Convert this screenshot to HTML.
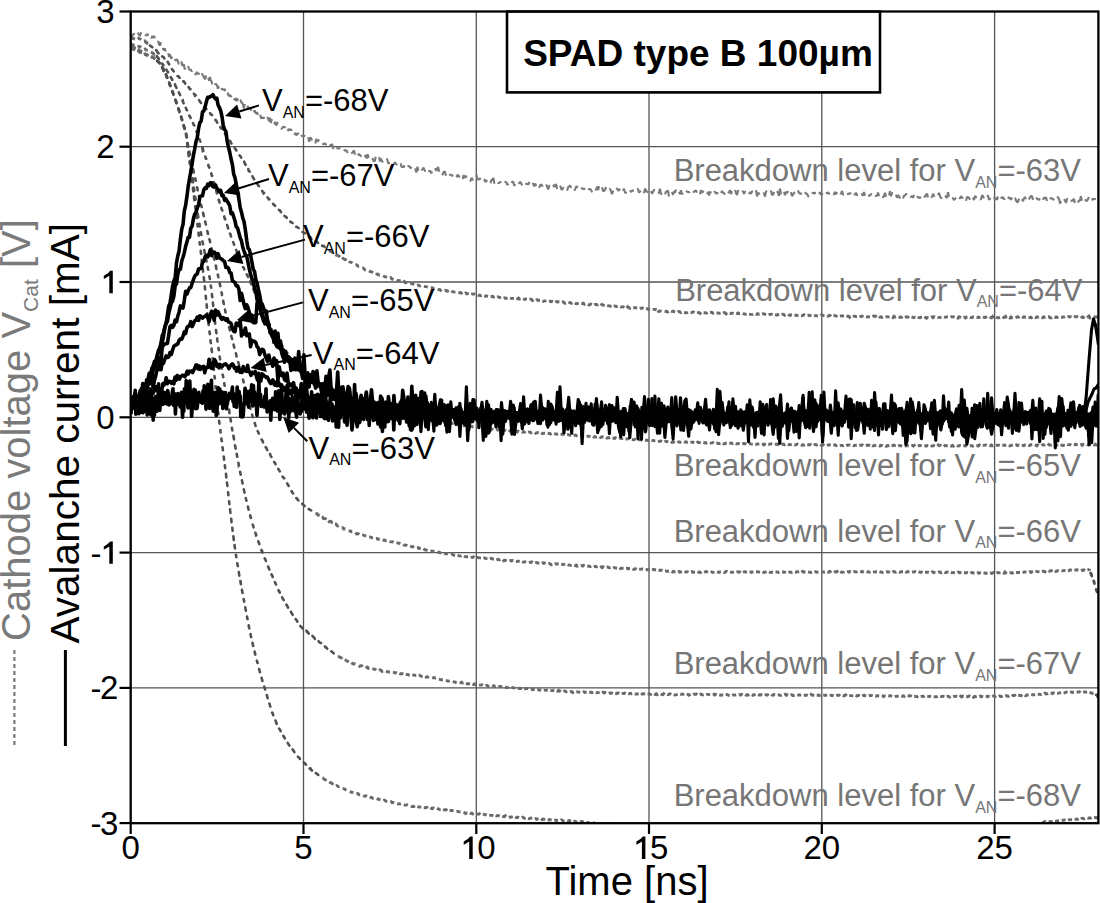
<!DOCTYPE html>
<html><head><meta charset="utf-8"><style>
html,body{margin:0;padding:0;background:#fff;width:1100px;height:903px;overflow:hidden}
svg{display:block;font-family:"Liberation Sans",sans-serif}
.tk{font-size:33px;fill:#000}
.ttl{font-size:40px;fill:#000}
.bt{font-size:37px;font-weight:bold;fill:#000}
.bd{font-size:31px;fill:#767676}
.an{font-size:31px;fill:#000}
.sb{font-size:16px}
.sb2{font-size:16px}
.sb3{font-size:21px}
.gr{stroke:#555;stroke-width:1.3}
.gd{fill:none;stroke:#505050;stroke-width:2.6;stroke-linecap:round}
.gd63{fill:none;stroke:#767676;stroke-width:2.1;stroke-linejoin:bevel}
.gd63f{fill:none;stroke:#7a7a7a;stroke-width:2.1;stroke-linejoin:bevel}
.gdf{fill:none;stroke:#6a6a6a;stroke-width:2.9}
.bk{fill:none;stroke:#000;stroke-width:3.1;stroke-linejoin:round}
.bk2{fill:none;stroke:#000;stroke-width:3.6;stroke-linejoin:round}
</style></head><body>
<svg width="1100" height="903" viewBox="0 0 1100 903">
<defs><clipPath id="pc"><rect x="130.7" y="11.5" width="967.7" height="811.7"/></clipPath></defs>
<line x1="303.5" y1="11.5" x2="303.5" y2="823.2" class="gr"/>
<line x1="476.3" y1="11.5" x2="476.3" y2="823.2" class="gr"/>
<line x1="649.0" y1="11.5" x2="649.0" y2="823.2" class="gr"/>
<line x1="821.8" y1="11.5" x2="821.8" y2="823.2" class="gr"/>
<line x1="994.6" y1="11.5" x2="994.6" y2="823.2" class="gr"/>
<line x1="130.7" y1="146.7" x2="1098.4" y2="146.7" class="gr"/>
<line x1="130.7" y1="282.0" x2="1098.4" y2="282.0" class="gr"/>
<line x1="130.7" y1="417.3" x2="1098.4" y2="417.3" class="gr"/>
<line x1="130.7" y1="552.6" x2="1098.4" y2="552.6" class="gr"/>
<line x1="130.7" y1="687.9" x2="1098.4" y2="687.9" class="gr"/>
<g clip-path="url(#pc)">
<path d="M157.7,42.1 L158.4,41.1 L159.0,44.5 L159.6,45.1 L160.2,45.3 L160.9,42.1M162.8,47.8 L163.4,49.4 L164.1,50.4 L164.8,48.3 L165.5,50.8 L166.2,50.7M168.3,53.1 L169.1,57.0 L169.8,54.5 L170.6,56.4 L171.3,58.6 L172.1,56.7M208.2,77.7 L209.1,80.8 L209.9,76.9 L210.7,80.0 L211.5,81.3 L212.3,84.2M214.7,85.0 L215.5,83.9 L216.3,84.4 L217.1,85.2 L217.9,88.8 L218.8,86.0M221.2,87.9 L222.1,89.6 L222.9,89.4 L223.7,89.8 L224.5,88.8 L225.3,91.3M227.7,92.4 L228.5,95.7 L229.3,95.5 L230.0,95.0 L230.8,96.8 L231.6,95.7M233.9,100.0 L234.6,98.8 L235.4,100.5 L236.2,97.9 L237.0,101.3 L237.9,98.4M253.8,112.4 L254.6,110.3 L255.4,112.6 L256.2,113.4 L257.0,112.1 L257.8,115.0M260.2,114.8 L261.1,118.5 L261.9,117.7 L262.8,118.0 L263.6,117.3 L264.5,118.6" class="gd63"/>
<path d="M131.0,36.0 L132.0,36.3 L132.9,35.0 L133.9,33.7 L134.9,34.2M137.8,32.6 L138.8,34.2 L139.8,36.3 L140.8,33.1 L141.8,32.8M144.7,35.2 L145.7,35.3 L146.6,35.2 L147.5,33.9 L148.4,35.8M151.5,38.8 L152.3,35.8 L153.1,37.9 L154.0,36.0 L154.8,37.6 L155.6,37.3M174.6,59.2 L175.4,60.2 L176.3,60.6 L177.1,59.0 L178.0,61.7 L178.8,64.5M181.3,61.2 L182.2,65.8 L183.0,65.1 L183.8,64.3 L184.7,69.3 L185.5,67.8M188.1,66.0 L188.9,68.7 L189.8,70.1 L190.6,69.3 L191.5,71.3 L192.4,70.5M195.0,73.2 L195.9,75.0 L196.8,71.9 L197.6,73.8 L198.5,73.1 L199.4,74.6M201.7,73.4 L202.6,74.9 L203.5,76.0 L204.4,78.3 L205.2,79.2 L206.1,75.5M240.4,99.4 L241.3,102.8 L242.1,102.3 L243.0,104.6 L243.9,108.6 L244.8,103.9M247.3,105.7 L248.2,107.7 L249.0,108.7 L249.8,108.2 L250.6,108.7 L251.4,110.8M267.2,116.7 L268.1,118.6 L269.1,121.5 L270.0,117.7 L270.9,123.1 L271.8,119.1M274.2,124.3 L275.1,121.9 L276.0,125.1 L276.9,124.4 L277.8,121.9M281.0,128.1 L281.9,128.9 L282.8,126.8 L283.7,126.8 L284.6,127.5 L285.5,126.6M287.7,131.2 L288.6,128.9 L289.5,130.2 L290.4,129.4 L291.3,130.1 L292.2,129.5M294.4,134.9 L295.3,132.9 L296.2,135.3 L297.1,134.1 L298.0,133.3 L298.9,134.3M301.2,134.9 L302.2,136.3 L303.1,136.0 L304.0,136.5 L304.9,135.0M308.2,137.2 L309.2,141.8 L310.1,138.1 L311.0,137.8 L312.0,140.5M315.3,143.5 L316.2,138.9 L317.2,141.4 L318.1,141.0 L319.1,139.4M322.4,144.7 L323.4,143.7 L324.3,144.2 L325.3,143.1 L326.2,145.5M329.5,144.8 L330.5,145.8 L331.5,144.5 L332.4,144.6 L333.4,149.2M336.7,147.1 L337.7,148.8 L338.6,148.5 L339.6,148.1 L340.5,148.3M343.9,151.2 L344.9,149.9 L345.8,150.4 L346.8,151.0 L347.7,153.2M351.1,153.3 L352.1,153.0 L353.1,151.6 L354.0,150.5 L355.0,154.7M357.9,155.5 L358.9,153.8 L359.9,155.2 L360.8,155.9 L361.8,156.2M364.7,157.1 L365.7,155.0 L366.6,158.6 L367.6,154.2 L368.6,158.1M371.9,158.4 L372.9,159.3 L373.8,161.3 L374.8,161.0 L375.7,156.8M379.1,157.0 L380.0,161.5 L381.0,158.7 L381.9,160.8 L382.9,162.5M386.2,159.4 L387.2,158.9 L388.1,163.2 L389.1,163.1 L390.0,162.9M393.4,164.4 L394.3,163.1 L395.3,162.3 L396.3,164.8 L397.2,163.7M400.7,163.3 L401.6,167.2 L402.6,166.5 L403.6,167.4 L404.6,165.3M407.5,166.4 L408.5,166.0 L409.5,166.4 L410.5,168.4 L411.5,166.9M414.4,169.3 L415.4,169.4 L416.4,172.5 L417.4,166.8 L418.4,170.8M421.3,169.6 L422.3,169.9 L423.3,167.6 L424.3,169.5 L425.3,171.6M428.3,170.7 L429.2,171.1 L430.2,170.6 L431.2,173.3 L432.2,171.4M435.2,168.2 L436.2,170.9 L437.1,168.9 L438.1,166.9 L439.1,171.7M442.1,175.3 L443.1,173.3 L444.0,171.4 L445.0,172.0 L446.0,175.7M448.9,174.7 L449.9,174.7 L450.9,174.8 L451.9,175.1 L452.9,176.6M455.8,176.8 L456.8,176.4 L457.8,174.5 L458.7,177.3 L459.7,175.5M462.7,179.0 L463.7,175.1 L464.7,177.2 L465.6,177.6 L466.6,175.5M469.6,181.1 L470.6,180.8 L471.6,177.7 L472.6,179.9 L473.6,179.3M476.5,174.6 L477.5,179.6 L478.5,179.2 L479.5,179.6 L480.5,177.7M483.5,179.4 L484.5,179.7 L485.5,182.1 L486.5,180.8 L487.5,180.3M490.5,183.2 L491.4,179.8 L492.4,180.2 L493.4,177.9 L494.4,183.7M497.4,183.0 L498.4,183.1 L499.4,182.7 L500.4,181.9 L501.4,182.2M504.4,181.7 L505.4,181.9 L506.4,182.4 L507.4,185.0 L508.4,183.5M511.3,182.7 L512.3,181.9 L513.3,181.9 L514.3,185.8 L515.3,184.1M518.3,183.6 L519.3,183.0 L520.3,181.8 L521.3,183.7 L522.3,185.4M525.3,183.5 L526.3,183.9 L527.3,184.0 L528.3,184.6 L529.3,181.8M532.2,184.4 L533.2,183.4 L534.2,186.5 L535.2,183.7 L536.2,186.1M539.2,188.0 L540.2,184.9 L541.2,184.5 L542.2,186.0 L543.2,185.7M546.2,184.3 L547.2,186.8 L548.2,189.5 L549.2,185.8 L550.2,185.9M553.2,184.7 L554.2,187.1 L555.2,184.5 L556.2,184.8 L557.2,189.0M560.2,185.5 L561.2,188.9 L562.2,189.7 L563.2,187.7 L564.1,188.2M567.1,190.8 L568.1,187.2 L569.1,186.6 L570.1,185.4 L571.1,187.8M574.1,190.5 L575.1,189.7 L576.1,186.5 L577.1,186.7 L578.1,187.4M581.1,188.9 L582.1,188.2 L583.1,188.9 L584.1,189.1 L585.1,188.2M588.1,188.8 L589.1,189.3 L590.1,188.9 L591.1,189.9 L592.1,192.3M595.1,190.3 L596.1,189.5 L597.1,186.6 L598.1,190.1 L599.1,186.2M602.1,187.3 L603.1,191.2 L604.1,191.0 L605.1,189.6 L606.1,187.0M609.1,189.4 L610.1,189.0 L611.1,191.3 L612.1,194.1 L613.1,190.6M616.1,189.1 L617.1,188.5 L618.1,190.4 L619.1,190.2 L620.1,188.6M623.0,190.9 L624.0,188.8 L625.0,192.7 L626.0,192.7 L627.0,192.7M630.0,190.2 L631.0,191.9 L632.0,190.9 L633.0,190.5 L634.0,190.6M637.0,189.1 L638.0,188.9 L639.0,192.7 L640.0,191.1 L641.0,191.8M644.0,193.2 L645.0,188.6 L646.0,190.3 L647.0,191.9 L648.0,192.3M651.0,191.1 L652.0,193.5 L653.0,192.2 L654.0,189.8 L655.0,190.3M658.0,193.3 L659.0,192.8 L660.0,188.8 L661.0,194.3 L662.0,193.1M665.0,194.4 L666.0,191.5 L667.0,191.7 L668.0,190.3 L669.0,196.5M672.0,192.0 L673.0,195.0 L674.0,191.2 L675.0,192.6 L676.0,189.5M679.0,191.8 L680.0,194.1 L681.0,190.3 L682.0,194.3 L683.0,193.1M686.0,190.8 L687.0,191.7 L688.0,191.8 L689.0,192.5 L690.0,191.7M693.0,191.2 L694.0,192.1 L695.0,190.9 L696.0,190.5 L697.0,192.6M700.0,194.2 L701.0,190.1 L702.0,192.7 L703.0,191.6 L704.0,191.1M707.0,194.2 L708.0,191.9 L709.0,195.4 L710.0,191.5 L711.0,193.5M714.0,192.5 L715.0,191.6 L716.0,193.9 L717.0,192.6 L718.0,193.9M721.0,192.9 L722.0,191.1 L723.0,192.8 L724.0,193.1 L725.0,194.6M728.0,191.5 L729.0,192.9 L730.0,190.1 L731.0,194.1 L732.0,191.2M735.0,190.0 L736.0,193.0 L737.0,195.0 L738.0,190.5 L739.0,191.2M742.0,191.9 L743.0,191.2 L744.0,193.8 L745.0,191.8 L746.0,191.9M749.0,194.2 L750.0,191.9 L751.0,193.9 L752.0,191.5 L753.0,191.1M756.0,190.1 L757.0,196.4 L758.0,192.7 L759.0,193.7 L760.0,193.2M763.0,193.6 L764.0,193.4 L765.0,196.6 L766.0,191.6 L767.0,190.7M770.0,191.6 L771.0,191.1 L772.0,194.6 L773.0,194.8 L774.0,191.8M777.0,191.1 L778.0,192.8 L779.0,195.8 L780.0,188.7 L781.0,194.4M784.0,191.7 L785.0,195.3 L786.0,191.7 L787.0,193.0 L788.0,191.0M791.0,191.9 L792.0,195.9 L793.0,195.0 L794.0,192.9 L795.0,192.1M798.0,190.4 L799.0,193.0 L800.0,193.6 L801.0,193.6 L802.0,193.6M805.0,191.9 L806.0,193.7 L807.0,193.7 L808.0,196.0 L809.0,197.0M812.0,193.6 L813.0,192.6 L814.0,193.8 L815.0,192.9 L816.0,192.7M819.0,193.9 L820.0,192.2 L821.0,195.0 L822.0,193.9 L823.0,194.5M826.0,193.8 L827.0,192.9 L828.0,192.5 L829.0,193.8 L830.0,193.3M833.0,194.6 L834.0,194.3 L835.0,192.0 L836.0,194.4 L837.0,192.0M840.0,193.3 L841.0,193.9 L842.0,190.9 L843.0,194.6 L844.0,194.7M847.0,194.3 L848.0,193.8 L849.0,193.9 L850.0,192.9 L851.0,194.2M854.0,193.7 L855.0,194.9 L856.0,192.7 L857.0,195.1 L858.0,195.0M861.0,194.6 L862.0,194.1 L863.0,195.8 L864.0,192.1 L865.0,195.7M868.0,195.4 L869.0,195.5 L870.0,195.7 L871.0,194.0 L872.0,194.6M875.0,196.2 L876.0,195.9 L877.0,195.6 L878.0,192.6 L879.0,196.2M882.0,197.3 L883.0,197.1 L884.0,195.8 L885.0,192.7 L886.0,197.0M889.0,195.2 L890.0,191.2 L891.0,196.2 L892.0,193.0 L893.0,193.4M896.0,194.6 L897.0,197.8 L898.0,195.1 L899.0,196.2 L900.0,198.7M903.0,198.5 L904.0,195.7 L905.0,195.5 L906.0,193.7 L907.0,194.7M910.0,196.7 L911.0,196.7 L912.0,196.2 L913.0,197.8 L914.0,194.8M917.0,196.1 L918.0,197.4 L919.0,197.2 L920.0,198.1 L921.0,196.9M924.0,195.8 L925.0,197.0 L926.0,194.7 L927.0,193.6 L928.0,197.4M931.0,196.4 L932.0,197.1 L933.0,193.7 L934.0,196.0 L935.0,195.6M938.0,195.2 L939.0,192.9 L940.0,196.2 L941.0,198.3 L942.0,197.4M945.0,195.8 L946.0,196.8 L947.0,198.2 L948.0,192.2 L949.0,196.7M952.0,197.9 L953.0,198.2 L954.0,200.0 L955.0,199.0 L956.0,197.6M959.0,197.7 L960.0,198.5 L961.0,196.3 L962.0,197.2 L963.0,198.8M966.0,200.7 L967.0,197.1 L968.0,197.3 L969.0,197.8 L970.0,199.7M973.0,197.5 L974.0,200.0 L975.0,195.9 L976.0,197.3 L977.0,197.3M980.0,199.0 L981.0,199.5 L982.0,195.2 L983.0,196.2 L984.0,198.3M987.0,196.7 L988.0,195.3 L989.0,199.7 L990.0,198.7 L991.0,198.8M994.0,197.2 L995.0,199.8 L996.0,197.6 L997.0,199.9 L998.0,196.5M1001.0,196.7 L1002.0,198.5 L1003.0,197.0 L1004.0,199.4 L1005.0,198.7M1008.0,196.7 L1009.0,198.4 L1010.0,197.7 L1011.0,199.9 L1012.0,197.3M1015.0,197.7 L1016.0,200.5 L1017.0,202.3 L1018.0,201.9 L1019.0,198.6M1022.0,199.0 L1023.0,201.2 L1024.0,198.4 L1025.0,197.0 L1026.0,198.9M1029.0,199.5 L1030.0,197.3 L1031.0,196.0 L1032.0,196.3 L1033.0,199.9M1036.0,197.6 L1037.0,198.6 L1038.0,199.3 L1039.0,200.0 L1040.0,198.4M1043.0,199.8 L1044.0,197.5 L1045.0,198.4 L1046.0,197.3 L1047.0,201.0M1050.0,199.1 L1051.0,197.9 L1052.0,198.6 L1053.0,198.8 L1054.0,200.4M1057.0,196.5 L1058.0,197.5 L1059.0,198.6 L1060.0,203.6 L1061.0,200.9M1064.0,199.2 L1065.0,200.6 L1066.0,202.9 L1067.0,199.0 L1068.0,198.8M1070.9,201.6 L1071.9,200.4 L1072.9,200.7 L1073.9,198.7 L1074.9,202.9M1077.9,202.5 L1078.9,200.6 L1079.9,200.8 L1080.9,196.2 L1081.9,200.8M1084.9,199.4 L1085.9,200.5 L1086.9,201.0 L1087.9,199.2 L1088.9,197.0M1091.9,200.5 L1092.9,198.6 L1093.9,199.4 L1094.9,198.9 L1095.9,199.4" class="gd63f"/>
<path d="M150.0,45.5 L150.8,46.2 L151.5,46.6 L152.3,47.2M156.2,50.0 L157.0,51.2 L157.7,52.6 L158.5,53.3M162.2,56.4 L162.9,56.9 L163.6,57.1 L164.3,58.5M167.6,61.8 L168.1,62.6 L168.6,63.4 L169.1,64.4M171.9,69.0 L172.5,69.9 L173.1,70.4 L173.7,71.4M177.5,76.3 L178.2,76.2 L178.9,76.8 L179.6,77.8M183.2,81.4 L183.9,81.5 L184.6,82.5 L185.2,83.6M188.6,87.1 L189.2,87.8 L189.9,89.1 L190.5,89.1M193.9,93.7 L194.5,94.3 L195.1,95.8 L195.8,95.3M199.1,100.1 L199.7,101.0 L200.4,102.2 L201.0,102.9M204.5,107.5 L205.1,107.2 L205.8,108.7 L206.4,109.1M210.1,113.2 L210.7,114.3 L211.3,114.6 L212.0,115.0M215.4,119.9 L216.0,120.3 L216.6,121.4 L217.2,122.6M220.3,127.1 L220.8,128.3 L221.4,128.5 L222.0,128.9M225.0,133.8 L225.5,134.5 L226.1,135.3 L226.6,136.7M229.7,140.8 L230.3,141.2 L230.9,143.0 L231.5,143.5M234.7,148.1 L235.3,148.8 L235.9,149.8 L236.4,150.4M239.6,155.4 L240.1,155.9 L240.7,156.7 L241.2,157.6M244.1,161.6 L244.6,162.9 L245.1,163.8 L245.6,164.8M248.3,169.1 L248.8,171.0 L249.3,171.3 L249.7,171.7M252.5,176.3 L253.1,177.6 L253.6,178.6 L254.1,179.2M257.3,184.0 L257.8,184.5 L258.4,185.8 L259.0,186.1M262.2,190.8 L262.8,192.0 L263.5,193.3 L264.1,192.9M267.5,197.4 L268.1,198.0 L268.8,199.3 L269.4,199.4M273.1,203.8 L273.8,204.7 L274.4,205.1 L275.1,205.8M278.9,209.9 L279.6,210.1 L280.3,211.0 L281.0,212.1M284.5,215.9 L285.2,216.5 L285.9,216.6 L286.7,217.8M290.3,221.6 L291.0,222.2 L291.8,222.7 L292.5,223.0M296.3,226.8 L297.1,227.1 L297.9,227.5 L298.6,228.2M302.6,232.1 L303.4,232.3 L304.2,233.2 L305.0,233.2M309.0,236.7 L309.8,236.7 L310.6,237.5 L311.4,239.0M315.5,241.3 L316.3,241.4 L317.2,242.1 L318.0,242.8M322.1,245.9 L323.0,245.9 L323.8,246.0 L324.6,247.0" class="gd"/>
<path d="M131.0,37.2 L132.0,38.6 L133.0,38.3 L134.0,38.7 L135.0,39.1M137.5,38.7 L138.4,38.3 L139.4,38.8 L140.4,39.0 L141.3,39.6M144.0,41.1 L144.8,40.9 L145.7,42.3 L146.5,42.2 L147.3,43.5 L148.1,44.0M328.8,249.9 L329.7,250.4 L330.5,251.4 L331.4,251.6 L332.2,252.3 L333.1,252.1M335.7,254.4 L336.5,255.3 L337.4,255.3 L338.2,255.7 L339.1,256.1 L340.0,257.2M342.1,257.5 L343.0,258.3 L343.9,258.9 L344.8,259.5 L345.7,259.6 L346.5,260.3M348.8,261.3 L349.6,261.9 L350.5,262.2 L351.4,262.3 L352.3,263.1M355.5,265.0 L356.4,264.8 L357.3,265.5 L358.2,266.2 L359.1,266.0M362.3,267.9 L363.2,267.9 L364.1,269.1 L365.0,269.9 L365.9,270.2M369.1,270.8 L370.1,271.5 L371.0,271.6 L371.9,272.0 L372.9,272.9M376.1,273.1 L377.1,274.3 L378.0,274.2 L379.0,275.1 L379.9,275.0M383.2,275.8 L384.2,276.5 L385.1,276.9 L386.1,277.0 L387.0,277.5M389.9,278.0 L390.8,277.7 L391.8,279.0 L392.8,279.2 L393.7,279.3M396.6,280.1 L397.6,280.7 L398.5,280.4 L399.5,280.6 L400.5,281.1M403.4,282.3 L404.4,281.6 L405.3,282.8 L406.3,282.4 L407.3,282.4M410.2,283.9 L411.2,283.7 L412.1,283.5 L413.1,284.0 L414.1,284.7M417.0,285.4 L418.0,285.1 L419.0,285.6 L420.0,285.9 L420.9,285.6M423.9,286.5 L424.9,286.6 L425.8,286.6 L426.8,286.8 L427.8,287.2M430.8,287.7 L431.7,287.7 L432.7,287.9 L433.7,288.7 L434.7,288.5M437.6,289.3 L438.6,289.6 L439.6,289.5 L440.6,290.3 L441.6,289.4M444.5,290.4 L445.5,290.2 L446.5,291.1 L447.5,291.2 L448.5,290.1M451.5,290.9 L452.4,291.6 L453.4,291.8 L454.4,292.0 L455.4,291.8M458.4,292.5 L459.4,292.7 L460.4,292.6 L461.3,293.1 L462.3,292.1M464.8,293.5 L465.8,293.0 L466.8,293.9 L467.8,293.6 L468.8,293.5M471.3,294.3 L472.2,293.9 L473.2,294.1 L474.2,294.0 L475.2,294.6M477.7,295.1 L478.7,295.4 L479.7,295.2 L480.7,295.7 L481.7,295.4M484.2,295.7 L485.1,296.0 L486.1,296.3 L487.1,295.9 L488.1,296.1M490.6,296.4 L491.6,296.5 L492.6,296.3 L493.6,297.1 L494.6,296.7M497.1,297.2 L498.1,296.8 L499.1,297.4 L500.1,297.5 L501.1,297.3M503.6,298.3 L504.6,297.8 L505.6,298.4 L506.6,298.2 L507.5,297.7M510.0,298.0 L511.0,298.4 L512.0,298.4 L513.0,298.4 L514.0,298.4M516.5,298.1 L517.5,298.7 L518.5,298.1 L519.5,299.1 L520.5,298.7M523.0,298.9 L524.0,299.2 L525.0,299.4 L526.0,298.9 L527.0,298.9M529.5,299.3 L530.5,299.0 L531.5,299.5 L532.5,300.5 L533.5,299.6M536.0,300.4 L537.0,299.7 L538.0,300.4 L539.0,300.3 L540.0,300.4M542.4,300.8 L543.4,301.3 L544.4,300.9 L545.4,300.9 L546.4,300.6M548.9,301.3 L549.9,301.1 L550.9,301.6 L551.9,301.3 L552.9,302.0M555.4,300.9 L556.4,301.6 L557.4,302.1 L558.4,301.7 L559.4,301.7M561.9,302.1 L562.9,301.8 L563.9,302.4 L564.9,303.3 L565.9,302.9M568.4,302.3 L569.4,302.5 L570.4,302.7 L571.4,303.3 L572.4,302.7M574.8,303.0 L575.8,303.6 L576.8,303.7 L577.8,303.3 L578.8,303.1M581.3,303.2 L582.3,303.5 L583.3,303.1 L584.3,304.2 L585.3,303.8M587.8,304.4 L588.8,304.9 L589.8,304.8 L590.8,304.0 L591.8,304.8M594.3,305.1 L595.3,304.5 L596.3,304.5 L597.3,304.9 L598.3,304.4M600.8,305.7 L601.8,304.4 L602.8,305.0 L603.8,305.3 L604.8,305.4M607.2,305.7 L608.2,305.9 L609.2,305.8 L610.2,306.3 L611.2,305.2M613.7,306.2 L614.7,306.0 L615.7,306.4 L616.7,306.5 L617.7,306.2M620.2,306.4 L621.2,307.0 L622.2,306.9 L623.2,306.7 L624.2,307.7M626.7,308.0 L627.7,306.7 L628.7,307.4 L629.7,308.3 L630.7,307.7M633.2,307.7 L634.2,307.7 L635.2,307.6 L636.2,307.8 L637.2,307.8M639.7,308.4 L640.7,308.1 L641.6,308.2 L642.6,308.0 L643.6,308.5M646.1,308.4 L647.1,308.7 L648.1,309.2 L649.1,309.1 L650.1,309.2M652.6,309.4 L653.6,309.4 L654.6,309.4 L655.6,309.5 L656.6,310.1M657.6,310.5 L658.6,311.5 L659.6,311.1 L660.6,310.9 L661.6,311.1M664.6,311.2 L665.6,311.5 L666.6,311.3 L667.6,312.0 L668.6,311.3M671.1,310.9 L672.1,311.5 L673.1,311.1 L674.1,311.8 L675.1,312.2M677.6,312.1 L678.6,311.5 L679.6,311.7 L680.6,312.6 L681.6,312.2M684.1,312.1 L685.1,312.5 L686.1,313.0 L687.1,312.7 L688.1,312.3M690.6,312.5 L691.6,312.6 L692.6,312.2 L693.6,312.0 L694.6,312.5M697.1,312.2 L698.1,312.5 L699.1,312.6 L700.1,313.4 L701.1,312.3M703.6,312.7 L704.6,312.7 L705.6,312.9 L706.6,313.2 L707.6,312.6M710.1,312.6 L711.1,312.3 L712.1,312.6 L713.1,313.2 L714.1,313.0M716.6,312.7 L717.6,313.0 L718.6,313.1 L719.6,313.3 L720.6,313.0M723.1,313.2 L724.1,312.6 L725.1,312.9 L726.1,313.9 L727.1,312.6M729.6,313.3 L730.6,313.5 L731.6,313.3 L732.6,313.2 L733.6,313.5M736.1,313.6 L737.1,313.6 L738.1,313.0 L739.1,313.6 L740.1,313.4M742.6,313.6 L743.6,313.9 L744.6,314.0 L745.6,314.2 L746.6,313.7M749.1,314.3 L750.1,314.4 L751.1,314.4 L752.1,314.5 L753.1,314.0M755.6,314.0 L756.6,314.4 L757.6,313.7 L758.6,314.2 L759.6,314.0M762.1,314.1 L763.1,313.7 L764.1,314.0 L765.1,314.3 L766.1,314.7M768.6,314.8 L769.6,314.4 L770.6,314.4 L771.6,314.2 L772.6,314.7M775.1,314.5 L776.1,314.8 L777.1,315.2 L778.1,314.6 L779.1,314.2M781.6,314.4 L782.6,314.2 L783.6,314.4 L784.6,315.3 L785.6,314.9M788.1,314.4 L789.1,315.1 L790.1,315.4 L791.0,314.8 L792.0,314.7M794.5,314.9 L795.5,315.2 L796.5,315.3 L797.5,315.5 L798.5,315.6M801.0,315.6 L802.0,315.7 L803.0,315.5 L804.0,314.7 L805.0,315.2M807.5,315.4 L808.5,315.2 L809.5,315.7 L810.5,315.3 L811.5,315.1M814.0,316.0 L815.0,315.7 L816.0,315.6 L817.0,315.9 L818.0,315.9M820.5,315.7 L821.5,314.8 L822.5,315.4 L823.5,315.5 L824.5,315.4M827.0,315.8 L828.0,316.2 L829.0,315.6 L830.0,315.4 L831.0,316.5M833.5,315.7 L834.5,315.5 L835.5,316.0 L836.5,316.1 L837.5,315.7M840.0,316.3 L841.0,315.9 L842.0,315.7 L843.0,316.1 L844.0,316.4M846.5,315.9 L847.5,316.3 L848.5,316.1 L849.5,317.2 L850.5,316.0M853.0,316.7 L854.0,316.3 L855.0,316.3 L856.0,316.6 L857.0,316.6M859.5,316.8 L860.5,316.5 L861.5,316.2 L862.5,316.2 L863.5,316.6M866.0,316.7 L867.0,317.0 L868.0,316.7 L869.0,316.9 L870.0,317.1M872.5,316.7 L873.5,316.1 L874.5,316.2 L875.5,316.1 L876.5,317.2M879.0,316.4 L880.0,317.2 L881.0,316.9 L882.0,317.4 L883.0,317.1M885.5,316.8 L886.5,316.7 L887.5,316.9 L888.5,316.9 L889.5,316.7M892.0,316.9 L893.0,317.5 L894.0,316.3 L895.0,317.0 L896.0,316.6M898.5,317.0 L899.5,317.3 L900.5,317.0 L901.5,317.3 L902.5,316.5M905.0,317.4 L906.0,316.8 L907.0,317.3 L908.0,317.1 L909.0,316.2M911.5,316.8 L912.5,317.2 L913.5,317.7 L914.5,317.2 L915.5,317.2M918.0,316.7 L919.0,317.7 L920.0,317.8 L921.0,317.2 L922.0,317.1M924.5,316.6 L925.5,317.5 L926.5,318.2 L927.5,317.5 L928.5,317.7M931.0,317.4 L932.0,316.9 L933.0,317.7 L934.0,316.8 L935.0,317.2M937.5,317.4 L938.5,317.6 L939.5,317.4 L940.5,317.4 L941.5,317.0M944.0,316.9 L945.0,317.3 L946.0,317.1 L947.0,316.9 L948.0,316.9M950.5,317.2 L951.5,316.7 L952.5,316.9 L953.5,316.8 L954.5,317.4M957.0,317.5 L958.0,318.1 L959.0,316.8 L960.0,317.1 L961.0,317.7M963.5,317.3 L964.5,317.2 L965.5,318.0 L966.5,317.2 L967.5,317.0M970.0,316.9 L971.0,317.5 L972.0,317.5 L973.0,316.9 L974.0,317.0M976.5,317.6 L977.5,317.6 L978.5,317.1 L979.5,317.6 L980.5,317.6M983.0,316.7 L984.0,317.3 L985.0,317.5 L986.0,317.2 L987.0,316.6M989.5,317.3 L990.5,317.6 L991.5,317.9 L992.5,316.6 L993.5,318.3M996.0,317.0 L997.0,317.7 L998.0,317.8 L999.0,317.7 L1000.0,317.4M1002.5,316.9 L1003.5,317.6 L1004.5,317.1 L1005.5,316.4 L1006.5,318.3M1009.0,317.6 L1010.0,318.0 L1011.0,317.0 L1012.0,317.8 L1013.0,317.9M1015.5,317.8 L1016.5,317.3 L1017.5,316.9 L1018.5,317.2 L1019.5,316.5M1022.0,316.7 L1023.0,317.3 L1024.0,316.9 L1025.0,317.2 L1026.0,317.2M1028.5,317.9 L1029.5,317.7 L1030.5,317.2 L1031.5,317.7 L1032.5,317.0M1035.0,317.1 L1036.0,317.6 L1037.0,316.8 L1038.0,317.1 L1039.0,316.8M1041.5,317.3 L1042.5,317.8 L1043.5,316.9 L1044.5,317.3 L1045.5,316.9M1048.0,316.8 L1049.0,316.7 L1050.0,317.7 L1051.0,318.0 L1052.0,317.3M1054.5,316.9 L1055.5,317.4 L1056.5,317.0 L1057.5,317.4 L1058.5,317.2M1061.0,317.2 L1062.0,317.3 L1063.0,316.9 L1064.0,317.0 L1065.0,316.5M1067.5,316.9 L1068.5,316.6 L1069.5,317.0 L1070.5,316.7 L1071.5,317.1M1074.0,317.2 L1075.0,316.6 L1076.0,316.8 L1077.0,316.7 L1078.0,317.3M1080.5,317.6 L1081.5,317.3 L1082.5,316.9 L1083.5,317.5 L1084.5,316.5M1087.0,317.5 L1088.0,316.8 L1089.0,316.0 L1090.0,317.9 L1091.0,317.6M1093.5,316.6 L1094.5,317.1 L1095.5,316.9 L1096.5,317.0 L1097.5,316.5" class="gdf"/>
<path d="M156.9,56.2 L157.6,57.3 L158.3,57.9 L158.9,59.0M161.8,63.6 L162.4,63.9 L162.9,64.4 L163.5,65.2M166.4,69.7 L166.9,70.5 L167.5,71.3 L168.0,72.4M170.8,77.1 L171.3,78.3 L171.8,78.8 L172.3,79.8M175.0,84.3 L175.4,86.0 L175.9,86.5 L176.4,87.8M178.8,92.4 L179.3,93.5 L179.7,93.9 L180.1,95.1M182.4,100.7 L182.8,100.5 L183.2,102.1 L183.6,103.2M185.8,107.8 L186.2,108.9 L186.6,109.9 L187.0,110.2M189.3,115.6 L189.7,116.1 L190.2,117.0 L190.6,118.0M193.0,123.1 L193.4,124.0 L193.8,125.0 L194.3,125.4M196.4,131.5 L196.8,132.2 L197.2,132.9 L197.5,133.6M199.5,139.3 L199.8,140.5 L200.1,141.4 L200.4,141.7M202.3,148.1 L202.6,149.7 L202.9,149.2 L203.3,151.0M205.3,156.5 L205.6,157.3 L205.9,158.7 L206.3,158.8M208.3,164.9 L208.6,166.3 L208.9,166.7 L209.3,167.6M211.2,173.4 L211.5,174.2 L211.8,175.7 L212.1,175.9M213.9,182.2 L214.1,182.5 L214.4,184.1 L214.7,184.8M216.2,189.9 L216.4,191.6 L216.7,192.3 L216.9,193.4M218.6,199.8 L218.9,199.9 L219.2,200.9 L219.5,202.6M221.3,207.9 L221.7,209.3 L222.0,209.9 L222.3,210.5M224.2,216.4 L224.5,217.8 L224.8,218.6 L225.2,219.3M227.1,225.0 L227.4,225.9 L227.7,226.7 L228.1,228.4M230.0,233.5 L230.4,234.1 L230.7,235.2 L231.0,236.5M233.1,242.1 L233.4,242.8 L233.8,243.6 L234.1,244.8M236.2,249.9 L236.6,250.9 L236.9,252.5 L237.3,253.0M239.6,258.8 L240.0,260.0 L240.4,260.8 L240.8,261.5M243.1,267.1 L243.5,267.6 L243.9,268.2 L244.4,269.4M246.7,274.3 L247.2,274.8 L247.6,276.0 L248.0,276.8M250.3,281.3 L250.7,282.7 L251.1,283.6 L251.5,284.5M253.5,289.2 L253.9,290.6 L254.2,291.6 L254.6,292.6M256.6,297.8 L257.0,299.3 L257.3,299.7 L257.7,300.9M259.9,307.0 L260.3,307.3 L260.6,308.2 L261.0,309.7M263.5,314.7 L264.0,315.6 L264.4,316.6 L264.9,317.8M267.5,321.6 L268.0,322.9 L268.5,323.7 L269.0,324.6M271.8,329.4 L272.3,330.2 L272.8,331.4 L273.3,331.9M276.3,336.9 L276.8,337.8 L277.3,338.3 L277.9,339.4M280.9,344.5 L281.4,344.9 L282.0,345.5 L282.5,346.5M285.6,350.8 L286.2,351.9 L286.8,352.9 L287.4,353.2M290.7,357.8 L291.3,359.0 L291.9,359.3 L292.5,360.3M296.3,363.9 L297.0,364.7 L297.8,365.5 L298.5,366.9M302.3,369.4 L303.1,370.0 L303.8,370.7 L304.6,371.5M308.2,375.1 L309.0,375.6 L309.7,376.9 L310.4,377.0M314.1,380.7 L314.9,381.1 L315.6,381.8 L316.4,381.9M320.3,385.4 L321.0,386.0 L321.9,386.6 L322.7,386.6" class="gd"/>
<path d="M131.0,43.8 L131.9,44.5 L132.9,44.7 L133.8,45.3 L134.8,45.3M137.6,47.0 L138.6,46.4 L139.5,47.1 L140.4,46.8 L141.3,47.3M144.1,49.3 L145.0,49.0 L145.9,49.8 L146.9,50.1 L147.8,50.2M150.9,51.9 L151.8,52.4 L152.6,52.9 L153.5,53.8 L154.3,54.4 L155.1,54.6M326.8,390.3 L327.7,390.4 L328.5,390.9 L329.4,391.5 L330.3,392.0 L331.1,392.7M333.4,393.3 L334.3,393.8 L335.2,394.6 L336.1,395.0 L337.0,395.3M340.2,396.6 L341.1,397.0 L342.0,397.6 L342.9,398.3 L343.9,398.0M347.1,400.1 L348.1,400.2 L349.0,400.2 L349.9,400.9 L350.9,400.6M354.2,401.7 L355.1,402.1 L356.1,402.7 L357.0,403.1 L358.0,403.3M360.8,404.4 L361.8,404.1 L362.7,405.2 L363.7,404.9 L364.6,405.4M367.5,406.4 L368.5,406.4 L369.4,406.6 L370.4,407.0 L371.3,407.6M374.2,408.6 L375.2,408.9 L376.1,408.7 L377.1,409.0 L378.1,409.2M381.0,410.4 L381.9,409.9 L382.9,411.1 L383.9,410.8 L384.9,411.0M387.8,412.0 L388.8,412.4 L389.7,412.5 L390.7,412.9 L391.7,412.8M394.6,413.8 L395.6,414.0 L396.6,413.8 L397.6,414.4 L398.5,414.2M401.5,414.8 L402.5,414.7 L403.4,415.1 L404.4,415.6 L405.4,415.1M408.4,416.3 L409.3,416.4 L410.3,416.5 L411.3,416.0 L412.3,416.8M415.2,417.5 L416.2,417.3 L417.2,417.7 L418.2,417.1 L419.2,418.2M422.1,418.3 L423.1,419.0 L424.1,418.3 L425.1,419.2 L426.1,419.1M429.0,420.0 L430.0,419.6 L431.0,419.9 L432.0,420.9 L433.0,420.1M435.9,420.7 L436.9,421.0 L437.9,420.9 L438.9,421.8 L439.9,422.1M442.8,421.9 L443.8,421.7 L444.8,422.8 L445.8,422.9 L446.8,423.0M449.7,423.6 L450.7,423.1 L451.7,423.5 L452.7,423.3 L453.7,423.4M456.7,424.6 L457.6,424.3 L458.6,425.3 L459.6,424.8 L460.6,424.7M463.1,425.5 L464.1,425.9 L465.1,425.7 L466.1,425.3 L467.1,425.9M469.5,426.5 L470.5,426.1 L471.5,426.2 L472.5,426.8 L473.5,426.7M476.0,426.7 L477.0,427.0 L477.9,427.1 L478.9,427.5 L479.9,427.6M482.4,428.4 L483.4,428.5 L484.3,428.0 L485.3,428.7 L486.3,429.0M489.3,429.2 L490.3,429.5 L491.3,429.1 L492.3,429.1 L493.3,429.7M495.8,429.3 L496.8,429.1 L497.8,430.1 L498.8,429.7 L499.8,429.9M502.3,429.8 L503.3,429.9 L504.3,430.0 L505.2,430.3 L506.2,430.6M508.7,430.0 L509.7,431.0 L510.7,430.5 L511.7,430.6 L512.7,431.2M515.2,431.1 L516.2,430.8 L517.2,431.9 L518.2,431.1 L519.2,431.5M521.7,431.7 L522.7,432.1 L523.7,431.7 L524.7,432.2 L525.7,431.7M528.2,432.5 L529.2,432.0 L530.2,432.2 L531.2,432.9 L532.2,432.5M534.7,432.6 L535.7,433.3 L536.7,432.8 L537.7,432.6 L538.7,433.1M541.2,432.7 L542.1,433.5 L543.1,433.5 L544.1,433.1 L545.1,433.1M547.6,433.6 L548.6,433.6 L549.6,433.3 L550.6,433.9 L551.6,433.2M554.1,433.8 L555.1,433.9 L556.1,434.0 L557.1,434.2 L558.1,433.9M560.6,434.6 L561.6,434.4 L562.6,434.3 L563.6,434.2 L564.6,434.3M567.1,434.9 L568.1,434.6 L569.1,435.0 L570.1,435.4 L571.1,435.4M573.6,435.7 L574.6,435.2 L575.6,435.1 L576.6,435.8 L577.6,435.6M580.1,436.0 L581.1,435.8 L582.1,436.2 L583.1,436.2 L584.1,436.2M586.5,436.3 L587.5,436.3 L588.5,436.3 L589.5,436.4 L590.5,436.7M593.0,436.4 L594.0,437.1 L595.0,436.6 L596.0,437.0 L597.0,436.8M599.5,436.9 L600.5,437.6 L601.5,437.0 L602.5,436.8 L603.5,437.0M606.0,437.3 L607.0,438.1 L608.0,437.6 L609.0,437.9 L610.0,437.4M612.5,437.9 L613.5,438.1 L614.5,438.5 L615.5,437.8 L616.5,438.3M619.0,438.4 L620.0,438.1 L621.0,438.5 L622.0,438.5 L623.0,437.9M625.5,439.0 L626.5,439.0 L627.5,438.8 L628.4,438.6 L629.4,439.5M631.9,439.3 L632.9,439.6 L633.9,439.8 L634.9,439.3 L635.9,439.8M638.4,439.7 L639.4,439.8 L640.4,439.8 L641.4,439.9 L642.4,440.3M644.9,440.2 L645.9,440.2 L646.9,440.2 L647.9,440.5 L648.9,440.2M651.4,440.4 L652.4,440.6 L653.4,440.5 L654.4,440.7 L655.4,440.6M657.9,441.6 L658.9,441.4 L659.9,441.2 L660.9,441.1 L661.9,441.8M664.4,441.4 L665.4,441.3 L666.4,441.5 L667.4,441.6 L668.4,441.9M670.9,441.6 L671.9,442.3 L672.9,441.4 L673.9,442.0 L674.9,441.5M677.4,442.5 L678.4,441.9 L679.4,442.0 L680.4,442.3 L681.4,442.4M683.9,441.8 L684.9,442.1 L685.9,441.8 L686.9,442.3 L687.9,442.3M690.4,442.3 L691.3,442.2 L692.3,442.3 L693.3,442.3 L694.3,442.7M696.8,443.1 L697.8,442.1 L698.8,442.6 L699.8,442.6 L700.8,442.9M703.3,442.5 L704.3,442.8 L705.3,442.5 L706.3,443.1 L707.3,442.9M709.8,442.9 L710.8,443.1 L711.8,442.9 L712.8,442.6 L713.8,443.3M716.3,443.2 L717.3,443.1 L718.3,443.5 L719.3,443.6 L720.3,442.9M722.8,443.1 L723.8,443.8 L724.8,443.8 L725.8,443.1 L726.8,443.0M729.3,443.3 L730.3,443.3 L731.3,443.0 L732.3,443.5 L733.3,443.1M735.8,443.2 L736.8,443.9 L737.8,443.4 L738.8,443.6 L739.8,443.9M742.3,444.0 L743.3,443.6 L744.3,443.8 L745.3,443.5 L746.3,444.3M748.8,444.0 L749.8,443.5 L750.8,443.9 L751.8,444.1 L752.8,444.1M755.3,444.5 L756.3,444.4 L757.3,443.9 L758.3,444.0 L759.3,443.7M761.8,444.2 L762.8,444.2 L763.8,444.9 L764.8,444.2 L765.8,443.5M768.3,444.0 L769.3,444.3 L770.3,443.9 L771.3,444.0 L772.3,444.2M774.8,444.4 L775.8,444.3 L776.8,444.1 L777.8,444.6 L778.8,444.2M781.3,444.3 L782.3,444.0 L783.3,444.2 L784.3,444.7 L785.3,444.0M787.8,444.5 L788.8,444.8 L789.8,444.4 L790.8,444.6 L791.8,444.3M794.3,445.0 L795.3,445.0 L796.3,444.7 L797.3,444.1 L798.3,444.4M800.8,445.0 L801.8,445.3 L802.8,444.8 L803.8,445.1 L804.8,444.6M807.3,444.8 L808.3,444.8 L809.3,445.0 L810.3,444.4 L811.3,445.2M813.8,445.3 L814.8,444.6 L815.8,444.5 L816.8,445.0 L817.8,444.8M820.3,444.3 L821.3,445.2 L822.3,445.1 L823.3,444.9 L824.3,445.7M826.8,445.1 L827.8,444.9 L828.8,445.1 L829.8,444.8 L830.8,444.9M833.3,445.3 L834.3,445.0 L835.3,445.0 L836.3,445.7 L837.3,445.4M839.8,445.5 L840.8,445.4 L841.8,445.4 L842.8,445.7 L843.8,445.3M846.3,445.8 L847.3,445.0 L848.3,445.2 L849.3,444.9 L850.3,445.2M852.8,445.5 L853.8,445.8 L854.8,445.2 L855.8,445.4 L856.8,445.3M859.3,445.2 L860.3,445.1 L861.3,445.4 L862.3,444.9 L863.3,445.5M865.8,445.5 L866.8,445.3 L867.8,445.2 L868.8,445.1 L869.8,446.1M872.3,445.1 L873.3,446.0 L874.3,445.7 L875.3,445.4 L876.3,445.2M878.8,445.9 L879.8,446.1 L880.8,445.3 L881.8,445.5 L882.8,445.9M885.3,445.7 L886.3,446.2 L887.3,445.5 L888.3,445.8 L889.3,445.3M891.8,446.3 L892.8,445.4 L893.8,445.0 L894.8,445.6 L895.8,445.6M898.3,446.3 L899.3,445.6 L900.3,445.7 L901.3,445.9 L902.3,446.2M904.8,445.7 L905.8,446.0 L906.8,445.9 L907.8,445.6 L908.8,445.7M911.3,445.7 L912.3,445.5 L913.3,446.1 L914.3,445.3 L915.3,446.1M917.8,446.0 L918.8,445.7 L919.8,445.5 L920.8,445.7 L921.8,445.9M924.3,446.0 L925.3,445.8 L926.3,446.0 L927.3,445.6 L928.3,445.8M930.8,445.3 L931.8,446.0 L932.8,445.8 L933.8,445.6 L934.8,446.1M937.3,445.9 L938.3,444.9 L939.3,445.7 L940.3,445.3 L941.3,446.0M943.8,446.5 L944.8,445.6 L945.8,445.7 L946.8,445.6 L947.8,445.8M950.3,445.9 L951.3,446.1 L952.3,445.4 L953.3,446.2 L954.3,445.4M956.8,445.8 L957.8,446.0 L958.8,445.9 L959.8,445.4 L960.8,445.4M963.3,445.5 L964.3,445.6 L965.3,446.0 L966.3,445.2 L967.3,445.8M969.8,445.8 L970.8,445.8 L971.8,445.7 L972.8,446.1 L973.8,445.7M976.3,445.8 L977.3,445.7 L978.3,446.1 L979.3,445.0 L980.3,445.9M982.8,445.5 L983.8,445.4 L984.8,445.2 L985.8,445.0 L986.8,445.4M989.3,445.3 L990.3,445.6 L991.3,445.0 L992.3,445.9 L993.3,445.6M995.8,445.4 L996.8,445.2 L997.8,445.2 L998.8,445.1 L999.8,445.3M1002.3,445.4 L1003.3,445.3 L1004.3,445.0 L1005.3,445.3 L1006.3,445.1M1008.8,445.4 L1009.8,445.9 L1010.8,445.5 L1011.8,445.2 L1012.8,444.8M1015.3,444.9 L1016.3,444.8 L1017.3,445.5 L1018.3,445.1 L1019.3,445.3M1021.8,445.1 L1022.8,445.3 L1023.8,445.7 L1024.8,445.0 L1025.8,445.1M1028.3,445.0 L1029.3,445.5 L1030.3,444.9 L1031.3,444.8 L1032.3,444.7M1034.8,444.7 L1035.8,445.3 L1036.8,445.9 L1037.8,444.8 L1038.8,445.4M1041.3,445.2 L1042.3,444.7 L1043.3,445.0 L1044.3,445.0 L1045.3,444.8M1047.8,445.6 L1048.8,444.4 L1049.8,445.1 L1050.8,445.1 L1051.8,444.8M1054.3,445.0 L1055.3,445.2 L1056.3,445.0 L1057.3,445.1 L1058.3,445.1M1060.8,444.3 L1061.8,445.3 L1062.8,445.6 L1063.8,445.2 L1064.8,445.2M1067.3,444.4 L1068.3,444.8 L1069.3,444.6 L1070.3,444.6 L1071.3,445.1M1073.8,444.6 L1074.8,444.7 L1075.8,444.2 L1076.8,444.7 L1077.8,444.8M1080.3,444.5 L1081.3,444.5 L1082.3,445.3 L1083.3,444.3 L1084.3,444.4M1086.8,444.4 L1087.8,445.0 L1088.8,445.3 L1089.8,444.8 L1090.8,444.4M1093.3,444.5 L1094.3,444.9 L1095.3,444.3 L1096.3,445.0 L1097.3,445.0" class="gdf"/>
<path d="M157.1,60.6 L157.9,61.0 L158.6,62.1 L159.3,62.6M162.3,67.0 L162.8,67.6 L163.2,68.4 L163.7,69.4M166.0,74.3 L166.3,75.1 L166.7,76.1 L167.1,77.4M169.2,83.0 L169.5,84.1 L169.9,84.1 L170.2,85.5M172.3,91.1 L172.7,92.2 L173.0,93.0 L173.3,93.9M175.4,99.9 L175.7,100.7 L176.0,101.2 L176.3,102.9M178.3,108.5 L178.6,109.0 L178.9,110.3 L179.2,110.8M181.0,117.1 L181.3,117.6 L181.6,118.4 L181.9,119.5M183.7,125.1 L184.0,126.4 L184.2,127.3 L184.5,128.3M186.0,133.9 L186.2,133.9 L186.4,136.0 L186.6,136.4M187.6,143.0 L187.8,144.2 L188.0,145.0 L188.2,145.7M189.4,151.7 L189.6,152.7 L189.8,153.5 L190.0,154.5M191.3,160.3 L191.5,161.9 L191.7,162.5 L191.9,163.8M193.2,169.3 L193.4,170.3 L193.6,171.2 L193.8,172.4M195.1,178.4 L195.3,179.2 L195.5,179.9 L195.7,180.8M197.0,187.4 L197.3,187.8 L197.5,188.8 L197.7,190.3M199.0,196.0 L199.2,196.8 L199.5,197.5 L199.7,199.3M201.0,204.6 L201.3,205.6 L201.5,206.4 L201.7,207.0M203.1,212.8 L203.3,214.3 L203.6,215.3 L203.8,216.1M205.2,221.6 L205.4,222.5 L205.7,223.8 L205.9,224.4M207.3,231.0 L207.6,232.0 L207.8,233.5 L208.0,233.9M209.4,239.3 L209.7,240.2 L209.9,240.4 L210.1,242.2M211.5,248.2 L211.8,249.5 L212.0,250.3 L212.2,251.3M213.6,257.0 L213.9,258.1 L214.1,259.3 L214.3,259.6M215.7,265.6 L216.0,266.3 L216.2,268.2 L216.4,269.0M217.8,274.7 L218.0,275.1 L218.2,276.5 L218.4,277.3M219.7,283.3 L219.9,284.2 L220.1,285.4 L220.3,286.1M221.5,292.4 L221.7,293.2 L221.9,294.0 L222.0,295.0M223.2,300.8 L223.4,302.2 L223.6,302.8 L223.8,304.0M225.0,309.6 L225.2,310.3 L225.4,312.0 L225.6,312.4M227.0,318.7 L227.2,319.6 L227.4,320.0 L227.7,321.2M229.1,327.1 L229.3,328.0 L229.6,328.9 L229.8,330.4M231.3,335.9 L231.6,337.1 L231.8,337.8 L232.1,339.0M233.6,344.5 L233.8,345.7 L234.1,346.8 L234.3,347.6M235.9,353.3 L236.1,354.1 L236.4,355.4 L236.6,356.4M238.2,362.0 L238.5,362.8 L238.8,364.2 L239.0,365.7M240.6,370.7 L240.9,371.8 L241.1,372.8 L241.4,372.9M243.0,379.5 L243.2,380.2 L243.5,381.8 L243.7,382.3M245.2,388.0 L245.4,389.1 L245.7,390.2 L245.9,390.9M247.3,396.9 L247.6,397.5 L247.8,398.8 L248.1,400.1M249.6,406.2 L249.9,406.8 L250.2,407.6 L250.4,408.9M252.1,414.6 L252.3,415.7 L252.6,416.5 L252.9,417.1M254.7,423.0 L255.0,423.9 L255.3,424.9 L255.6,425.8M257.7,431.1 L258.1,431.7 L258.5,433.0 L258.9,433.5M261.6,439.5 L262.1,440.4 L262.5,440.8 L263.0,442.3M265.7,447.2 L266.2,447.8 L266.8,449.1 L267.3,450.1M270.0,453.9 L270.5,455.5 L271.0,456.2 L271.4,457.0M274.1,462.0 L274.6,462.4 L275.1,463.3 L275.6,464.1M278.3,468.9 L278.8,469.9 L279.3,470.4 L279.8,471.4M282.7,476.6 L283.2,477.2 L283.7,478.2 L284.3,478.3M287.2,483.3 L287.7,484.3 L288.2,485.3 L288.7,486.0M291.5,491.2 L292.0,491.8 L292.5,492.7 L293.1,493.5M296.3,498.1 L297.0,498.5 L297.6,499.7 L298.3,500.3M302.3,503.9 L303.1,504.5 L303.9,505.3 L304.7,506.1M308.7,509.0 L309.5,509.4 L310.4,510.1 L311.2,510.4M1090.5,572.9 L1091.0,574.3 L1091.4,574.2 L1091.8,576.1M1093.6,580.7 L1093.9,581.9 L1094.2,581.9 L1094.5,583.7M1096.1,589.3 L1096.4,590.6 L1096.7,591.3 L1096.9,591.9" class="gd"/>
<path d="M131.0,46.0 L131.9,46.7 L132.8,47.2 L133.6,47.9 L134.5,47.6 L135.4,48.8M137.6,49.5 L138.5,49.8 L139.3,50.6 L140.2,51.0 L141.1,51.2 L142.0,51.5M144.2,52.8 L145.1,54.0 L146.0,54.6 L146.9,54.6 L147.8,55.2M150.9,56.3 L151.8,56.9 L152.7,57.5 L153.5,57.6 L154.3,58.2 L155.1,59.1M315.4,513.5 L316.2,513.6 L317.1,513.6 L317.9,515.1 L318.8,515.2 L319.7,515.4M321.8,516.9 L322.7,517.2 L323.5,518.6 L324.4,518.6 L325.3,518.5 L326.2,519.6M328.3,520.6 L329.2,521.7 L330.1,521.3 L331.0,521.4 L331.9,522.6 L332.8,522.9M335.0,524.0 L335.9,524.0 L336.8,525.2 L337.7,526.0 L338.6,525.4M341.7,527.8 L342.7,527.7 L343.6,528.9 L344.5,528.8 L345.4,529.0M348.6,530.8 L349.5,531.0 L350.5,531.0 L351.4,531.7 L352.3,531.7M355.6,532.5 L356.6,534.0 L357.5,533.6 L358.5,533.8 L359.4,534.4M362.3,534.7 L363.3,535.0 L364.3,535.5 L365.2,535.8 L366.2,536.2M369.1,537.2 L370.1,537.0 L371.0,537.5 L372.0,537.8 L373.0,537.5M375.9,538.5 L376.9,538.4 L377.9,539.2 L378.8,539.2 L379.8,539.3M382.8,539.5 L383.7,540.2 L384.7,540.1 L385.7,540.7 L386.7,540.7M389.6,541.1 L390.6,541.8 L391.6,541.9 L392.6,541.8 L393.5,542.5M396.5,542.7 L397.4,542.9 L398.4,543.3 L399.4,543.2 L400.4,543.6M403.3,544.3 L404.2,545.1 L405.2,545.3 L406.2,545.0 L407.2,545.8M410.1,546.0 L411.1,546.4 L412.0,546.8 L413.0,546.8 L414.0,547.7M416.9,547.8 L417.9,547.6 L418.8,548.5 L419.8,548.3 L420.8,548.5M423.7,548.4 L424.7,549.8 L425.6,550.0 L426.6,550.2 L427.6,550.5M430.5,551.3 L431.5,551.0 L432.5,551.5 L433.5,551.2 L434.4,551.5M437.4,552.5 L438.4,552.5 L439.4,552.2 L440.3,552.9 L441.3,552.9M444.3,553.2 L445.3,553.8 L446.2,553.7 L447.2,553.5 L448.2,553.8M451.2,555.2 L452.2,554.3 L453.2,555.0 L454.1,555.3 L455.1,555.4M457.6,555.2 L458.6,555.6 L459.6,555.8 L460.6,556.1 L461.6,555.8M464.1,555.9 L465.1,556.7 L466.1,556.8 L467.1,556.7 L468.0,556.5M470.5,557.1 L471.5,557.1 L472.5,557.4 L473.5,556.9 L474.5,557.4M477.0,557.5 L478.0,557.4 L479.0,557.9 L480.0,557.9 L481.0,557.9M483.5,558.3 L484.5,557.9 L485.5,558.4 L486.5,558.6 L487.5,558.7M489.9,559.1 L490.9,558.5 L491.9,558.5 L492.9,559.1 L493.9,559.3M496.4,560.0 L497.4,559.6 L498.4,559.3 L499.4,559.9 L500.4,559.5M502.9,559.5 L503.9,560.8 L504.9,560.2 L505.9,560.4 L506.9,560.4M509.4,561.0 L510.4,560.6 L511.4,561.0 L512.4,560.4 L513.4,560.4M515.9,561.4 L516.9,561.5 L517.8,561.3 L518.8,561.3 L519.8,561.4M522.3,561.3 L523.3,562.1 L524.3,561.9 L525.3,561.9 L526.3,562.0M528.8,562.4 L529.8,562.3 L530.8,562.4 L531.8,561.9 L532.8,562.5M535.3,563.2 L536.3,562.5 L537.3,562.7 L538.3,563.1 L539.3,563.2M541.8,563.2 L542.8,562.7 L543.8,563.4 L544.8,562.9 L545.8,563.1M548.3,563.7 L549.3,563.5 L550.2,563.9 L551.2,564.7 L552.2,564.1M554.7,564.2 L555.7,563.8 L556.7,564.0 L557.7,563.9 L558.7,564.1M561.2,564.2 L562.2,564.4 L563.2,564.6 L564.2,564.4 L565.2,564.3M567.7,564.5 L568.7,565.1 L569.7,565.1 L570.7,565.4 L571.7,565.5M574.2,565.3 L575.2,565.6 L576.2,565.1 L577.2,566.2 L578.2,566.0M580.7,565.7 L581.7,565.5 L582.7,566.0 L583.7,565.4 L584.7,565.8M587.2,566.4 L588.2,566.3 L589.2,566.2 L590.2,566.7 L591.2,566.1M593.7,566.7 L594.7,566.5 L595.6,566.5 L596.6,566.9 L597.6,566.5M600.1,567.6 L601.1,566.9 L602.1,567.7 L603.1,566.8 L604.1,567.4M606.6,567.0 L607.6,567.0 L608.6,567.5 L609.6,567.7 L610.6,567.2M613.1,568.1 L614.1,567.6 L615.1,567.9 L616.1,568.0 L617.1,568.1M619.6,567.6 L620.6,568.7 L621.6,568.4 L622.6,568.2 L623.6,568.0M626.1,568.0 L627.1,568.1 L628.1,568.8 L629.1,568.5 L630.1,568.4M632.6,568.7 L633.6,569.4 L634.6,568.9 L635.6,568.8 L636.6,569.5M639.1,569.3 L640.1,569.3 L641.1,569.1 L642.1,568.9 L643.1,569.1M645.6,569.4 L646.6,569.5 L647.6,569.8 L648.6,569.9 L649.6,569.8M652.1,570.0 L653.1,569.7 L654.1,569.4 L655.1,569.9 L656.1,569.9M658.5,570.2 L659.5,570.4 L660.5,570.1 L661.5,570.3 L662.5,570.7M665.0,571.0 L666.0,570.9 L667.0,571.3 L668.0,571.2 L669.0,571.0M671.5,571.5 L672.5,572.1 L673.5,571.3 L674.5,571.9 L675.5,572.0M678.0,572.1 L679.0,571.5 L680.0,572.3 L681.0,571.8 L682.0,571.7M684.5,571.7 L685.5,572.0 L686.5,571.9 L687.5,571.8 L688.5,572.3M691.0,571.7 L692.0,571.6 L693.0,572.2 L694.0,572.2 L695.0,572.3M697.5,571.7 L698.5,572.3 L699.5,572.1 L700.5,572.5 L701.5,571.6M704.0,572.1 L705.0,571.9 L706.0,571.6 L707.0,571.8 L708.0,572.4M710.5,571.9 L711.5,571.9 L712.5,572.3 L713.5,572.4 L714.5,572.4M717.0,571.8 L718.0,572.1 L719.0,572.4 L720.0,571.9 L721.0,571.9M723.5,572.3 L724.5,572.6 L725.5,571.8 L726.5,571.3 L727.5,571.7M730.0,571.8 L731.0,572.1 L732.0,572.3 L733.0,572.1 L734.0,571.9M736.5,572.2 L737.5,571.8 L738.5,572.1 L739.5,571.9 L740.5,572.9M743.0,572.4 L744.0,571.9 L745.0,571.8 L746.0,572.0 L747.0,571.6M749.5,571.9 L750.5,571.9 L751.5,572.4 L752.5,572.0 L753.5,571.9M756.0,571.7 L757.0,571.7 L758.0,572.1 L759.0,572.0 L760.0,572.4M762.5,571.9 L763.5,572.4 L764.5,572.2 L765.5,572.1 L766.5,571.5M769.0,571.7 L770.0,572.3 L771.0,572.5 L772.0,572.1 L773.0,572.3M775.5,571.9 L776.5,572.0 L777.5,571.9 L778.5,572.4 L779.5,572.2M782.0,572.0 L783.0,572.0 L784.0,572.2 L785.0,572.1 L786.0,571.8M788.5,572.6 L789.5,572.1 L790.5,572.0 L791.5,572.5 L792.5,572.3M795.0,572.0 L796.0,572.2 L797.0,571.7 L798.0,571.8 L799.0,571.3M801.5,572.4 L802.5,571.4 L803.5,572.2 L804.5,571.8 L805.5,571.7M808.0,571.9 L809.0,572.1 L810.0,572.2 L811.0,572.5 L812.0,572.1M814.5,572.2 L815.5,571.8 L816.5,572.2 L817.5,572.0 L818.5,571.8M821.0,571.9 L822.0,571.9 L823.0,572.0 L824.0,572.1 L825.0,571.8M827.5,571.7 L828.5,572.2 L829.5,571.4 L830.5,571.8 L831.5,572.4M834.0,571.1 L835.0,571.7 L836.0,572.1 L837.0,571.4 L838.0,572.7M840.5,571.1 L841.5,572.3 L842.5,572.4 L843.5,572.2 L844.5,571.8M847.0,572.0 L848.0,571.6 L849.0,572.1 L850.0,571.6 L851.0,571.8M853.5,572.2 L854.5,571.6 L855.5,571.8 L856.5,571.9 L857.5,571.5M860.0,572.2 L861.0,572.0 L862.0,571.4 L863.0,571.9 L864.0,571.6M866.5,571.7 L867.5,571.9 L868.5,571.7 L869.5,572.2 L870.5,571.7M873.0,572.2 L874.0,571.9 L875.0,572.1 L876.0,571.7 L877.0,571.7M879.5,571.5 L880.5,572.0 L881.5,572.2 L882.5,572.5 L883.5,572.3M886.0,571.9 L887.0,571.8 L888.0,572.0 L889.0,571.9 L890.0,572.3M892.5,572.2 L893.5,571.6 L894.5,571.7 L895.5,572.3 L896.5,572.0M899.0,571.8 L900.0,572.3 L901.0,571.8 L902.0,571.8 L903.0,571.8M905.5,571.3 L906.5,572.2 L907.5,571.6 L908.5,571.8 L909.5,571.7M912.0,572.2 L913.0,572.0 L914.0,572.0 L915.0,571.5 L916.0,572.0M918.5,571.6 L919.5,572.1 L920.5,572.2 L921.5,572.1 L922.5,572.7M925.0,572.3 L926.0,572.3 L927.0,572.2 L928.0,572.1 L929.0,572.4M931.5,572.5 L932.5,571.8 L933.5,572.5 L934.5,572.4 L935.5,572.5M938.0,572.4 L939.0,571.9 L940.0,572.0 L941.0,572.9 L942.0,572.5M944.5,572.0 L945.5,572.6 L946.5,572.4 L947.5,571.9 L948.5,571.8M951.0,572.1 L952.0,572.7 L953.0,572.6 L954.0,572.6 L955.0,572.7M957.5,572.9 L958.5,572.1 L959.5,572.7 L960.5,572.5 L961.5,572.4M964.0,572.7 L965.0,572.8 L966.0,572.8 L967.0,572.5 L968.0,572.8M970.5,573.5 L971.5,572.6 L972.5,572.5 L973.5,573.1 L974.5,573.2M977.0,573.2 L978.0,572.7 L979.0,573.3 L980.0,572.8 L981.0,572.7M983.5,572.9 L984.5,573.0 L985.5,573.3 L986.5,573.2 L987.5,573.0M990.0,573.3 L991.0,573.0 L992.0,573.3 L993.0,572.6 L994.0,572.5M996.5,573.2 L997.5,572.5 L998.5,572.8 L999.5,572.9 L1000.5,572.8M1003.0,572.7 L1004.0,573.2 L1005.0,572.0 L1006.0,573.0 L1007.0,573.4M1009.5,572.7 L1010.5,572.6 L1011.5,572.8 L1012.5,573.1 L1013.5,572.2M1016.0,572.5 L1017.0,572.4 L1018.0,572.6 L1019.0,572.4 L1020.0,572.5M1022.5,572.1 L1023.5,572.2 L1024.5,572.0 L1025.5,571.9 L1026.5,572.1M1029.0,572.0 L1030.0,571.6 L1031.0,572.4 L1032.0,571.8 L1033.0,571.4M1035.5,572.1 L1036.5,571.5 L1037.5,571.8 L1038.5,571.6 L1039.5,571.6M1042.0,571.5 L1043.0,571.2 L1043.9,571.4 L1044.9,571.9 L1045.9,570.6M1048.4,571.2 L1049.4,571.3 L1050.4,570.8 L1051.4,570.6 L1052.4,571.6M1054.9,570.8 L1055.9,571.5 L1056.9,571.0 L1057.9,570.8 L1058.9,570.9M1061.4,570.8 L1062.4,570.9 L1063.4,570.7 L1064.4,570.5 L1065.4,570.5M1067.9,570.7 L1068.9,570.6 L1069.9,570.0 L1070.9,570.0 L1071.9,570.3M1074.4,569.9 L1075.4,570.0 L1076.4,569.8 L1077.4,570.0 L1078.4,570.2M1080.9,570.3 L1081.9,570.0 L1082.9,570.6 L1083.9,569.9 L1084.9,570.8M1087.4,570.0 L1088.4,569.7 L1089.4,569.3 L1089.5,568.8 L1089.4,570.6" class="gdf"/>
<path d="M157.4,61.3 L158.1,61.7 L158.7,62.5 L159.4,63.2M162.1,67.1 L162.6,68.7 L163.1,69.3 L163.6,70.8M165.9,74.8 L166.3,75.9 L166.7,77.1 L167.1,77.7M169.1,82.5 L169.5,83.5 L169.9,84.8 L170.2,85.8M172.4,91.3 L172.7,92.5 L173.1,93.5 L173.4,94.2M175.4,99.8 L175.7,100.6 L176.1,101.8 L176.4,102.9M178.3,108.3 L178.6,109.4 L178.9,110.1 L179.2,110.7M181.1,116.5 L181.4,118.0 L181.7,118.9 L182.0,120.2M183.7,125.5 L184.0,126.7 L184.3,127.8 L184.6,128.6M186.0,134.0 L186.2,135.1 L186.5,136.1 L186.6,136.8M187.5,143.2 L187.6,144.3 L187.8,144.9 L187.9,146.6M188.8,151.8 L188.9,152.9 L189.1,153.8 L189.2,154.7M190.1,161.0 L190.2,161.8 L190.4,163.3 L190.5,164.0M191.4,169.9 L191.5,170.7 L191.6,171.3 L191.8,172.7M192.6,178.4 L192.8,179.9 L192.9,180.6 L193.0,182.1M193.9,187.8 L194.0,188.8 L194.2,189.6 L194.3,190.6M195.2,196.7 L195.3,197.7 L195.5,198.2 L195.6,199.6M196.5,206.2 L196.6,206.3 L196.8,207.3 L196.9,208.1M197.8,213.8 L198.0,215.6 L198.2,216.3 L198.3,217.3M199.3,223.7 L199.4,224.9 L199.6,224.9 L199.7,226.4M200.8,232.2 L200.9,233.1 L201.1,234.1 L201.3,235.0M202.4,241.4 L202.6,242.0 L202.8,242.9 L203.0,244.2M204.2,250.0 L204.4,250.8 L204.6,251.8 L204.8,253.2M206.0,258.7 L206.2,259.5 L206.4,260.2 L206.6,261.4M207.7,267.0 L207.9,268.4 L208.1,269.4 L208.3,269.7M209.4,276.2 L209.5,277.4 L209.7,278.2 L209.9,278.9M210.8,285.5 L210.9,285.9 L211.0,286.7 L211.2,287.7M211.9,294.0 L212.0,295.3 L212.1,296.4 L212.3,297.1M212.9,302.6 L213.0,303.8 L213.1,304.7 L213.2,305.9M213.8,311.4 L213.9,313.0 L214.0,314.1 L214.1,314.9M214.8,321.0 L214.9,321.6 L215.1,322.4 L215.2,323.6M216.0,330.1 L216.1,331.1 L216.2,331.6 L216.4,333.1M217.2,338.6 L217.3,340.2 L217.4,340.8 L217.6,341.5M218.4,347.9 L218.5,348.4 L218.7,349.3 L218.8,350.2M219.7,356.6 L219.8,357.5 L220.0,358.5 L220.1,359.4M221.1,365.9 L221.3,366.3 L221.4,367.2 L221.6,368.8M222.6,374.7 L222.8,375.4 L223.0,375.7 L223.2,377.1M224.3,383.3 L224.4,384.1 L224.6,385.6 L224.8,385.7M225.9,392.2 L226.1,392.8 L226.3,394.4 L226.5,394.9M227.5,401.1 L227.7,401.6 L227.9,402.4 L228.1,403.5M229.1,409.5 L229.2,410.4 L229.4,412.0 L229.5,413.1M230.4,418.7 L230.6,419.3 L230.7,420.5 L230.9,421.4M231.9,427.9 L232.0,428.6 L232.2,429.6 L232.4,430.3M233.4,435.7 L233.6,437.1 L233.8,438.0 L234.0,439.4M235.0,445.2 L235.2,446.0 L235.4,447.1 L235.6,448.6M236.7,453.8 L236.9,454.8 L237.0,456.0 L237.2,456.8M238.4,462.8 L238.6,464.0 L238.8,465.4 L238.9,465.3M240.1,471.7 L240.3,472.7 L240.5,473.7 L240.7,474.6M242.0,480.4 L242.2,481.8 L242.4,482.4 L242.6,483.4M243.8,489.3 L244.0,490.3 L244.3,491.2 L244.5,492.6M245.8,498.1 L246.0,499.2 L246.2,500.1 L246.5,500.7M247.9,506.6 L248.1,507.5 L248.4,508.9 L248.6,509.6M250.2,515.3 L250.4,516.6 L250.7,517.7 L251.0,517.9M252.7,524.7 L253.0,525.2 L253.3,526.1 L253.5,527.4M255.4,532.8 L255.7,533.6 L256.0,535.4 L256.3,535.3M258.3,541.3 L258.6,542.5 L259.0,542.9 L259.3,544.1M261.4,549.9 L261.8,551.4 L262.2,551.4 L262.5,552.5M264.7,558.3 L265.1,559.1 L265.5,559.6 L265.9,561.0M268.1,566.5 L268.5,567.5 L268.9,568.6 L269.3,569.5M271.5,574.4 L271.9,575.3 L272.3,575.8 L272.7,577.0M274.9,582.1 L275.3,582.8 L275.7,583.9 L276.1,584.5M278.5,590.2 L278.9,591.3 L279.3,591.5 L279.8,592.6M282.2,597.3 L282.7,598.7 L283.2,599.3 L283.7,600.1M286.4,604.7 L286.9,605.7 L287.4,606.2 L288.0,607.6M291.0,611.8 L291.5,613.0 L292.1,613.7 L292.6,614.8M295.7,619.0 L296.3,620.1 L296.8,620.4 L297.4,621.7M300.3,626.0 L301.0,626.8 L301.8,627.4 L302.6,628.4M306.4,630.7 L307.1,632.1 L307.9,632.2 L308.7,633.6M312.5,635.9 L313.2,636.8 L314.0,637.3 L314.8,638.9M318.6,641.2 L319.4,642.3 L320.2,642.7 L321.0,643.0M324.9,646.5 L325.7,647.4 L326.5,647.8 L327.2,648.7M331.3,651.3 L332.1,652.0 L332.9,652.5 L333.7,653.3M1096.1,694.9 L1096.9,694.9 L1097.4,696.2 L1097.6,696.9" class="gd"/>
<path d="M131.0,47.3 L131.9,47.7 L132.7,48.2 L133.6,48.8 L134.5,49.3 L135.4,49.4M137.6,50.2 L138.4,50.7 L139.3,52.0 L140.2,52.3 L141.1,52.6 L142.0,52.9M144.3,54.0 L145.2,54.4 L146.1,54.6 L147.0,54.9 L148.0,56.1M151.2,56.9 L152.1,57.1 L153.0,57.3 L153.9,58.0 L154.7,59.0M337.8,656.5 L338.7,656.6 L339.5,657.1 L340.4,657.3 L341.3,657.8 L342.1,659.0M344.8,659.6 L345.7,660.1 L346.6,660.8 L347.5,661.1 L348.4,662.3M351.6,662.3 L352.5,663.5 L353.5,664.0 L354.4,663.8 L355.4,664.2M358.7,665.6 L359.6,666.3 L360.6,665.8 L361.6,665.8 L362.5,666.8M365.5,667.7 L366.4,667.4 L367.4,667.1 L368.4,668.4 L369.4,668.1M372.3,669.1 L373.3,669.0 L374.2,669.1 L375.2,669.3 L376.2,670.1M379.1,670.7 L380.1,669.8 L381.1,670.4 L382.1,671.4 L383.1,670.9M386.0,671.1 L387.0,671.7 L388.0,671.8 L389.0,672.0 L390.0,672.0M392.9,672.4 L393.9,672.5 L394.9,672.9 L395.9,672.7 L396.9,673.0M399.4,673.3 L400.4,673.9 L401.4,673.7 L402.4,673.7 L403.4,674.0M405.8,674.2 L406.8,674.6 L407.8,674.5 L408.8,675.0 L409.8,675.0M412.3,674.9 L413.3,674.9 L414.3,675.4 L415.3,675.4 L416.3,675.3M418.7,675.3 L419.7,675.3 L420.7,676.1 L421.7,676.3 L422.7,676.5M425.2,676.3 L426.2,677.1 L427.2,676.8 L428.1,677.2 L429.1,677.4M432.1,677.6 L433.1,677.8 L434.0,677.6 L435.0,678.1 L436.0,678.0M438.9,679.3 L439.9,679.4 L440.9,679.8 L441.9,679.8 L442.9,679.7M445.8,680.6 L446.8,680.6 L447.8,681.0 L448.8,681.1 L449.8,680.9M452.7,681.7 L453.7,681.9 L454.7,681.9 L455.7,682.4 L456.7,682.8M459.6,682.6 L460.6,682.8 L461.6,682.3 L462.6,683.1 L463.6,683.1M466.1,682.9 L467.1,683.8 L468.1,684.0 L469.1,683.7 L470.1,683.9M472.5,684.0 L473.5,684.6 L474.5,684.0 L475.5,684.5 L476.5,685.3M479.0,684.9 L480.0,685.1 L481.0,685.1 L482.0,684.8 L483.0,685.3M485.5,685.6 L486.5,685.3 L487.5,685.8 L488.5,686.2 L489.5,686.2M492.0,685.6 L493.0,685.9 L494.0,685.8 L494.9,686.7 L495.9,686.6M498.4,686.9 L499.4,686.5 L500.4,686.5 L501.4,686.9 L502.4,687.0M504.9,686.9 L505.9,687.3 L506.9,687.6 L507.9,687.5 L508.9,687.2M511.4,687.1 L512.4,687.7 L513.4,687.9 L514.4,687.9 L515.4,687.9M517.9,688.0 L518.9,688.5 L519.9,688.3 L520.9,688.5 L521.9,688.2M524.4,688.5 L525.4,688.8 L526.4,688.5 L527.3,688.5 L528.3,688.9M530.8,689.5 L531.8,689.3 L532.8,689.7 L533.8,689.3 L534.8,689.3M537.3,689.2 L538.3,689.5 L539.3,690.2 L540.3,689.9 L541.3,690.1M543.8,690.2 L544.8,690.1 L545.8,690.1 L546.8,690.3 L547.8,690.5M550.3,690.6 L551.3,690.6 L552.3,690.6 L553.3,690.4 L554.3,690.6M556.8,690.5 L557.8,691.2 L558.8,690.3 L559.8,690.9 L560.8,691.8M563.3,691.1 L564.3,690.9 L565.3,691.3 L566.3,691.7 L567.3,691.3M569.8,691.7 L570.8,691.6 L571.8,691.5 L572.8,692.6 L573.8,691.8M576.3,691.7 L577.3,691.8 L578.3,692.1 L579.3,692.1 L580.3,692.3M582.8,692.2 L583.8,691.8 L584.7,692.4 L585.7,692.2 L586.7,692.3M589.2,692.0 L590.2,692.3 L591.2,692.3 L592.2,692.6 L593.2,692.2M595.7,692.7 L596.7,692.8 L597.7,692.4 L598.7,692.6 L599.7,692.6M602.2,693.2 L603.2,692.2 L604.2,692.9 L605.2,692.5 L606.2,692.9M608.7,693.4 L609.7,693.0 L610.7,693.2 L611.7,693.0 L612.7,693.8M615.2,693.6 L616.2,693.7 L617.2,693.0 L618.2,693.0 L619.2,693.7M621.7,693.4 L622.7,693.4 L623.7,693.6 L624.7,693.1 L625.7,693.8M628.2,693.6 L629.2,693.8 L630.2,693.4 L631.2,693.8 L632.2,693.5M634.7,694.0 L635.7,694.1 L636.7,694.0 L637.7,693.9 L638.7,694.0M641.2,693.0 L642.2,694.1 L643.2,693.8 L644.2,693.9 L645.2,693.8M647.7,693.5 L648.7,693.8 L649.7,694.2 L650.7,694.4 L651.7,693.8M654.2,693.8 L655.2,694.5 L656.2,693.8 L657.2,694.7 L658.2,694.1M660.7,693.9 L661.7,694.5 L662.7,694.7 L663.7,693.8 L664.7,694.7M667.2,694.2 L668.2,694.7 L669.2,694.1 L670.2,693.8 L671.2,694.4M673.7,694.6 L674.7,695.0 L675.7,694.9 L676.7,694.6 L677.7,694.3M680.2,694.2 L681.2,694.3 L682.2,694.2 L683.2,694.3 L684.2,693.7M686.7,694.5 L687.7,694.4 L688.7,695.2 L689.7,694.7 L690.7,694.3M693.2,694.7 L694.2,694.1 L695.2,694.3 L696.2,694.0 L697.2,695.0M699.7,694.7 L700.7,694.2 L701.7,694.6 L702.7,694.9 L703.7,694.7M706.2,694.7 L707.2,694.4 L708.2,694.4 L709.2,694.7 L710.2,694.9M712.7,694.4 L713.7,694.3 L714.7,695.0 L715.7,694.4 L716.7,695.0M719.2,694.8 L720.2,695.0 L721.2,695.2 L722.2,694.9 L723.2,695.0M725.7,694.5 L726.7,694.5 L727.7,694.9 L728.7,695.2 L729.7,695.2M732.2,695.5 L733.2,694.9 L734.2,694.9 L735.2,695.1 L736.2,694.8M738.7,694.8 L739.7,694.5 L740.7,695.1 L741.7,694.5 L742.7,695.0M745.2,694.4 L746.2,695.2 L747.2,694.6 L748.2,695.1 L749.2,694.4M751.7,694.8 L752.7,695.3 L753.7,694.7 L754.7,694.9 L755.7,694.8M758.2,694.2 L759.2,695.0 L760.2,695.1 L761.2,694.6 L762.2,695.1M764.7,694.7 L765.7,694.7 L766.7,695.0 L767.7,694.8 L768.7,695.7M771.2,694.5 L772.2,695.2 L773.2,695.3 L774.2,694.4 L775.2,694.5M777.7,695.2 L778.7,694.9 L779.7,695.2 L780.7,695.4 L781.7,695.0M784.2,694.8 L785.2,694.3 L786.2,695.2 L787.2,694.8 L788.2,695.2M790.7,695.2 L791.7,694.7 L792.7,695.6 L793.7,695.5 L794.7,695.4M797.2,694.8 L798.2,695.0 L799.2,695.0 L800.2,695.0 L801.2,694.8M803.7,695.3 L804.7,695.3 L805.7,695.3 L806.7,695.1 L807.7,695.6M810.2,695.3 L811.2,694.4 L812.2,695.1 L813.2,695.2 L814.2,695.6M816.7,695.2 L817.7,695.2 L818.7,695.1 L819.7,695.5 L820.7,695.2M823.2,695.1 L824.2,695.1 L825.2,695.5 L826.2,695.2 L827.2,694.9M829.7,695.6 L830.7,695.2 L831.7,695.5 L832.7,695.5 L833.7,695.8M836.2,695.7 L837.2,695.3 L838.2,695.4 L839.2,695.1 L840.2,696.0M842.7,695.6 L843.7,695.9 L844.7,695.4 L845.7,694.9 L846.7,696.0M849.2,695.6 L850.2,695.6 L851.2,695.6 L852.2,695.8 L853.2,695.8M855.7,695.2 L856.7,696.0 L857.7,695.5 L858.7,695.5 L859.7,696.2M862.2,696.0 L863.2,695.6 L864.2,695.2 L865.2,695.8 L866.2,695.9M868.7,695.7 L869.7,695.4 L870.7,695.6 L871.7,695.4 L872.7,695.9M875.2,696.1 L876.2,696.2 L877.2,695.6 L878.2,695.9 L879.2,696.0M881.7,695.8 L882.7,695.9 L883.7,696.6 L884.7,696.0 L885.7,696.2M888.2,695.9 L889.2,696.0 L890.2,695.5 L891.2,696.0 L892.2,696.4M894.7,696.7 L895.7,696.4 L896.7,696.3 L897.7,696.1 L898.7,695.9M901.2,696.1 L902.2,696.3 L903.2,695.9 L904.2,696.4 L905.2,695.9M907.7,695.7 L908.7,695.9 L909.7,695.7 L910.7,695.8 L911.7,696.6M914.2,696.2 L915.2,696.3 L916.2,696.6 L917.2,696.7 L918.2,696.1M920.7,696.7 L921.7,696.4 L922.7,696.3 L923.7,696.5 L924.7,695.9M927.2,696.1 L928.2,696.3 L929.2,696.6 L930.2,696.3 L931.2,696.4M933.7,696.7 L934.7,696.8 L935.7,696.7 L936.7,696.8 L937.7,696.3M940.2,696.4 L941.2,696.6 L942.2,696.4 L943.2,696.3 L944.2,697.0M946.7,696.4 L947.7,696.2 L948.7,696.6 L949.7,697.1 L950.7,696.5M953.2,696.9 L954.2,696.4 L955.2,696.4 L956.2,696.3 L957.2,696.5M959.7,697.1 L960.7,696.2 L961.7,697.0 L962.7,696.2 L963.7,696.5M966.2,696.8 L967.2,696.7 L968.2,696.6 L969.2,696.0 L970.2,696.6M972.7,696.2 L973.7,697.3 L974.7,696.4 L975.7,696.6 L976.7,696.2M979.2,696.4 L980.2,696.1 L981.2,696.8 L982.2,696.4 L983.2,696.6M985.7,696.2 L986.7,696.3 L987.7,696.8 L988.7,696.1 L989.7,695.9M992.2,696.5 L993.2,696.0 L994.2,696.2 L995.2,696.6 L996.2,696.0M998.7,696.5 L999.7,696.0 L1000.7,696.6 L1001.7,696.5 L1002.7,696.0M1005.2,696.0 L1006.2,695.7 L1007.2,696.0 L1008.2,696.3 L1009.2,695.5M1011.7,696.1 L1012.7,695.4 L1013.7,695.5 L1014.7,695.1 L1015.7,696.2M1018.2,695.5 L1019.2,695.5 L1020.2,695.2 L1021.2,695.7 L1022.2,694.7M1024.7,695.2 L1025.7,695.8 L1026.7,694.9 L1027.7,695.0 L1028.7,695.1M1031.2,694.5 L1032.2,694.7 L1033.2,694.9 L1034.2,694.7 L1035.2,694.6M1037.7,694.3 L1038.7,694.4 L1039.7,694.3 L1040.7,694.6 L1041.7,694.3M1044.1,693.9 L1045.1,693.1 L1046.1,694.0 L1047.1,693.9 L1048.1,693.4M1050.6,692.9 L1051.6,693.1 L1052.6,693.6 L1053.6,692.9 L1054.6,693.1M1057.1,693.1 L1058.1,693.3 L1059.1,692.9 L1060.1,692.8 L1061.1,692.6M1063.6,693.1 L1064.6,692.9 L1065.6,692.4 L1066.6,692.0 L1067.6,692.1M1070.1,692.4 L1071.1,692.0 L1072.1,692.4 L1073.1,692.2 L1074.1,692.1M1076.6,692.2 L1077.6,692.1 L1078.6,691.7 L1079.6,691.8 L1080.6,692.6M1083.1,691.6 L1084.1,691.8 L1085.1,692.3 L1086.1,692.0 L1087.1,691.9M1089.6,692.0 L1090.6,692.7 L1091.5,693.0 L1092.5,693.4 L1093.5,693.3" class="gdf"/>
<path d="M157.7,61.4 L158.4,61.6 L159.0,62.4 L159.6,63.5M162.3,68.0 L162.8,68.8 L163.3,69.8 L163.8,70.8M166.1,75.6 L166.5,76.3 L166.9,77.0 L167.3,77.9M169.3,83.2 L169.7,84.3 L170.0,85.2 L170.4,86.1M172.5,91.7 L172.9,92.8 L173.2,93.7 L173.6,94.6M175.6,100.3 L175.9,101.0 L176.2,101.8 L176.5,103.2M178.4,108.8 L178.8,109.6 L179.1,110.5 L179.4,112.2M181.2,117.0 L181.5,118.1 L181.9,119.2 L182.2,119.8M183.9,125.9 L184.2,127.4 L184.4,128.1 L184.7,128.9M186.1,134.8 L186.3,135.6 L186.4,136.8 L186.6,137.5M187.2,143.4 L187.3,144.5 L187.4,145.8 L187.6,146.6M188.3,152.7 L188.4,152.8 L188.6,154.8 L188.7,156.1M189.5,161.8 L189.6,162.3 L189.7,163.1 L189.9,164.4M190.6,170.0 L190.7,171.5 L190.9,172.1 L191.0,173.6M191.8,179.6 L191.9,179.6 L192.0,181.3 L192.1,182.0M192.9,187.7 L193.0,189.0 L193.1,190.1 L193.3,191.4M194.0,196.6 L194.2,198.4 L194.3,199.7 L194.4,200.2M195.2,206.2 L195.3,207.0 L195.4,207.6 L195.5,209.2M196.3,215.1 L196.4,216.2 L196.5,217.7 L196.6,218.1M197.4,224.0 L197.5,225.3 L197.6,225.5 L197.7,226.5M198.5,232.7 L198.6,233.6 L198.7,235.0 L198.8,235.7M199.6,242.3 L199.7,243.2 L199.8,244.0 L199.9,244.6M200.7,250.9 L200.8,251.9 L200.9,252.3 L201.0,253.8M201.7,259.8 L201.8,260.7 L202.0,262.1 L202.1,263.0M202.8,268.3 L202.9,269.6 L203.0,270.3 L203.1,271.7M203.8,277.2 L203.9,278.8 L204.0,279.6 L204.2,280.8M204.8,286.4 L204.9,287.0 L205.0,289.0 L205.1,289.4M205.7,295.8 L205.8,296.5 L205.9,297.6 L206.0,298.9M206.6,304.4 L206.7,305.8 L206.8,305.9 L206.9,307.6M207.4,313.2 L207.5,314.3 L207.6,315.3 L207.7,316.4M208.4,322.8 L208.5,322.7 L208.6,324.3 L208.7,325.0M209.4,331.5 L209.5,332.1 L209.7,333.3 L209.8,334.1M210.5,340.3 L210.6,341.4 L210.7,342.0 L210.9,343.1M211.6,348.6 L211.7,350.1 L211.8,351.3 L212.0,351.9M212.6,358.3 L212.8,358.4 L212.9,359.4 L213.0,360.6M213.6,366.8 L213.7,368.0 L213.8,368.9 L213.9,369.9M214.5,376.1 L214.6,376.8 L214.7,377.5 L214.8,378.5M215.4,385.5 L215.4,385.2 L215.5,386.8 L215.6,388.3M216.2,394.0 L216.3,394.6 L216.4,395.8 L216.5,397.1M217.1,403.1 L217.2,403.5 L217.3,405.0 L217.4,405.8M218.1,412.1 L218.2,413.1 L218.3,413.6 L218.4,414.3M219.1,420.8 L219.2,422.2 L219.4,422.9 L219.5,423.7M220.2,430.3 L220.4,430.3 L220.5,431.9 L220.6,432.4M221.4,438.5 L221.5,439.5 L221.6,441.0 L221.8,441.2M222.5,447.3 L222.7,448.0 L222.8,449.6 L222.9,450.3M223.7,456.5 L223.8,457.0 L223.9,458.3 L224.1,459.7M224.8,465.3 L225.0,466.5 L225.1,467.4 L225.2,468.2M226.0,473.8 L226.1,475.5 L226.2,476.3 L226.3,477.5M227.0,482.6 L227.1,483.7 L227.3,484.5 L227.4,485.9M228.1,492.4 L228.2,493.3 L228.3,494.1 L228.4,495.1M229.1,501.3 L229.2,502.0 L229.3,503.2 L229.4,504.1M230.1,509.3 L230.2,510.9 L230.4,512.4 L230.5,512.9M231.2,518.9 L231.3,519.7 L231.4,520.8 L231.5,522.2M232.3,527.8 L232.4,528.5 L232.5,528.9 L232.6,530.7M233.4,536.2 L233.5,537.2 L233.7,539.0 L233.8,540.0M234.6,545.1 L234.7,547.0 L234.9,547.8 L235.0,548.4M235.9,554.8 L236.1,555.1 L236.2,556.2 L236.4,557.1M237.3,563.2 L237.5,564.8 L237.6,565.1 L237.8,566.1M238.8,572.1 L239.0,573.4 L239.1,574.2 L239.3,575.6M240.4,581.0 L240.5,581.8 L240.7,583.1 L240.9,584.2M242.0,589.8 L242.2,591.2 L242.4,592.6 L242.5,592.9M243.7,599.0 L243.8,600.3 L244.0,600.7 L244.2,601.6M245.3,607.4 L245.5,608.9 L245.7,609.9 L245.9,610.7M247.1,616.6 L247.2,618.0 L247.4,618.8 L247.6,619.1M248.7,625.4 L248.9,626.5 L249.1,627.6 L249.3,628.3M250.5,634.1 L250.7,635.1 L250.9,635.7 L251.1,637.2M252.5,642.9 L252.7,644.2 L252.9,644.7 L253.2,645.8M254.6,651.5 L254.8,652.4 L255.1,653.9 L255.3,654.6M256.8,660.7 L257.1,661.2 L257.3,662.5 L257.6,662.9M259.1,669.1 L259.4,670.0 L259.7,671.3 L259.9,672.2M261.6,677.8 L261.9,679.1 L262.2,679.9 L262.4,680.9M264.2,686.7 L264.5,687.4 L264.8,688.3 L265.1,689.5M266.8,695.0 L267.1,696.2 L267.4,697.3 L267.7,698.2M269.4,703.6 L269.7,704.3 L270.0,705.6 L270.3,706.5M272.2,712.6 L272.6,713.1 L272.9,714.1 L273.2,715.3M275.5,720.5 L275.9,721.5 L276.3,723.0 L276.7,723.8M279.1,728.5 L279.6,729.3 L280.1,729.8 L280.6,731.1M283.3,735.8 L283.8,736.7 L284.3,737.3 L284.8,738.3M287.7,742.9 L288.3,743.9 L288.9,745.1 L289.4,745.6M292.6,749.4 L293.2,750.4 L293.8,751.1 L294.4,752.1M297.9,756.7 L298.6,757.4 L299.3,757.9 L299.9,758.9M303.8,762.5 L304.5,763.0 L305.2,763.7 L305.9,764.6M309.7,768.6 L310.4,768.4 L311.2,769.8 L312.0,770.5M315.9,773.1 L316.7,773.7 L317.5,774.2 L318.3,774.9" class="gd"/>
<path d="M131.0,48.1 L131.9,48.6 L132.8,49.1 L133.7,48.9 L134.6,50.0M137.8,51.0 L138.7,51.2 L139.7,51.9 L140.6,51.9 L141.5,52.8M144.7,54.2 L145.6,54.4 L146.6,55.0 L147.5,55.1 L148.4,55.6M151.6,56.6 L152.5,57.5 L153.4,57.7 L154.2,58.3 L155.0,59.0M322.4,778.0 L323.3,778.3 L324.1,779.2 L325.0,779.7 L325.8,780.0 L326.7,780.5M329.3,781.9 L330.1,782.5 L331.0,782.6 L331.9,783.5 L332.8,783.9 L333.7,784.1M335.9,786.1 L336.8,785.6 L337.7,786.1 L338.6,786.8 L339.5,786.6M342.7,788.3 L343.6,788.5 L344.5,789.0 L345.5,789.7 L346.4,790.2M349.7,791.6 L350.6,791.9 L351.6,792.3 L352.5,792.4 L353.5,792.4M356.3,793.8 L357.3,793.6 L358.3,793.9 L359.2,794.8 L360.2,794.9M363.1,795.5 L364.0,795.9 L365.0,796.2 L366.0,795.8 L366.9,796.5M369.8,796.9 L370.8,797.5 L371.8,797.5 L372.7,798.4 L373.7,798.4M376.6,798.7 L377.6,799.1 L378.6,799.0 L379.5,799.6 L380.5,800.0M383.4,800.6 L384.4,800.1 L385.4,800.8 L386.4,801.3 L387.3,801.5M390.3,802.3 L391.3,801.8 L392.2,802.6 L393.2,802.4 L394.2,802.9M397.1,803.6 L398.1,803.9 L399.1,803.7 L400.1,804.1 L401.0,803.9M404.0,804.4 L405.0,805.1 L406.0,805.1 L407.0,804.8 L407.9,805.2M410.9,805.9 L411.9,806.5 L412.9,806.4 L413.9,806.5 L414.9,805.8M417.4,806.6 L418.4,806.9 L419.3,807.0 L420.3,807.1 L421.3,807.0M423.8,807.8 L424.8,807.8 L425.8,807.5 L426.8,807.3 L427.8,808.3M430.3,807.7 L431.3,808.4 L432.3,808.7 L433.3,807.9 L434.3,808.4M436.8,808.5 L437.8,808.9 L438.7,808.9 L439.7,809.5 L440.7,809.3M443.2,809.4 L444.2,809.9 L445.2,809.6 L446.2,809.7 L447.2,810.7M449.6,810.1 L450.6,810.4 L451.6,810.7 L452.6,810.5 L453.6,810.4M456.5,811.8 L457.5,811.4 L458.5,811.6 L459.5,811.8 L460.5,811.8M463.5,812.2 L464.5,812.7 L465.5,813.5 L466.4,813.1 L467.4,813.2M469.9,812.9 L470.9,813.4 L471.9,813.2 L472.9,813.9 L473.9,813.7M476.4,814.0 L477.4,814.1 L478.4,814.0 L479.4,813.8 L480.4,814.6M482.9,814.2 L483.9,814.4 L484.8,814.7 L485.8,814.7 L486.8,815.0M489.3,815.5 L490.3,815.3 L491.3,815.4 L492.3,815.4 L493.3,815.8M495.8,815.1 L496.8,815.9 L497.8,815.6 L498.8,815.6 L499.8,816.0M502.3,816.1 L503.3,816.5 L504.3,816.7 L505.3,815.7 L506.3,816.5M508.8,817.3 L509.8,817.0 L510.8,817.3 L511.8,816.9 L512.8,816.6M515.3,816.8 L516.3,817.5 L517.3,817.6 L518.2,817.2 L519.2,817.4M521.7,817.7 L522.7,817.2 L523.7,817.7 L524.7,818.4 L525.7,818.6M528.2,818.1 L529.2,818.7 L530.2,818.1 L531.2,818.1 L532.2,817.7M534.7,818.9 L535.7,818.6 L536.7,819.4 L537.7,818.9 L538.7,818.9M541.2,818.5 L542.2,819.6 L543.2,819.1 L544.2,819.2 L545.2,818.7M547.7,819.8 L548.7,819.9 L549.7,819.5 L550.7,819.8 L551.7,820.0M554.2,820.3 L555.2,820.1 L556.1,820.7 L557.1,820.2 L558.1,820.1M560.6,820.3 L561.6,819.8 L562.6,820.4 L563.6,821.0 L564.6,820.8M567.1,820.7 L568.1,821.1 L569.1,820.4 L570.1,821.0 L571.1,821.3M573.6,821.6 L574.6,821.2 L575.6,821.8 L576.6,822.1 L577.6,821.5M580.1,822.0 L581.1,821.4 L582.1,821.4 L583.1,822.2 L584.1,822.2M586.6,822.5 L587.5,822.4 L588.5,822.7 L589.5,823.2 L590.5,823.6M593.0,823.3 L594.0,822.9 L595.0,823.9 L596.0,823.8 L597.0,823.8M599.5,823.8 L600.5,824.5 L601.5,823.9 L602.5,824.1 L603.5,823.4M606.0,823.9 L607.0,823.9 L608.0,824.1 L609.0,824.3 L610.0,824.0M612.5,824.8 L613.5,824.0 L614.5,824.2 L615.5,824.4 L616.5,824.0M619.0,824.6 L620.0,824.7 L621.0,824.4 L622.0,825.1 L623.0,824.6M625.5,824.7 L626.5,824.3 L627.5,824.2 L628.5,824.5 L629.5,824.6M632.0,824.6 L633.0,825.0 L634.0,824.1 L635.0,824.5 L636.0,824.3M638.5,825.3 L639.5,824.7 L640.5,824.8 L641.5,824.6 L642.5,825.2M645.0,824.9 L646.0,825.1 L647.0,824.4 L648.0,825.4 L649.0,825.2M651.5,825.3 L652.5,825.5 L653.5,825.1 L654.5,825.2 L655.5,825.4M658.0,825.4 L659.0,825.2 L660.0,825.3 L661.0,825.2 L662.0,825.6M664.5,825.7 L665.5,825.4 L666.5,826.0 L667.5,825.0 L668.5,825.4M671.0,826.0 L672.0,825.4 L673.0,825.1 L674.0,826.0 L675.0,825.7M677.5,825.2 L678.5,825.9 L679.5,825.3 L680.5,825.3 L681.5,825.6M684.0,825.6 L685.0,825.4 L686.0,825.6 L687.0,825.5 L688.0,825.8M690.5,825.8 L691.5,826.1 L692.5,825.7 L693.5,825.5 L694.5,825.5M697.0,825.8 L698.0,826.4 L699.0,826.2 L700.0,825.8 L701.0,826.3M703.5,825.7 L704.5,826.3 L705.5,825.9 L706.5,826.3 L707.5,826.3M710.0,826.0 L711.0,826.2 L712.0,825.8 L713.0,826.1 L714.0,826.5M716.5,827.4 L717.5,826.4 L718.5,826.3 L719.5,825.9 L720.5,826.6M723.0,825.8 L724.0,826.1 L725.0,826.4 L726.0,826.0 L727.0,826.8M729.5,826.7 L730.4,826.2 L731.4,826.2 L732.4,826.0 L733.4,826.0M735.9,826.6 L736.9,826.6 L737.9,826.6 L738.9,826.6 L739.9,826.3M742.4,826.6 L743.4,826.1 L744.4,826.5 L745.4,827.0 L746.4,827.0M748.9,826.5 L749.9,826.5 L750.9,827.0 L751.9,827.2 L752.9,826.2M755.4,826.5 L756.4,826.7 L757.4,827.0 L758.4,826.4 L759.4,826.9M761.9,826.6 L762.9,827.4 L763.9,826.9 L764.9,826.7 L765.9,826.7M768.4,827.1 L769.4,827.0 L770.4,826.5 L771.4,826.9 L772.4,826.4M774.9,826.6 L775.9,826.5 L776.9,826.4 L777.9,826.6 L778.9,826.6M781.4,827.0 L782.4,827.1 L783.4,826.8 L784.4,826.6 L785.4,827.2M787.9,826.3 L788.9,826.3 L789.9,827.2 L790.9,827.1 L791.9,827.2M794.4,826.9 L795.4,826.6 L796.4,826.8 L797.4,827.1 L798.4,826.7M800.9,826.8 L801.9,826.6 L802.9,826.6 L803.9,827.3 L804.9,827.1M807.4,826.7 L808.4,826.7 L809.4,826.8 L810.4,827.2 L811.4,826.7M813.9,827.0 L814.9,826.4 L815.9,826.7 L816.9,827.2 L817.9,827.3M820.4,826.7 L821.4,826.8 L822.4,827.3 L823.4,826.9 L824.4,826.9M826.9,827.2 L827.9,827.1 L828.9,827.4 L829.9,827.3 L830.9,826.9M833.4,827.0 L834.4,827.0 L835.4,826.7 L836.4,826.8 L837.4,827.4M839.9,826.6 L840.9,827.4 L841.9,827.2 L842.9,827.0 L843.9,827.2M846.4,827.2 L847.4,827.4 L848.4,826.9 L849.4,827.0 L850.4,827.0M852.9,827.6 L853.9,827.3 L854.9,826.8 L855.9,827.0 L856.9,826.8M859.4,827.1 L860.4,827.1 L861.4,827.7 L862.4,826.5 L863.4,827.4M865.9,827.2 L866.9,826.8 L867.9,827.0 L868.9,826.9 L869.9,827.1M872.4,827.3 L873.4,826.6 L874.4,827.4 L875.4,826.9 L876.4,827.5M878.9,827.1 L879.9,827.4 L880.9,827.2 L881.9,827.3 L882.9,827.0M885.4,826.8 L886.4,827.2 L887.4,827.2 L888.4,827.6 L889.4,826.4M891.9,826.9 L892.9,827.3 L893.9,826.6 L894.9,826.9 L895.9,827.6M898.4,827.4 L899.4,826.7 L900.4,827.4 L901.4,827.3 L902.4,827.2M904.9,827.1 L905.9,827.0 L906.9,826.7 L907.9,826.8 L908.9,827.1M911.4,827.0 L912.4,827.5 L913.4,826.8 L914.4,826.2 L915.4,826.8M917.9,827.0 L918.9,827.0 L919.9,826.9 L920.9,826.6 L921.9,827.3M924.4,826.6 L925.4,827.1 L926.4,826.7 L927.4,826.5 L928.4,827.2M930.9,826.0 L931.9,826.5 L932.9,826.9 L933.9,826.7 L934.9,827.0M937.4,826.7 L938.4,826.6 L939.4,827.4 L940.4,826.7 L941.4,826.7M943.9,826.4 L944.9,826.5 L945.9,826.9 L946.9,826.9 L947.9,826.7M950.4,826.4 L951.4,826.9 L952.4,826.1 L953.4,826.5 L954.4,826.5M956.9,826.3 L957.9,826.6 L958.9,826.4 L959.9,826.3 L960.9,827.1M963.4,826.8 L964.4,826.9 L965.4,826.5 L966.4,826.8 L967.4,826.7M969.9,826.8 L970.9,827.2 L971.9,826.4 L972.9,826.5 L973.9,826.4M976.4,825.3 L977.4,826.0 L978.4,826.4 L979.4,826.5 L980.4,826.2M982.9,826.6 L983.9,826.7 L984.9,826.1 L985.9,826.7 L986.9,826.8M989.4,826.3 L990.4,825.9 L991.4,826.6 L992.4,826.1 L993.4,826.0M995.9,826.1 L996.9,825.9 L997.9,826.4 L998.9,826.3 L999.9,826.4M1002.4,826.1 L1003.4,825.7 L1004.4,825.8 L1005.4,826.1 L1006.4,825.7M1008.9,826.6 L1009.9,825.7 L1010.9,825.5 L1011.9,826.0 L1012.9,825.8M1015.4,825.5 L1016.4,825.4 L1017.4,825.6 L1018.4,825.6 L1019.4,825.5M1021.9,825.1 L1022.9,825.3 L1023.9,825.3 L1024.9,825.2 L1025.9,824.0M1028.4,824.4 L1029.4,824.3 L1030.4,824.4 L1031.4,824.4 L1032.4,824.5M1034.9,824.1 L1035.8,823.7 L1036.8,823.5 L1037.8,823.9 L1038.8,823.0M1041.7,822.7 L1042.7,822.9 L1043.7,822.3 L1044.7,821.5 L1045.7,822.1M1048.7,821.5 L1049.7,821.5 L1050.7,821.8 L1051.7,821.5 L1052.6,821.2M1055.1,821.3 L1056.1,821.1 L1057.1,820.9 L1058.1,820.9 L1059.1,820.8M1061.6,820.4 L1062.6,820.3 L1063.6,820.3 L1064.6,819.9 L1065.6,819.8M1068.1,820.3 L1069.1,819.8 L1070.1,819.8 L1071.1,819.6 L1072.1,819.6M1074.6,819.4 L1075.6,819.3 L1076.6,819.0 L1077.6,819.4 L1078.6,818.8M1081.0,819.1 L1082.0,818.2 L1083.0,818.3 L1084.0,818.9 L1085.0,818.5M1087.5,818.1 L1088.5,818.3 L1089.5,817.8 L1090.5,818.1 L1091.5,817.3M1094.0,817.6 L1095.0,817.5 L1096.0,817.7 L1097.0,817.7 L1098.0,817.1" class="gdf"/>
<path d="M131.0,405.1 L132.3,408.4 L133.6,406.6 L134.9,400.1 L136.2,399.9 L137.5,397.6 L138.8,401.3 L140.1,405.9 L141.4,397.1 L142.7,387.7 L144.0,388.5 L145.3,392.1 L146.6,385.2 L147.9,382.8 L149.2,380.0 L150.5,379.1 L151.8,379.2 L153.1,368.9 L154.4,368.3 L155.7,365.1 L157.0,357.0 L158.3,352.9 L159.6,352.2 L160.9,343.9 L162.2,335.8 L163.5,332.9 L164.8,327.0 L166.1,323.5 L167.4,315.0 L168.7,306.2 L170.0,303.2 L171.3,294.8 L172.6,286.3 L173.9,280.8 L175.2,277.4 L176.5,262.9 L177.8,256.0 L179.1,250.9 L180.4,239.1 L181.7,229.4 L183.0,224.6 L184.3,211.1 L185.6,205.4 L186.9,196.6 L188.2,186.4 L189.5,178.7 L190.8,171.5 L192.1,163.7 L193.4,155.4 L194.7,149.0 L196.0,141.5 L197.3,137.6 L198.6,128.2 L199.9,122.5 L201.2,121.1 L202.5,112.0 L203.8,111.0 L205.1,106.9 L206.4,101.7 L207.7,97.3 L209.0,97.5 L210.3,96.6 L211.6,96.0 L212.9,94.7 L214.2,97.2 L215.5,99.0 L216.8,98.2 L218.1,105.2 L219.4,107.5 L220.7,110.7 L222.0,116.6 L223.3,126.0 L224.6,129.5 L225.9,131.5 L227.2,141.3 L228.5,147.1 L229.8,152.5 L231.1,159.3 L232.4,164.5 L233.7,174.2 L235.0,177.8 L236.3,184.5 L237.6,191.6 L238.9,198.9 L240.2,207.8 L241.5,212.3 L242.8,218.0 L244.1,221.9 L245.4,230.3 L246.7,240.2 L248.0,248.3 L249.3,249.5 L250.6,255.0 L251.9,262.1 L253.2,269.1 L254.5,271.3 L255.8,279.5 L257.1,283.2 L258.4,289.5 L259.7,295.2 L261.0,302.5 L262.3,304.3 L263.6,308.3 L264.9,311.3 L266.2,311.0 L267.5,320.8 L268.8,324.2 L270.1,332.8 L271.4,332.4 L272.7,334.3 L274.0,342.5 L275.3,342.8 L276.6,346.1 L277.9,345.5 L279.2,346.2 L280.5,345.6 L281.8,353.3 L283.1,357.6 L284.4,356.3 L285.7,358.7 L287.0,360.1 L288.3,356.9 L289.6,362.3 L290.9,361.6 L292.2,364.0 L293.5,368.8 L294.8,358.1 L296.1,369.8 L297.4,361.2 L298.7,369.8 L300.0,367.7 L301.3,369.7 L302.6,376.0 L303.9,373.0 L305.2,378.6 L306.5,380.7 L307.8,372.9 L309.1,379.1 L310.4,376.1 L311.7,382.1 L313.0,371.5 L314.3,381.5 L315.6,388.1 L316.9,381.4 L318.2,384.5 L319.5,386.0 L320.8,387.7 L322.1,395.7 L323.4,383.6 L324.7,391.8 L326.0,376.3 L327.3,394.0 L328.6,376.8 L329.9,370.0 L331.2,390.8 L332.5,399.4 L333.8,390.4 L335.1,399.1 L336.4,401.1 L337.7,393.8 L339.0,397.3 L340.3,413.4 L341.6,387.2 L342.9,399.3 L344.2,398.7 L345.5,398.9 L346.8,394.4 L348.1,398.8 L349.4,388.1 L350.7,400.3 L352.0,399.1 L353.3,402.9 L354.6,403.8 L355.9,402.6 L357.2,402.9 L358.5,402.9 L359.8,401.2 L361.1,402.5 L362.4,401.9 L363.7,404.7 L365.0,403.8 L366.3,406.0 L367.6,400.4 L368.9,407.4 L370.2,402.5 L371.5,389.7 L372.8,404.5 L374.1,403.9 L375.4,406.7 L376.7,404.0 L378.0,415.2 L379.3,403.5 L380.6,410.7 L381.9,404.8 L383.2,403.2 L384.5,407.3 L385.8,402.2 L387.1,415.8 L388.4,402.8 L389.7,409.5 L391.0,409.9 L392.3,403.5 L393.6,409.3 L394.9,411.7 L396.2,410.2 L397.5,409.6 L398.8,412.0 L400.1,409.5 L401.4,410.3 L402.7,390.4 L404.0,399.1 L405.3,406.5 L406.6,412.4 L407.9,408.2 L409.2,406.4 L410.5,411.4 L411.8,391.6 L413.1,413.6 L414.4,408.7 L415.7,412.9 L417.0,409.2 L418.3,410.4 L419.6,411.2" class="bk2"/>
<path d="M419.6,423.4 L420.9,410.9 L422.2,391.4 L423.5,413.1 L424.8,412.3 L426.1,399.1 L427.4,403.2 L428.7,404.7 L430.0,410.4 L431.3,409.4 L432.6,416.0 L433.9,431.1 L435.2,407.6 L436.5,420.4 L437.8,417.4 L439.1,415.1 L440.4,413.6 L441.7,420.6 L443.0,412.8 L444.3,411.0 L445.6,425.7 L446.9,405.6 L448.2,414.4 L449.5,406.5 L450.8,414.1 L452.1,414.2 L453.4,409.5 L454.7,417.6 L456.0,422.3 L457.3,416.2 L458.6,407.9 L459.9,414.7 L461.2,410.6 L462.5,413.6 L463.8,418.2 L465.1,412.8 L466.4,409.9 L467.7,413.9 L469.0,415.8 L470.3,417.3 L471.6,404.9 L472.9,410.9 L474.2,413.2 L475.5,411.9 L476.8,411.3 L478.1,416.9 L479.4,420.2 L480.7,416.7 L482.0,411.0 L483.3,414.5 L484.6,413.6 L485.9,409.5 L487.2,417.3 L488.5,414.7 L489.8,412.8 L491.1,423.3 L492.4,417.1 L493.7,417.5 L495.0,417.1 L496.3,417.0 L497.6,410.4 L498.9,413.4 L500.2,422.3 L501.5,402.6 L502.8,414.9 L504.1,416.2 L505.4,421.5 L506.7,417.1 L508.0,418.0 L509.3,414.3 L510.6,418.1 L511.9,434.1 L513.2,414.5 L514.5,419.7 L515.8,416.8 L517.1,412.6 L518.4,421.4 L519.7,414.4 L521.0,417.3 L522.3,410.1 L523.6,415.3 L524.9,412.1 L526.2,412.1 L527.5,408.9 L528.8,422.7 L530.1,414.9 L531.4,416.3 L532.7,419.3 L534.0,415.1 L535.3,417.3 L536.6,411.0 L537.9,416.3 L539.2,411.2 L540.5,417.4 L541.8,413.1 L543.1,411.0 L544.4,417.7 L545.7,412.3 L547.0,418.3 L548.3,417.3 L549.6,417.2 L550.9,404.1 L552.2,406.8 L553.5,413.8 L554.8,414.8 L556.1,413.9 L557.4,392.2 L558.7,415.3 L560.0,386.9 L561.3,413.0 L562.6,416.4 L563.9,423.9 L565.2,415.7 L566.5,414.7 L567.8,415.1 L569.1,416.4 L570.4,412.6 L571.7,414.8 L573.0,417.8 L574.3,417.9 L575.6,415.5 L576.9,420.1 L578.2,416.2 L579.5,409.7 L580.8,404.9 L582.1,423.9 L583.4,418.9 L584.7,415.9 L586.0,410.2 L587.3,411.8 L588.6,420.7 L589.9,407.4 L591.2,415.0 L592.5,419.1 L593.8,425.0 L595.1,407.8 L596.4,415.7 L597.7,432.6 L599.0,413.2 L600.3,411.5 L601.6,401.9 L602.9,421.0 L604.2,416.0 L605.5,419.8 L606.8,414.4 L608.1,412.2 L609.4,433.7 L610.7,411.6 L612.0,421.4 L613.3,414.8 L614.6,412.3 L615.9,412.3 L617.2,421.0 L618.5,418.2 L619.8,418.0 L621.1,411.4 L622.4,415.8 L623.7,416.4 L625.0,416.6 L626.3,416.2 L627.6,420.7 L628.9,428.5 L630.2,406.2 L631.5,417.1 L632.8,414.0 L634.1,402.1 L635.4,415.9 L636.7,409.2 L638.0,418.0 L639.3,415.5 L640.6,419.5 L641.9,424.2 L643.2,416.1 L644.5,417.1 L645.8,416.4 L647.1,414.9 L648.4,410.3 L649.7,425.7 L651.0,411.1 L652.3,415.3 L653.6,418.7 L654.9,396.0 L656.2,420.9 L657.5,418.2 L658.8,403.0 L660.1,417.5 L661.4,426.4 L662.7,413.0 L664.0,408.2 L665.3,415.3 L666.6,414.7 L667.9,420.0 L669.2,421.5 L670.5,414.1 L671.8,414.1 L673.1,419.0 L674.4,418.4 L675.7,423.2 L677.0,425.8 L678.3,417.3 L679.6,415.4 L680.9,430.0 L682.2,418.0 L683.5,411.9 L684.8,413.7 L686.1,416.0 L687.4,415.8 L688.7,425.2 L690.0,422.4 L691.3,419.0 L692.6,419.8 L693.9,414.6 L695.2,413.2 L696.5,415.7 L697.8,417.5 L699.1,415.5 L700.4,418.4 L701.7,419.9 L703.0,417.7 L704.3,413.3 L705.6,415.2 L706.9,414.5 L708.2,417.3 L709.5,412.7 L710.8,416.1 L712.1,419.1 L713.4,416.8 L714.7,428.9 L716.0,412.2 L717.3,408.6 L718.6,418.4 L719.9,424.0 L721.2,416.3 L722.5,412.3 L723.8,425.0 L725.1,417.5 L726.4,422.7 L727.7,415.0 L729.0,413.3 L730.3,415.7 L731.6,417.7 L732.9,420.3 L734.2,422.0 L735.5,406.2 L736.8,423.9 L738.1,428.2 L739.4,421.2 L740.7,419.3 L742.0,425.3 L743.3,421.7 L744.6,421.4 L745.9,420.1 L747.2,412.2 L748.5,441.8 L749.8,399.8 L751.1,415.1 L752.4,418.9 L753.7,418.3 L755.0,415.3 L756.3,416.5 L757.6,416.0 L758.9,417.7 L760.2,415.5 L761.5,418.8 L762.8,410.4 L764.1,416.0 L765.4,411.2 L766.7,420.5 L768.0,425.2 L769.3,417.0 L770.6,399.5 L771.9,417.2 L773.2,422.3 L774.5,427.4 L775.8,420.0 L777.1,410.2 L778.4,410.2 L779.7,417.6 L781.0,414.1 L782.3,417.7 L783.6,419.5 L784.9,413.0 L786.2,416.8 L787.5,415.8 L788.8,410.5 L790.1,409.1 L791.4,414.4 L792.7,421.6 L794.0,414.1 L795.3,422.9 L796.6,431.4 L797.9,423.7 L799.2,418.9 L800.5,420.9 L801.8,406.9 L803.1,395.2 L804.4,421.9 L805.7,427.6 L807.0,416.0 L808.3,419.8 L809.6,408.1 L810.9,402.7 L812.2,419.7 L813.5,431.5 L814.8,417.6 L816.1,426.8 L817.4,415.0 L818.7,416.2 L820.0,418.5 L821.3,395.3 L822.6,436.2 L823.9,412.3 L825.2,416.0 L826.5,410.1 L827.8,416.0 L829.1,413.7 L830.4,413.3 L831.7,416.5 L833.0,413.6 L834.3,425.6 L835.6,390.8 L836.9,415.0 L838.2,415.4 L839.5,413.6 L840.8,408.9 L842.1,423.4 L843.4,418.3 L844.7,412.2 L846.0,417.3 L847.3,413.2 L848.6,420.5 L849.9,418.5 L851.2,427.5 L852.5,418.8 L853.8,414.9 L855.1,420.3 L856.4,413.5 L857.7,418.5 L859.0,419.7 L860.3,416.3 L861.6,413.0 L862.9,419.4 L864.2,413.6 L865.5,414.3 L866.8,413.6 L868.1,420.2 L869.4,416.8 L870.7,408.9 L872.0,419.9 L873.3,424.4 L874.6,430.5 L875.9,402.0 L877.2,417.7 L878.5,419.2 L879.8,420.5 L881.1,417.6 L882.4,429.3 L883.7,420.0 L885.0,419.5 L886.3,412.9 L887.6,416.2 L888.9,418.4 L890.2,417.5 L891.5,419.3 L892.8,433.7 L894.1,403.3 L895.4,405.4 L896.7,412.9 L898.0,418.6 L899.3,422.3 L900.6,424.2 L901.9,417.4 L903.2,417.4 L904.5,417.1 L905.8,444.4 L907.1,440.7 L908.4,420.0 L909.7,415.0 L911.0,433.8 L912.3,402.1 L913.6,411.0 L914.9,417.2 L916.2,416.0 L917.5,410.4 L918.8,414.8 L920.1,418.7 L921.4,417.4 L922.7,416.3 L924.0,419.1 L925.3,413.3 L926.6,420.5 L927.9,414.9 L929.2,417.7 L930.5,418.4 L931.8,414.7 L933.1,412.6 L934.4,417.3 L935.7,414.7 L937.0,422.8 L938.3,417.3 L939.6,416.9 L940.9,416.3 L942.2,424.1 L943.5,395.7 L944.8,417.2 L946.1,409.5 L947.4,417.3 L948.7,417.6 L950.0,421.5 L951.3,412.9 L952.6,417.7 L953.9,423.2 L955.2,416.0 L956.5,417.1 L957.8,414.7 L959.1,408.9 L960.4,422.6 L961.7,423.6 L963.0,400.5 L964.3,400.0 L965.6,418.7 L966.9,408.2 L968.2,421.2 L969.5,420.9 L970.8,431.7 L972.1,408.4 L973.4,411.7 L974.7,438.8 L976.0,428.4 L977.3,421.5 L978.6,421.5 L979.9,416.9 L981.2,417.4 L982.5,414.9 L983.8,410.8 L985.1,417.4 L986.4,418.4 L987.7,414.2 L989.0,420.3 L990.3,410.8 L991.6,412.5 L992.9,415.3 L994.2,416.0 L995.5,423.2 L996.8,420.0 L998.1,417.6 L999.4,416.5 L1000.7,417.0 L1002.0,417.5 L1003.3,413.7 L1004.6,411.1 L1005.9,420.6 L1007.2,417.5 L1008.5,416.8 L1009.8,409.9 L1011.1,418.8 L1012.4,412.5 L1013.7,428.5 L1015.0,407.4 L1016.3,430.4 L1017.6,422.3 L1018.9,415.2 L1020.2,407.3 L1021.5,419.1 L1022.8,422.4 L1024.1,421.9 L1025.4,416.1 L1026.7,423.9 L1028.0,414.2 L1029.3,411.8 L1030.6,415.7 L1031.9,422.6 L1033.2,423.4 L1034.5,429.6 L1035.8,426.7 L1037.1,418.0 L1038.4,412.3 L1039.7,425.5 L1041.0,414.7 L1042.3,413.9 L1043.6,423.8 L1044.9,416.2 L1046.2,413.8 L1047.5,421.5 L1048.8,420.0 L1050.1,413.8 L1051.4,413.6 L1052.7,416.7 L1054.0,426.6 L1055.3,430.3 L1056.6,420.2 L1057.9,441.0 L1059.2,422.3 L1060.5,422.9 L1061.8,413.3 L1063.1,406.2 L1064.4,422.2 L1065.7,419.1 L1067.0,417.6 L1068.3,414.3 L1069.6,412.6 L1070.9,402.9 L1072.2,417.9 L1073.5,414.0 L1074.8,427.8 L1076.1,415.9 L1077.4,416.7 L1078.7,417.0 L1080.0,426.4 L1081.3,422.5 L1082.6,416.9 L1083.9,413.9 L1085.2,414.4 L1086.5,419.1 L1087.8,418.4 L1089.1,421.4 L1090.4,418.5 L1091.7,418.9 L1093.0,407.1 L1094.3,416.4 L1095.6,421.5 L1096.9,421.1 L1098.2,394.1" class="bk"/>
<path d="M131.0,401.8 L132.3,402.2 L133.6,404.0 L134.9,405.9 L136.2,400.1 L137.5,399.8 L138.8,396.1 L140.1,396.9 L141.4,398.9 L142.7,383.6 L144.0,387.6 L145.3,383.9 L146.6,384.9 L147.9,379.8 L149.2,373.3 L150.5,374.7 L151.8,380.0 L153.1,365.9 L154.4,363.7 L155.7,361.0 L157.0,356.1 L158.3,350.9 L159.6,348.4 L160.9,344.0 L162.2,343.0 L163.5,336.3 L164.8,327.9 L166.1,322.9 L167.4,321.8 L168.7,313.7 L170.0,308.3 L171.3,302.9 L172.6,301.1 L173.9,296.0 L175.2,285.5 L176.5,283.9 L177.8,274.0 L179.1,269.5 L180.4,269.1 L181.7,261.3 L183.0,257.3 L184.3,252.7 L185.6,246.6 L186.9,242.1 L188.2,237.2 L189.5,237.3 L190.8,228.0 L192.1,226.3 L193.4,218.7 L194.7,214.0 L196.0,212.2 L197.3,207.7 L198.6,205.1 L199.9,196.4 L201.2,196.1 L202.5,195.8 L203.8,189.7 L205.1,187.8 L206.4,188.4 L207.7,184.1 L209.0,185.7 L210.3,182.8 L211.6,182.9 L212.9,186.6 L214.2,187.1 L215.5,185.0 L216.8,188.1 L218.1,189.5 L219.4,191.8 L220.7,190.4 L222.0,195.7 L223.3,195.4 L224.6,200.4 L225.9,199.0 L227.2,201.3 L228.5,203.3 L229.8,206.0 L231.1,213.7 L232.4,212.9 L233.7,216.8 L235.0,221.1 L236.3,227.0 L237.6,228.1 L238.9,232.9 L240.2,237.9 L241.5,241.0 L242.8,247.4 L244.1,251.3 L245.4,254.7 L246.7,256.0 L248.0,262.5 L249.3,269.0 L250.6,274.3 L251.9,278.9 L253.2,280.6 L254.5,288.6 L255.8,291.0 L257.1,299.9 L258.4,300.0 L259.7,302.9 L261.0,311.9 L262.3,316.8 L263.6,321.2 L264.9,320.8 L266.2,322.6 L267.5,325.0 L268.8,324.3 L270.1,330.8 L271.4,334.7 L272.7,337.4 L274.0,337.8 L275.3,339.0 L276.6,342.5 L277.9,347.3 L279.2,347.0 L280.5,341.1 L281.8,349.2 L283.1,352.1 L284.4,362.3 L285.7,356.9 L287.0,357.2 L288.3,356.6 L289.6,358.0 L290.9,370.4 L292.2,365.6 L293.5,369.5 L294.8,365.2 L296.1,368.3 L297.4,367.4 L298.7,369.7 L300.0,370.2 L301.3,370.3 L302.6,378.5 L303.9,374.8 L305.2,378.8 L306.5,374.0 L307.8,378.5 L309.1,387.0 L310.4,374.9 L311.7,377.9 L313.0,381.8 L314.3,384.2 L315.6,379.2 L316.9,370.9 L318.2,382.6 L319.5,385.0 L320.8,384.5 L322.1,386.3 L323.4,394.0 L324.7,388.4 L326.0,388.1 L327.3,395.5 L328.6,393.7 L329.9,395.5 L331.2,398.0 L332.5,396.4 L333.8,397.3 L335.1,398.7 L336.4,392.4 L337.7,397.3 L339.0,396.6 L340.3,398.6 L341.6,395.8 L342.9,400.9 L344.2,393.0 L345.5,399.0 L346.8,401.0 L348.1,386.5 L349.4,390.5 L350.7,412.0 L352.0,398.8 L353.3,401.1 L354.6,401.3 L355.9,410.2 L357.2,408.1 L358.5,402.2 L359.8,403.1 L361.1,395.3 L362.4,404.6 L363.7,405.3 L365.0,401.4 L366.3,404.8 L367.6,408.3 L368.9,406.9 L370.2,412.5 L371.5,401.8 L372.8,405.4 L374.1,402.0 L375.4,413.4 L376.7,403.3 L378.0,402.6 L379.3,408.3 L380.6,405.0 L381.9,397.9 L383.2,406.4 L384.5,423.0 L385.8,405.4 L387.1,421.7 L388.4,396.6 L389.7,407.3 L391.0,407.7 L392.3,404.6 L393.6,405.9 L394.9,404.2 L396.2,408.9 L397.5,408.0 L398.8,411.8 L400.1,403.1 L401.4,401.0 L402.7,418.2 L404.0,406.3 L405.3,410.3 L406.6,409.1 L407.9,409.9 L409.2,411.3 L410.5,429.4 L411.8,386.3 L413.1,408.5 L414.4,416.5 L415.7,408.6 L417.0,403.3 L418.3,403.3 L419.6,409.6" class="bk2"/>
<path d="M419.6,407.6 L420.9,391.8 L422.2,396.5 L423.5,409.8 L424.8,412.7 L426.1,418.3 L427.4,409.6 L428.7,411.6 L430.0,410.4 L431.3,402.4 L432.6,409.3 L433.9,409.5 L435.2,412.9 L436.5,409.3 L437.8,407.9 L439.1,414.2 L440.4,412.1 L441.7,409.4 L443.0,409.9 L444.3,416.8 L445.6,415.4 L446.9,432.2 L448.2,404.9 L449.5,431.7 L450.8,413.1 L452.1,414.2 L453.4,414.8 L454.7,409.9 L456.0,416.0 L457.3,417.1 L458.6,424.2 L459.9,403.4 L461.2,419.0 L462.5,418.9 L463.8,415.8 L465.1,419.5 L466.4,411.8 L467.7,440.6 L469.0,418.4 L470.3,420.0 L471.6,413.4 L472.9,399.6 L474.2,413.6 L475.5,418.4 L476.8,408.0 L478.1,412.9 L479.4,419.6 L480.7,417.1 L482.0,420.0 L483.3,419.5 L484.6,414.6 L485.9,419.0 L487.2,416.6 L488.5,421.1 L489.8,412.8 L491.1,409.5 L492.4,419.6 L493.7,413.2 L495.0,412.2 L496.3,417.6 L497.6,411.7 L498.9,410.2 L500.2,412.9 L501.5,426.5 L502.8,415.8 L504.1,416.7 L505.4,418.2 L506.7,414.6 L508.0,416.3 L509.3,414.7 L510.6,413.6 L511.9,416.5 L513.2,410.7 L514.5,421.4 L515.8,417.3 L517.1,412.9 L518.4,417.3 L519.7,414.5 L521.0,420.7 L522.3,409.7 L523.6,413.2 L524.9,413.3 L526.2,415.9 L527.5,415.1 L528.8,410.2 L530.1,409.3 L531.4,408.2 L532.7,420.6 L534.0,420.5 L535.3,414.4 L536.6,417.3 L537.9,412.9 L539.2,410.9 L540.5,419.9 L541.8,418.1 L543.1,414.8 L544.4,414.6 L545.7,419.0 L547.0,417.0 L548.3,410.6 L549.6,417.0 L550.9,422.5 L552.2,414.7 L553.5,413.6 L554.8,419.2 L556.1,414.5 L557.4,420.8 L558.7,421.4 L560.0,420.3 L561.3,420.5 L562.6,418.0 L563.9,416.8 L565.2,411.3 L566.5,416.1 L567.8,416.5 L569.1,415.5 L570.4,427.5 L571.7,413.6 L573.0,416.8 L574.3,410.9 L575.6,416.1 L576.9,414.1 L578.2,414.1 L579.5,414.9 L580.8,418.8 L582.1,417.5 L583.4,419.3 L584.7,413.9 L586.0,403.4 L587.3,418.7 L588.6,414.2 L589.9,421.0 L591.2,403.9 L592.5,424.3 L593.8,416.5 L595.1,418.8 L596.4,402.7 L597.7,412.3 L599.0,413.5 L600.3,416.3 L601.6,416.6 L602.9,416.0 L604.2,415.4 L605.5,418.5 L606.8,417.6 L608.1,414.8 L609.4,418.0 L610.7,419.7 L612.0,405.5 L613.3,419.9 L614.6,411.8 L615.9,422.8 L617.2,397.2 L618.5,414.0 L619.8,417.3 L621.1,413.1 L622.4,414.5 L623.7,434.8 L625.0,414.1 L626.3,418.4 L627.6,416.9 L628.9,417.4 L630.2,416.0 L631.5,399.5 L632.8,412.4 L634.1,424.8 L635.4,417.6 L636.7,414.5 L638.0,417.6 L639.3,416.3 L640.6,432.1 L641.9,414.1 L643.2,418.4 L644.5,419.1 L645.8,417.7 L647.1,414.6 L648.4,399.4 L649.7,419.8 L651.0,406.9 L652.3,420.9 L653.6,406.4 L654.9,426.7 L656.2,420.5 L657.5,417.7 L658.8,418.0 L660.1,408.8 L661.4,414.9 L662.7,415.9 L664.0,405.7 L665.3,415.2 L666.6,416.6 L667.9,407.0 L669.2,415.9 L670.5,414.2 L671.8,416.3 L673.1,414.9 L674.4,416.6 L675.7,417.5 L677.0,422.5 L678.3,414.1 L679.6,422.2 L680.9,416.8 L682.2,413.6 L683.5,411.8 L684.8,414.2 L686.1,410.2 L687.4,419.7 L688.7,414.2 L690.0,410.3 L691.3,414.4 L692.6,418.3 L693.9,415.3 L695.2,419.1 L696.5,416.7 L697.8,415.0 L699.1,418.5 L700.4,412.7 L701.7,419.5 L703.0,416.9 L704.3,413.0 L705.6,413.3 L706.9,415.6 L708.2,410.6 L709.5,421.3 L710.8,419.9 L712.1,413.1 L713.4,416.3 L714.7,422.4 L716.0,418.1 L717.3,413.4 L718.6,409.5 L719.9,391.2 L721.2,410.1 L722.5,417.8 L723.8,412.4 L725.1,419.1 L726.4,415.6 L727.7,414.6 L729.0,415.0 L730.3,415.2 L731.6,415.1 L732.9,402.0 L734.2,415.5 L735.5,421.3 L736.8,421.9 L738.1,413.5 L739.4,423.8 L740.7,409.9 L742.0,411.9 L743.3,422.9 L744.6,411.9 L745.9,419.2 L747.2,412.7 L748.5,410.9 L749.8,419.8 L751.1,418.3 L752.4,408.4 L753.7,417.6 L755.0,416.6 L756.3,416.0 L757.6,426.0 L758.9,418.6 L760.2,417.0 L761.5,416.1 L762.8,419.6 L764.1,421.1 L765.4,411.8 L766.7,415.9 L768.0,413.7 L769.3,421.3 L770.6,413.8 L771.9,424.3 L773.2,434.4 L774.5,419.7 L775.8,418.6 L777.1,417.1 L778.4,438.4 L779.7,417.0 L781.0,418.1 L782.3,426.3 L783.6,414.0 L784.9,420.3 L786.2,418.6 L787.5,404.0 L788.8,430.6 L790.1,419.9 L791.4,412.2 L792.7,416.5 L794.0,420.2 L795.3,416.3 L796.6,418.0 L797.9,414.8 L799.2,415.0 L800.5,415.0 L801.8,415.9 L803.1,419.3 L804.4,419.8 L805.7,423.8 L807.0,419.0 L808.3,418.1 L809.6,428.1 L810.9,402.7 L812.2,408.4 L813.5,417.7 L814.8,399.7 L816.1,418.9 L817.4,421.8 L818.7,416.8 L820.0,410.0 L821.3,416.7 L822.6,437.3 L823.9,421.2 L825.2,415.9 L826.5,415.8 L827.8,420.9 L829.1,418.0 L830.4,418.0 L831.7,418.9 L833.0,414.7 L834.3,416.8 L835.6,420.9 L836.9,416.8 L838.2,416.6 L839.5,418.3 L840.8,418.6 L842.1,425.9 L843.4,418.7 L844.7,417.8 L846.0,413.3 L847.3,404.3 L848.6,427.1 L849.9,412.4 L851.2,420.6 L852.5,423.0 L853.8,420.1 L855.1,416.8 L856.4,430.4 L857.7,410.2 L859.0,420.3 L860.3,403.4 L861.6,420.1 L862.9,414.4 L864.2,403.3 L865.5,407.8 L866.8,416.9 L868.1,418.5 L869.4,416.6 L870.7,412.1 L872.0,414.1 L873.3,426.2 L874.6,414.3 L875.9,415.8 L877.2,419.9 L878.5,412.5 L879.8,414.2 L881.1,424.3 L882.4,416.6 L883.7,420.6 L885.0,413.2 L886.3,417.1 L887.6,419.3 L888.9,416.9 L890.2,415.8 L891.5,416.9 L892.8,422.9 L894.1,420.4 L895.4,421.6 L896.7,413.1 L898.0,410.6 L899.3,416.9 L900.6,417.6 L901.9,420.0 L903.2,427.9 L904.5,415.3 L905.8,424.6 L907.1,417.3 L908.4,415.5 L909.7,420.9 L911.0,418.6 L912.3,412.6 L913.6,412.2 L914.9,416.6 L916.2,418.2 L917.5,417.1 L918.8,420.0 L920.1,421.9 L921.4,427.8 L922.7,421.9 L924.0,417.2 L925.3,423.5 L926.6,418.6 L927.9,420.6 L929.2,416.9 L930.5,413.9 L931.8,402.7 L933.1,418.3 L934.4,400.4 L935.7,417.7 L937.0,420.8 L938.3,412.6 L939.6,411.8 L940.9,416.9 L942.2,419.0 L943.5,416.8 L944.8,416.0 L946.1,412.4 L947.4,417.5 L948.7,402.1 L950.0,423.0 L951.3,421.0 L952.6,415.9 L953.9,419.2 L955.2,418.4 L956.5,420.2 L957.8,423.0 L959.1,420.1 L960.4,420.2 L961.7,420.5 L963.0,416.4 L964.3,417.8 L965.6,419.0 L966.9,444.1 L968.2,437.0 L969.5,425.6 L970.8,418.7 L972.1,413.0 L973.4,412.1 L974.7,416.1 L976.0,412.3 L977.3,427.7 L978.6,420.5 L979.9,414.3 L981.2,419.1 L982.5,420.4 L983.8,398.8 L985.1,419.8 L986.4,417.0 L987.7,417.6 L989.0,420.1 L990.3,419.0 L991.6,397.9 L992.9,415.0 L994.2,421.6 L995.5,415.6 L996.8,417.2 L998.1,420.7 L999.4,417.8 L1000.7,421.8 L1002.0,414.2 L1003.3,420.6 L1004.6,413.5 L1005.9,425.6 L1007.2,414.5 L1008.5,412.2 L1009.8,415.7 L1011.1,414.2 L1012.4,433.5 L1013.7,414.8 L1015.0,393.2 L1016.3,418.9 L1017.6,425.4 L1018.9,419.2 L1020.2,420.1 L1021.5,417.7 L1022.8,421.5 L1024.1,416.0 L1025.4,420.4 L1026.7,414.1 L1028.0,414.7 L1029.3,415.9 L1030.6,417.7 L1031.9,416.4 L1033.2,420.0 L1034.5,419.8 L1035.8,408.0 L1037.1,416.9 L1038.4,419.0 L1039.7,441.7 L1041.0,416.2 L1042.3,414.1 L1043.6,420.1 L1044.9,420.3 L1046.2,411.0 L1047.5,412.9 L1048.8,416.0 L1050.1,409.2 L1051.4,416.0 L1052.7,424.4 L1054.0,414.4 L1055.3,418.5 L1056.6,415.0 L1057.9,419.4 L1059.2,420.2 L1060.5,422.4 L1061.8,418.3 L1063.1,415.8 L1064.4,419.4 L1065.7,416.4 L1067.0,428.3 L1068.3,416.0 L1069.6,418.6 L1070.9,426.3 L1072.2,420.9 L1073.5,424.0 L1074.8,419.0 L1076.1,416.1 L1077.4,417.5 L1078.7,412.9 L1080.0,418.7 L1081.3,412.7 L1082.6,419.2 L1083.9,419.3 L1085.2,420.9 L1086.5,423.7 L1087.8,415.3 L1089.1,413.9 L1090.4,414.6 L1091.7,416.1 L1093.0,421.0 L1094.3,420.1 L1095.6,416.0 L1096.9,414.2 L1098.2,415.9" class="bk"/>
<path d="M131.0,411.2 L132.3,404.3 L133.6,407.4 L134.9,401.4 L136.2,398.5 L137.5,398.6 L138.8,397.7 L140.1,390.8 L141.4,393.6 L142.7,390.3 L144.0,388.8 L145.3,403.1 L146.6,379.7 L147.9,383.6 L149.2,378.2 L150.5,383.2 L151.8,368.1 L153.1,367.7 L154.4,361.7 L155.7,366.2 L157.0,357.2 L158.3,357.1 L159.6,359.6 L160.9,362.4 L162.2,347.7 L163.5,344.9 L164.8,344.2 L166.1,343.6 L167.4,343.5 L168.7,335.2 L170.0,326.5 L171.3,325.4 L172.6,327.3 L173.9,325.2 L175.2,320.0 L176.5,321.8 L177.8,316.2 L179.1,311.9 L180.4,305.9 L181.7,307.1 L183.0,308.0 L184.3,300.6 L185.6,291.2 L186.9,294.2 L188.2,290.8 L189.5,288.0 L190.8,287.5 L192.1,283.3 L193.4,279.6 L194.7,276.3 L196.0,274.7 L197.3,273.7 L198.6,268.8 L199.9,268.7 L201.2,268.3 L202.5,262.2 L203.8,261.6 L205.1,256.6 L206.4,255.4 L207.7,256.9 L209.0,254.0 L210.3,249.8 L211.6,255.6 L212.9,252.5 L214.2,252.0 L215.5,253.5 L216.8,258.3 L218.1,253.7 L219.4,257.8 L220.7,258.6 L222.0,259.3 L223.3,260.7 L224.6,261.5 L225.9,267.5 L227.2,267.1 L228.5,268.3 L229.8,272.7 L231.1,273.0 L232.4,280.8 L233.7,281.5 L235.0,282.7 L236.3,285.9 L237.6,285.9 L238.9,289.1 L240.2,300.5 L241.5,293.2 L242.8,298.9 L244.1,304.8 L245.4,308.6 L246.7,304.8 L248.0,307.8 L249.3,312.4 L250.6,316.4 L251.9,315.1 L253.2,322.5 L254.5,322.9 L255.8,322.5 L257.1,302.7 L258.4,302.5 L259.7,306.9 L261.0,312.2 L262.3,316.1 L263.6,318.2 L264.9,323.8 L266.2,321.2 L267.5,320.0 L268.8,326.8 L270.1,330.5 L271.4,331.7 L272.7,333.0 L274.0,334.8 L275.3,331.2 L276.6,340.8 L277.9,333.2 L279.2,347.7 L280.5,349.0 L281.8,349.5 L283.1,349.5 L284.4,352.0 L285.7,351.5 L287.0,358.8 L288.3,361.4 L289.6,362.1 L290.9,361.5 L292.2,362.9 L293.5,364.8 L294.8,369.3 L296.1,364.7 L297.4,367.3 L298.7,351.6 L300.0,368.1 L301.3,372.7 L302.6,370.6 L303.9,354.9 L305.2,377.5 L306.5,377.9 L307.8,377.9 L309.1,381.5 L310.4,377.2 L311.7,377.5 L313.0,379.8 L314.3,372.9 L315.6,378.7 L316.9,386.5 L318.2,384.5 L319.5,384.7 L320.8,383.9 L322.1,386.8 L323.4,391.5 L324.7,390.1 L326.0,388.0 L327.3,387.9 L328.6,394.2 L329.9,391.5 L331.2,387.4 L332.5,391.6 L333.8,396.1 L335.1,393.5 L336.4,393.5 L337.7,372.1 L339.0,397.2 L340.3,392.3 L341.6,401.0 L342.9,386.8 L344.2,393.9 L345.5,396.1 L346.8,394.5 L348.1,398.6 L349.4,397.6 L350.7,396.7 L352.0,407.9 L353.3,403.1 L354.6,403.0 L355.9,393.4 L357.2,401.5 L358.5,402.6 L359.8,404.0 L361.1,401.4 L362.4,398.7 L363.7,404.0 L365.0,400.5 L366.3,392.0 L367.6,402.9 L368.9,406.9 L370.2,403.0 L371.5,405.0 L372.8,404.1 L374.1,403.5 L375.4,408.2 L376.7,404.2 L378.0,407.2 L379.3,423.1 L380.6,396.0 L381.9,408.4 L383.2,416.4 L384.5,415.4 L385.8,407.9 L387.1,405.5 L388.4,405.4 L389.7,406.6 L391.0,405.7 L392.3,407.7 L393.6,407.9 L394.9,405.2 L396.2,413.0 L397.5,411.7 L398.8,407.2 L400.1,415.7 L401.4,417.0 L402.7,413.2 L404.0,413.1 L405.3,407.4 L406.6,422.0 L407.9,397.1 L409.2,425.6 L410.5,413.1 L411.8,430.0 L413.1,404.7 L414.4,425.7 L415.7,395.3 L417.0,415.4 L418.3,398.5 L419.6,413.5" class="bk2"/>
<path d="M419.6,416.5 L420.9,411.6 L422.2,414.7 L423.5,403.1 L424.8,392.8 L426.1,412.8 L427.4,406.7 L428.7,408.6 L430.0,408.8 L431.3,411.9 L432.6,410.1 L433.9,413.6 L435.2,407.4 L436.5,414.8 L437.8,410.1 L439.1,405.6 L440.4,399.8 L441.7,415.6 L443.0,413.2 L444.3,419.6 L445.6,407.1 L446.9,406.5 L448.2,415.2 L449.5,415.8 L450.8,401.8 L452.1,414.8 L453.4,416.2 L454.7,417.9 L456.0,424.4 L457.3,408.0 L458.6,406.7 L459.9,436.4 L461.2,414.8 L462.5,416.8 L463.8,412.4 L465.1,412.8 L466.4,412.9 L467.7,419.6 L469.0,428.9 L470.3,406.5 L471.6,412.4 L472.9,417.6 L474.2,414.0 L475.5,411.7 L476.8,419.9 L478.1,418.5 L479.4,414.2 L480.7,408.2 L482.0,418.6 L483.3,440.5 L484.6,412.3 L485.9,409.8 L487.2,424.1 L488.5,404.9 L489.8,412.9 L491.1,415.1 L492.4,414.1 L493.7,419.4 L495.0,413.4 L496.3,416.1 L497.6,414.8 L498.9,415.5 L500.2,426.2 L501.5,414.7 L502.8,434.1 L504.1,417.7 L505.4,410.9 L506.7,413.5 L508.0,411.5 L509.3,412.5 L510.6,412.8 L511.9,410.9 L513.2,416.7 L514.5,418.2 L515.8,415.7 L517.1,413.6 L518.4,415.8 L519.7,412.6 L521.0,418.8 L522.3,423.3 L523.6,396.7 L524.9,416.7 L526.2,415.6 L527.5,416.1 L528.8,414.5 L530.1,410.4 L531.4,415.2 L532.7,412.2 L534.0,415.1 L535.3,415.4 L536.6,413.9 L537.9,423.5 L539.2,411.4 L540.5,423.6 L541.8,411.4 L543.1,407.9 L544.4,414.7 L545.7,415.7 L547.0,413.0 L548.3,412.1 L549.6,417.7 L550.9,413.5 L552.2,418.0 L553.5,411.3 L554.8,415.8 L556.1,424.1 L557.4,410.4 L558.7,412.9 L560.0,412.1 L561.3,416.5 L562.6,417.5 L563.9,424.0 L565.2,417.6 L566.5,415.6 L567.8,429.3 L569.1,415.5 L570.4,410.0 L571.7,419.7 L573.0,412.7 L574.3,417.4 L575.6,425.8 L576.9,412.8 L578.2,399.6 L579.5,402.9 L580.8,415.7 L582.1,443.8 L583.4,417.8 L584.7,420.0 L586.0,413.7 L587.3,416.0 L588.6,417.2 L589.9,413.3 L591.2,417.2 L592.5,418.4 L593.8,417.0 L595.1,411.5 L596.4,409.3 L597.7,420.9 L599.0,416.4 L600.3,416.0 L601.6,421.5 L602.9,417.2 L604.2,411.7 L605.5,405.2 L606.8,417.6 L608.1,408.4 L609.4,415.5 L610.7,421.3 L612.0,419.0 L613.3,419.7 L614.6,413.7 L615.9,414.1 L617.2,420.3 L618.5,417.3 L619.8,414.6 L621.1,417.6 L622.4,416.6 L623.7,415.1 L625.0,418.3 L626.3,426.6 L627.6,417.7 L628.9,413.6 L630.2,414.1 L631.5,399.5 L632.8,413.0 L634.1,417.0 L635.4,427.0 L636.7,412.2 L638.0,408.4 L639.3,413.7 L640.6,426.8 L641.9,407.2 L643.2,420.9 L644.5,416.6 L645.8,425.0 L647.1,417.8 L648.4,415.2 L649.7,422.4 L651.0,414.6 L652.3,425.6 L653.6,414.9 L654.9,420.7 L656.2,413.0 L657.5,413.3 L658.8,418.6 L660.1,416.4 L661.4,403.4 L662.7,419.0 L664.0,414.4 L665.3,421.4 L666.6,413.0 L667.9,422.0 L669.2,415.2 L670.5,413.5 L671.8,397.6 L673.1,418.9 L674.4,413.8 L675.7,423.1 L677.0,417.5 L678.3,417.8 L679.6,414.0 L680.9,416.4 L682.2,419.7 L683.5,413.2 L684.8,414.3 L686.1,408.0 L687.4,424.3 L688.7,436.3 L690.0,413.9 L691.3,422.3 L692.6,412.4 L693.9,415.5 L695.2,416.8 L696.5,413.3 L697.8,402.8 L699.1,423.5 L700.4,407.4 L701.7,413.5 L703.0,417.6 L704.3,410.4 L705.6,399.2 L706.9,423.8 L708.2,420.0 L709.5,430.0 L710.8,415.5 L712.1,415.3 L713.4,424.0 L714.7,415.6 L716.0,418.9 L717.3,389.4 L718.6,418.1 L719.9,409.5 L721.2,409.2 L722.5,416.4 L723.8,418.7 L725.1,418.6 L726.4,418.0 L727.7,407.1 L729.0,416.6 L730.3,420.0 L731.6,419.9 L732.9,424.0 L734.2,415.7 L735.5,422.0 L736.8,416.2 L738.1,411.8 L739.4,413.8 L740.7,425.6 L742.0,420.8 L743.3,430.2 L744.6,420.9 L745.9,414.8 L747.2,421.7 L748.5,416.6 L749.8,407.1 L751.1,418.1 L752.4,414.1 L753.7,418.6 L755.0,420.3 L756.3,417.6 L757.6,415.5 L758.9,421.7 L760.2,401.9 L761.5,429.8 L762.8,423.9 L764.1,417.0 L765.4,409.9 L766.7,414.7 L768.0,412.0 L769.3,410.6 L770.6,416.5 L771.9,416.4 L773.2,402.1 L774.5,420.8 L775.8,417.1 L777.1,413.7 L778.4,428.8 L779.7,418.2 L781.0,415.8 L782.3,414.2 L783.6,418.0 L784.9,416.1 L786.2,415.1 L787.5,418.0 L788.8,418.7 L790.1,416.4 L791.4,420.9 L792.7,413.5 L794.0,415.0 L795.3,422.8 L796.6,417.1 L797.9,418.8 L799.2,405.5 L800.5,417.5 L801.8,419.3 L803.1,397.5 L804.4,419.2 L805.7,421.3 L807.0,417.6 L808.3,419.8 L809.6,412.7 L810.9,414.1 L812.2,391.8 L813.5,430.3 L814.8,414.0 L816.1,416.0 L817.4,419.5 L818.7,415.4 L820.0,419.3 L821.3,410.5 L822.6,441.9 L823.9,413.4 L825.2,418.4 L826.5,419.0 L827.8,413.8 L829.1,418.8 L830.4,405.0 L831.7,416.9 L833.0,413.7 L834.3,418.0 L835.6,417.9 L836.9,417.9 L838.2,419.4 L839.5,413.4 L840.8,412.3 L842.1,413.1 L843.4,420.7 L844.7,413.7 L846.0,416.1 L847.3,418.5 L848.6,416.8 L849.9,413.9 L851.2,399.5 L852.5,420.5 L853.8,415.4 L855.1,427.5 L856.4,415.1 L857.7,417.5 L859.0,420.4 L860.3,415.0 L861.6,417.4 L862.9,418.4 L864.2,417.4 L865.5,414.0 L866.8,411.3 L868.1,412.7 L869.4,415.6 L870.7,422.6 L872.0,402.9 L873.3,418.8 L874.6,392.6 L875.9,411.4 L877.2,412.5 L878.5,434.9 L879.8,412.5 L881.1,418.8 L882.4,421.6 L883.7,412.3 L885.0,403.7 L886.3,429.6 L887.6,426.5 L888.9,421.2 L890.2,419.5 L891.5,418.9 L892.8,418.7 L894.1,414.5 L895.4,424.4 L896.7,417.6 L898.0,418.2 L899.3,412.4 L900.6,414.8 L901.9,419.8 L903.2,418.9 L904.5,420.1 L905.8,412.0 L907.1,418.4 L908.4,422.4 L909.7,432.8 L911.0,422.1 L912.3,420.5 L913.6,420.3 L914.9,415.2 L916.2,415.3 L917.5,415.3 L918.8,402.6 L920.1,421.8 L921.4,416.3 L922.7,413.2 L924.0,418.0 L925.3,422.0 L926.6,418.5 L927.9,419.7 L929.2,419.2 L930.5,419.6 L931.8,417.2 L933.1,418.6 L934.4,426.0 L935.7,412.9 L937.0,423.3 L938.3,414.0 L939.6,416.3 L940.9,414.8 L942.2,421.3 L943.5,421.3 L944.8,408.0 L946.1,415.9 L947.4,416.1 L948.7,419.3 L950.0,415.0 L951.3,431.4 L952.6,419.6 L953.9,415.2 L955.2,429.3 L956.5,420.5 L957.8,422.4 L959.1,405.2 L960.4,414.5 L961.7,389.5 L963.0,418.1 L964.3,416.7 L965.6,408.6 L966.9,415.4 L968.2,428.5 L969.5,415.5 L970.8,420.1 L972.1,436.9 L973.4,428.6 L974.7,422.6 L976.0,417.0 L977.3,418.9 L978.6,423.0 L979.9,414.8 L981.2,415.8 L982.5,415.8 L983.8,414.5 L985.1,420.3 L986.4,417.1 L987.7,393.2 L989.0,416.2 L990.3,417.2 L991.6,423.0 L992.9,417.4 L994.2,415.0 L995.5,413.3 L996.8,415.6 L998.1,418.6 L999.4,418.5 L1000.7,414.9 L1002.0,420.8 L1003.3,419.4 L1004.6,403.4 L1005.9,413.9 L1007.2,419.3 L1008.5,428.2 L1009.8,417.0 L1011.1,421.7 L1012.4,418.2 L1013.7,415.4 L1015.0,421.1 L1016.3,423.9 L1017.6,414.1 L1018.9,426.8 L1020.2,420.9 L1021.5,420.0 L1022.8,421.4 L1024.1,419.4 L1025.4,412.0 L1026.7,420.3 L1028.0,412.5 L1029.3,414.8 L1030.6,414.3 L1031.9,419.6 L1033.2,412.4 L1034.5,428.8 L1035.8,412.6 L1037.1,429.6 L1038.4,416.2 L1039.7,398.9 L1041.0,414.0 L1042.3,416.0 L1043.6,422.4 L1044.9,418.8 L1046.2,414.1 L1047.5,416.3 L1048.8,417.4 L1050.1,423.9 L1051.4,417.6 L1052.7,419.4 L1054.0,421.5 L1055.3,448.0 L1056.6,420.2 L1057.9,415.3 L1059.2,396.6 L1060.5,426.8 L1061.8,398.6 L1063.1,411.5 L1064.4,416.2 L1065.7,416.4 L1067.0,422.3 L1068.3,430.2 L1069.6,420.2 L1070.9,422.5 L1072.2,419.6 L1073.5,419.0 L1074.8,417.3 L1076.1,414.4 L1077.4,420.8 L1078.7,407.8 L1080.0,413.3 L1081.3,423.5 L1082.6,419.4 L1083.9,414.2 L1085.2,408.2 L1086.5,413.6 L1087.8,422.6 L1089.1,418.3 L1090.4,419.8 L1091.7,420.7 L1093.0,420.2 L1094.3,416.7 L1095.6,425.9 L1096.9,418.6 L1098.2,427.8" class="bk"/>
<path d="M131.0,408.8 L132.3,406.7 L133.6,406.3 L134.9,393.4 L136.2,400.3 L137.5,411.9 L138.8,398.1 L140.1,398.6 L141.4,388.5 L142.7,389.1 L144.0,394.7 L145.3,398.7 L146.6,390.2 L147.9,385.1 L149.2,384.2 L150.5,374.5 L151.8,369.7 L153.1,388.1 L154.4,380.5 L155.7,375.9 L157.0,369.9 L158.3,369.7 L159.6,362.5 L160.9,369.8 L162.2,363.0 L163.5,363.1 L164.8,359.2 L166.1,355.9 L167.4,357.5 L168.7,356.9 L170.0,352.5 L171.3,354.4 L172.6,350.0 L173.9,346.2 L175.2,345.3 L176.5,344.8 L177.8,343.8 L179.1,340.4 L180.4,338.8 L181.7,339.2 L183.0,336.3 L184.3,331.9 L185.6,333.6 L186.9,327.8 L188.2,326.3 L189.5,325.9 L190.8,321.6 L192.1,326.6 L193.4,324.2 L194.7,320.7 L196.0,320.2 L197.3,317.0 L198.6,320.4 L199.9,315.8 L201.2,316.7 L202.5,318.1 L203.8,316.9 L205.1,316.4 L206.4,314.9 L207.7,317.5 L209.0,321.8 L210.3,315.4 L211.6,311.3 L212.9,315.8 L214.2,320.3 L215.5,310.0 L216.8,315.0 L218.1,311.7 L219.4,314.8 L220.7,317.6 L222.0,319.3 L223.3,317.6 L224.6,318.7 L225.9,320.2 L227.2,318.7 L228.5,322.0 L229.8,322.4 L231.1,323.5 L232.4,328.9 L233.7,331.2 L235.0,331.7 L236.3,323.0 L237.6,323.9 L238.9,325.6 L240.2,320.4 L241.5,336.0 L242.8,330.8 L244.1,334.0 L245.4,328.0 L246.7,335.7 L248.0,335.2 L249.3,333.9 L250.6,346.7 L251.9,340.3 L253.2,341.5 L254.5,341.2 L255.8,342.5 L257.1,346.7 L258.4,348.0 L259.7,354.7 L261.0,350.3 L262.3,349.3 L263.6,350.3 L264.9,354.9 L266.2,358.3 L267.5,361.4 L268.8,355.0 L270.1,360.7 L271.4,361.2 L272.7,366.2 L274.0,358.0 L275.3,364.7 L276.6,360.6 L277.9,381.1 L279.2,366.8 L280.5,373.9 L281.8,375.7 L283.1,373.2 L284.4,379.3 L285.7,380.7 L287.0,373.1 L288.3,383.3 L289.6,385.9 L290.9,384.1 L292.2,385.8 L293.5,382.6 L294.8,389.7 L296.1,388.0 L297.4,393.7 L298.7,396.4 L300.0,393.9 L301.3,383.6 L302.6,389.4 L303.9,398.5 L305.2,381.0 L306.5,387.4 L307.8,404.2 L309.1,418.2 L310.4,398.6 L311.7,407.0 L313.0,410.9 L314.3,403.1 L315.6,410.6 L316.9,405.4 L318.2,402.6 L319.5,412.5 L320.8,410.6 L322.1,409.7 L323.4,409.1 L324.7,411.5 L326.0,409.2 L327.3,418.4 L328.6,420.2 L329.9,412.3 L331.2,409.5 L332.5,413.5 L333.8,414.0 L335.1,409.6 L336.4,410.9 L337.7,381.2 L339.0,412.2 L340.3,418.0 L341.6,408.6 L342.9,414.3 L344.2,401.2 L345.5,399.4 L346.8,410.4 L348.1,414.4 L349.4,409.3 L350.7,413.9 L352.0,429.9 L353.3,415.8 L354.6,384.6 L355.9,417.8 L357.2,426.8 L358.5,417.2 L359.8,422.4 L361.1,411.4 L362.4,413.0 L363.7,419.4 L365.0,410.3 L366.3,414.5 L367.6,415.0 L368.9,408.1 L370.2,414.7 L371.5,411.8 L372.8,417.9 L374.1,403.4 L375.4,414.6 L376.7,411.9 L378.0,424.0 L379.3,421.3 L380.6,403.4 L381.9,418.8 L383.2,411.4 L384.5,410.9 L385.8,413.5 L387.1,414.7 L388.4,412.6 L389.7,414.1 L391.0,418.4 L392.3,411.6 L393.6,410.8 L394.9,420.0 L396.2,406.7 L397.5,414.5 L398.8,413.1 L400.1,417.0 L401.4,415.9 L402.7,414.2 L404.0,413.6 L405.3,410.6 L406.6,414.1 L407.9,420.0 L409.2,407.8 L410.5,413.5 L411.8,415.5 L413.1,412.0 L414.4,414.7 L415.7,413.6 L417.0,424.4 L418.3,413.5 L419.6,413.0" class="bk2"/>
<path d="M419.6,414.0 L420.9,413.5 L422.2,404.7 L423.5,417.0 L424.8,414.3 L426.1,399.4 L427.4,419.4 L428.7,411.1 L430.0,413.5 L431.3,420.5 L432.6,410.1 L433.9,415.9 L435.2,413.9 L436.5,425.3 L437.8,423.6 L439.1,415.1 L440.4,422.9 L441.7,400.1 L443.0,420.4 L444.3,415.4 L445.6,411.5 L446.9,418.4 L448.2,412.9 L449.5,417.4 L450.8,413.6 L452.1,416.0 L453.4,414.6 L454.7,420.0 L456.0,407.8 L457.3,415.5 L458.6,415.1 L459.9,415.4 L461.2,409.7 L462.5,418.9 L463.8,416.2 L465.1,416.1 L466.4,412.9 L467.7,413.9 L469.0,413.1 L470.3,409.3 L471.6,412.5 L472.9,419.0 L474.2,399.9 L475.5,418.1 L476.8,409.0 L478.1,418.3 L479.4,412.4 L480.7,411.0 L482.0,402.2 L483.3,415.8 L484.6,410.6 L485.9,436.5 L487.2,416.7 L488.5,433.2 L489.8,431.1 L491.1,416.5 L492.4,418.7 L493.7,416.4 L495.0,421.6 L496.3,409.5 L497.6,413.6 L498.9,418.5 L500.2,416.2 L501.5,417.5 L502.8,418.9 L504.1,414.4 L505.4,411.2 L506.7,415.8 L508.0,417.5 L509.3,413.5 L510.6,401.4 L511.9,411.2 L513.2,405.6 L514.5,411.9 L515.8,414.8 L517.1,413.1 L518.4,419.8 L519.7,418.8 L521.0,412.8 L522.3,413.3 L523.6,412.4 L524.9,416.5 L526.2,421.7 L527.5,414.0 L528.8,417.9 L530.1,415.9 L531.4,419.7 L532.7,409.4 L534.0,414.2 L535.3,415.4 L536.6,418.6 L537.9,419.5 L539.2,419.9 L540.5,395.0 L541.8,409.6 L543.1,408.2 L544.4,416.0 L545.7,410.9 L547.0,424.8 L548.3,401.3 L549.6,424.5 L550.9,416.8 L552.2,413.0 L553.5,419.2 L554.8,416.4 L556.1,415.7 L557.4,418.3 L558.7,417.2 L560.0,412.6 L561.3,410.2 L562.6,409.0 L563.9,433.0 L565.2,423.2 L566.5,419.1 L567.8,413.8 L569.1,412.2 L570.4,417.0 L571.7,433.3 L573.0,411.3 L574.3,419.6 L575.6,413.8 L576.9,421.1 L578.2,422.4 L579.5,414.2 L580.8,425.5 L582.1,415.6 L583.4,406.5 L584.7,422.3 L586.0,415.2 L587.3,418.7 L588.6,406.9 L589.9,418.6 L591.2,416.3 L592.5,412.5 L593.8,422.7 L595.1,418.9 L596.4,398.5 L597.7,413.6 L599.0,428.9 L600.3,417.9 L601.6,418.0 L602.9,414.9 L604.2,418.2 L605.5,414.3 L606.8,414.1 L608.1,413.1 L609.4,405.1 L610.7,414.3 L612.0,414.5 L613.3,416.3 L614.6,420.9 L615.9,416.2 L617.2,413.5 L618.5,426.8 L619.8,432.4 L621.1,416.7 L622.4,421.3 L623.7,417.0 L625.0,422.4 L626.3,415.1 L627.6,414.0 L628.9,431.1 L630.2,416.9 L631.5,416.9 L632.8,414.6 L634.1,414.7 L635.4,412.2 L636.7,405.9 L638.0,421.8 L639.3,415.8 L640.6,413.2 L641.9,414.3 L643.2,413.9 L644.5,396.6 L645.8,413.7 L647.1,420.3 L648.4,413.7 L649.7,415.6 L651.0,406.1 L652.3,416.4 L653.6,420.6 L654.9,415.8 L656.2,419.1 L657.5,423.7 L658.8,398.7 L660.1,418.2 L661.4,403.4 L662.7,416.4 L664.0,414.3 L665.3,416.9 L666.6,412.6 L667.9,409.5 L669.2,418.4 L670.5,420.6 L671.8,420.8 L673.1,439.0 L674.4,416.9 L675.7,396.9 L677.0,412.0 L678.3,412.4 L679.6,412.7 L680.9,421.2 L682.2,421.3 L683.5,430.5 L684.8,420.7 L686.1,416.3 L687.4,414.8 L688.7,424.6 L690.0,413.4 L691.3,420.9 L692.6,414.0 L693.9,418.0 L695.2,419.5 L696.5,411.1 L697.8,410.2 L699.1,410.5 L700.4,415.5 L701.7,416.8 L703.0,422.9 L704.3,408.6 L705.6,413.2 L706.9,422.2 L708.2,423.1 L709.5,409.7 L710.8,413.1 L712.1,412.8 L713.4,414.0 L714.7,411.3 L716.0,431.7 L717.3,418.0 L718.6,412.3 L719.9,403.3 L721.2,415.5 L722.5,419.4 L723.8,414.2 L725.1,415.6 L726.4,413.3 L727.7,413.5 L729.0,401.8 L730.3,427.7 L731.6,420.5 L732.9,398.9 L734.2,417.7 L735.5,425.8 L736.8,413.5 L738.1,419.3 L739.4,416.9 L740.7,420.5 L742.0,416.9 L743.3,418.7 L744.6,417.2 L745.9,418.6 L747.2,404.9 L748.5,423.2 L749.8,415.1 L751.1,416.1 L752.4,414.6 L753.7,416.9 L755.0,437.4 L756.3,417.2 L757.6,412.3 L758.9,414.6 L760.2,415.1 L761.5,415.8 L762.8,404.2 L764.1,435.0 L765.4,408.4 L766.7,404.5 L768.0,421.7 L769.3,411.5 L770.6,423.1 L771.9,402.9 L773.2,420.4 L774.5,419.4 L775.8,406.0 L777.1,413.6 L778.4,408.0 L779.7,443.4 L781.0,422.2 L782.3,414.9 L783.6,420.0 L784.9,416.4 L786.2,417.0 L787.5,425.8 L788.8,418.9 L790.1,419.1 L791.4,408.4 L792.7,419.0 L794.0,411.3 L795.3,415.1 L796.6,420.0 L797.9,411.8 L799.2,437.9 L800.5,415.3 L801.8,419.8 L803.1,420.4 L804.4,419.5 L805.7,415.2 L807.0,426.7 L808.3,409.3 L809.6,420.4 L810.9,419.5 L812.2,416.0 L813.5,416.1 L814.8,413.5 L816.1,403.4 L817.4,418.0 L818.7,418.2 L820.0,419.7 L821.3,408.6 L822.6,420.6 L823.9,418.6 L825.2,418.4 L826.5,416.6 L827.8,421.4 L829.1,414.8 L830.4,414.6 L831.7,418.4 L833.0,412.4 L834.3,416.2 L835.6,412.2 L836.9,414.4 L838.2,435.3 L839.5,411.7 L840.8,420.6 L842.1,425.7 L843.4,413.4 L844.7,412.3 L846.0,396.1 L847.3,416.0 L848.6,417.4 L849.9,422.9 L851.2,412.7 L852.5,410.1 L853.8,417.8 L855.1,422.0 L856.4,417.9 L857.7,429.9 L859.0,421.2 L860.3,418.6 L861.6,414.0 L862.9,417.9 L864.2,433.3 L865.5,419.1 L866.8,417.4 L868.1,418.8 L869.4,417.5 L870.7,420.3 L872.0,403.9 L873.3,426.9 L874.6,427.8 L875.9,418.2 L877.2,420.4 L878.5,410.3 L879.8,414.6 L881.1,416.1 L882.4,422.2 L883.7,415.1 L885.0,414.3 L886.3,420.3 L887.6,410.7 L888.9,426.4 L890.2,413.2 L891.5,395.1 L892.8,425.1 L894.1,430.0 L895.4,417.5 L896.7,417.2 L898.0,414.4 L899.3,408.6 L900.6,418.4 L901.9,417.7 L903.2,423.0 L904.5,420.8 L905.8,414.3 L907.1,402.3 L908.4,414.3 L909.7,418.0 L911.0,421.0 L912.3,422.8 L913.6,432.6 L914.9,417.0 L916.2,413.9 L917.5,412.0 L918.8,423.4 L920.1,414.3 L921.4,415.8 L922.7,423.8 L924.0,404.8 L925.3,409.0 L926.6,419.0 L927.9,417.2 L929.2,413.1 L930.5,428.6 L931.8,418.9 L933.1,411.0 L934.4,415.7 L935.7,417.3 L937.0,419.7 L938.3,417.4 L939.6,413.7 L940.9,417.7 L942.2,421.5 L943.5,415.7 L944.8,413.9 L946.1,414.1 L947.4,410.0 L948.7,422.0 L950.0,418.9 L951.3,417.5 L952.6,418.4 L953.9,422.0 L955.2,416.5 L956.5,413.3 L957.8,421.5 L959.1,413.8 L960.4,416.6 L961.7,433.0 L963.0,435.1 L964.3,417.6 L965.6,420.8 L966.9,417.4 L968.2,417.0 L969.5,417.5 L970.8,422.6 L972.1,421.2 L973.4,423.7 L974.7,419.8 L976.0,416.7 L977.3,406.5 L978.6,410.4 L979.9,403.4 L981.2,421.4 L982.5,414.7 L983.8,419.8 L985.1,416.8 L986.4,416.5 L987.7,415.0 L989.0,415.4 L990.3,418.5 L991.6,422.6 L992.9,419.3 L994.2,415.0 L995.5,419.5 L996.8,409.5 L998.1,417.7 L999.4,425.6 L1000.7,409.9 L1002.0,416.9 L1003.3,421.4 L1004.6,402.5 L1005.9,422.3 L1007.2,416.5 L1008.5,423.6 L1009.8,423.4 L1011.1,416.9 L1012.4,418.3 L1013.7,415.0 L1015.0,417.0 L1016.3,411.7 L1017.6,421.8 L1018.9,431.2 L1020.2,419.3 L1021.5,408.1 L1022.8,416.0 L1024.1,420.7 L1025.4,417.6 L1026.7,417.4 L1028.0,412.6 L1029.3,417.6 L1030.6,410.3 L1031.9,439.0 L1033.2,418.5 L1034.5,417.8 L1035.8,416.2 L1037.1,416.0 L1038.4,415.6 L1039.7,420.4 L1041.0,429.2 L1042.3,413.0 L1043.6,431.1 L1044.9,422.9 L1046.2,427.8 L1047.5,417.4 L1048.8,408.3 L1050.1,419.1 L1051.4,416.0 L1052.7,418.5 L1054.0,421.4 L1055.3,414.0 L1056.6,420.7 L1057.9,420.7 L1059.2,409.5 L1060.5,436.8 L1061.8,409.5 L1063.1,425.9 L1064.4,417.4 L1065.7,419.4 L1067.0,418.5 L1068.3,417.0 L1069.6,422.4 L1070.9,417.8 L1072.2,420.7 L1073.5,412.0 L1074.8,423.7 L1076.1,418.5 L1077.4,418.8 L1078.7,414.3 L1080.0,414.7 L1081.3,419.2 L1082.6,406.5 L1083.9,422.0 L1085.2,415.1 L1086.5,414.9 L1087.8,417.7 L1089.1,444.5 L1090.4,418.4 L1091.7,421.2 L1093.0,415.8 L1094.3,414.9 L1095.6,408.2 L1096.9,413.7 L1098.2,408.6" class="bk"/>
<path d="M131.0,398.3 L132.1,400.3 L133.2,401.6 L134.3,398.8 L135.4,399.7 L136.5,396.7 L137.6,399.1 L138.7,401.3 L139.8,398.4 L140.9,399.9 L142.0,396.8 L143.1,394.7 L144.2,396.5 L145.3,391.0 L146.4,393.1 L147.5,393.6 L148.6,392.4 L149.7,394.3 L150.8,390.7 L151.9,394.5 L153.0,393.6 L154.1,391.2 L155.2,388.6 L156.3,386.7 L157.4,390.6 L158.5,387.7 L159.6,394.7 L160.7,389.3 L161.8,390.1 L162.9,383.5 L164.0,385.0 L165.1,383.3 L166.2,377.7 L167.3,383.8 L168.4,381.5 L169.5,381.2 L170.6,382.3 L171.7,383.3 L172.8,381.5 L173.9,383.8 L175.0,377.0 L176.1,380.3 L177.2,375.6 L178.3,376.3 L179.4,379.1 L180.5,377.1 L181.6,375.8 L182.7,375.2 L183.8,375.7 L184.9,376.8 L186.0,374.5 L187.1,371.3 L188.2,374.0 L189.3,371.3 L190.4,371.6 L191.5,370.9 L192.6,372.5 L193.7,370.2 L194.8,368.2 L195.9,365.1 L197.0,365.0 L198.1,368.9 L199.2,366.0 L200.3,369.5 L201.4,367.1 L202.5,367.4 L203.6,366.3 L204.7,372.7 L205.8,368.5 L206.9,367.1 L208.0,367.4 L209.1,359.3 L210.2,363.1 L211.3,368.3 L212.4,368.4 L213.5,363.1 L214.6,359.6 L215.7,361.6 L216.8,366.3 L217.9,364.5 L219.0,367.8 L220.1,364.4 L221.2,365.8 L222.3,366.5 L223.4,365.0 L224.5,364.3 L225.6,363.9 L226.7,365.2 L227.8,365.9 L228.9,368.6 L230.0,366.4 L231.1,365.0 L232.2,363.9 L233.3,364.9 L234.4,368.2 L235.5,367.7 L236.6,371.1 L237.7,367.6 L238.8,367.2 L239.9,372.2 L241.0,371.5 L242.1,372.4 L243.2,366.5 L244.3,369.9 L245.4,371.0 L246.5,371.3 L247.6,365.2 L248.7,371.7 L249.8,372.0 L250.9,375.3 L252.0,372.3 L253.1,373.5 L254.2,373.4 L255.3,371.5 L256.4,376.4 L257.5,380.1 L258.6,373.3 L259.7,380.2 L260.8,381.1 L261.9,373.7 L263.0,374.4 L264.1,376.2 L265.2,376.3 L266.3,377.5 L267.4,377.2 L268.5,379.5 L269.6,382.0 L270.7,383.5 L271.8,381.4 L272.9,379.9 L274.0,384.4 L275.1,385.2 L276.2,382.1 L277.3,385.7 L278.4,382.3 L279.5,383.9 L280.6,386.5 L281.7,386.1 L282.8,390.2 L283.9,387.4 L285.0,389.0 L286.1,391.8 L287.2,385.4 L288.3,391.6 L289.4,393.4 L290.5,390.4 L291.6,394.3 L292.7,389.1 L293.8,390.2 L294.9,389.5 L296.0,397.6 L297.1,391.7 L298.2,395.8 L299.3,390.5 L300.4,397.8 L301.5,392.3 L302.6,394.3 L303.7,390.0 L304.8,393.8 L305.9,400.0 L307.0,394.4 L308.1,402.6 L309.2,404.6 L310.3,398.7 L311.4,396.1 L312.5,399.1 L313.6,401.1 L314.7,395.5 L315.8,399.5 L316.9,402.0 L318.0,403.0 L319.1,397.3 L320.2,402.5 L321.3,403.2 L322.4,406.2 L323.5,404.4 L324.6,406.8 L325.7,405.7 L326.8,402.3 L327.9,412.2 L329.0,406.9 L330.1,406.1 L331.2,404.7 L332.3,410.0 L333.4,406.9 L334.5,408.1 L335.6,406.9 L336.7,406.3 L337.8,403.2 L338.9,406.0 L340.0,411.8 L341.1,408.7 L342.2,408.8 L343.3,405.9 L344.4,406.5 L345.5,407.7 L346.6,408.6 L347.7,411.3 L348.8,410.7 L349.9,413.5 L351.0,407.3 L352.1,411.0 L353.2,405.0 L354.3,405.8 L355.4,411.4 L356.5,408.0 L357.6,411.1 L358.7,408.3 L359.8,415.0 L360.9,412.0 L362.0,409.4 L363.1,407.6 L364.2,410.9 L365.3,413.3 L366.4,409.5 L367.5,419.5 L368.6,413.3 L369.7,410.1 L370.8,409.4 L371.9,408.9 L373.0,414.4 L374.1,404.6 L375.2,407.9 L376.3,417.4 L377.4,414.3 L378.5,408.4 L379.6,420.4 L380.7,413.1 L381.8,414.6 L382.9,412.1 L384.0,411.4 L385.1,413.3 L386.2,414.1 L387.3,411.3 L388.4,421.5 L389.5,412.7 L390.6,414.6 L391.7,415.8 L392.8,418.1 L393.9,395.5 L395.0,409.1 L396.1,413.3 L397.2,413.8 L398.3,420.5 L399.4,413.5 L400.5,409.7 L401.6,414.0 L402.7,413.7 L403.8,410.9 L404.9,410.7 L406.0,418.5 L407.1,409.2 L408.2,417.3 L409.3,413.2 L410.4,415.8 L411.5,410.4 L412.6,414.1 L413.7,418.3 L414.8,407.0 L415.9,411.9 L417.0,411.7 L418.1,407.7 L419.2,415.3" class="bk2"/>
<path d="M419.2,414.6 L420.5,414.1 L421.8,414.3 L423.1,412.5 L424.4,413.5 L425.7,426.9 L427.0,402.9 L428.3,429.7 L429.6,412.8 L430.9,411.5 L432.2,408.7 L433.5,411.5 L434.8,394.3 L436.1,413.3 L437.4,412.1 L438.7,415.1 L440.0,423.7 L441.3,412.5 L442.6,410.8 L443.9,408.2 L445.2,407.1 L446.5,415.6 L447.8,415.4 L449.1,412.1 L450.4,415.7 L451.7,414.4 L453.0,411.6 L454.3,415.3 L455.6,416.1 L456.9,409.2 L458.2,413.9 L459.5,414.7 L460.8,408.1 L462.1,423.0 L463.4,418.3 L464.7,424.7 L466.0,409.5 L467.3,414.4 L468.6,430.4 L469.9,412.9 L471.2,422.0 L472.5,410.9 L473.8,414.6 L475.1,413.5 L476.4,417.1 L477.7,413.9 L479.0,427.6 L480.3,411.1 L481.6,413.1 L482.9,418.2 L484.2,417.9 L485.5,418.2 L486.8,401.2 L488.1,419.6 L489.4,414.4 L490.7,416.9 L492.0,415.4 L493.3,415.6 L494.6,412.8 L495.9,426.8 L497.2,416.3 L498.5,418.9 L499.8,411.9 L501.1,440.6 L502.4,414.6 L503.7,410.4 L505.0,419.1 L506.3,417.2 L507.6,415.8 L508.9,411.4 L510.2,418.4 L511.5,411.8 L512.8,411.7 L514.1,407.5 L515.4,418.8 L516.7,415.6 L518.0,415.9 L519.3,412.3 L520.6,403.6 L521.9,404.1 L523.2,417.7 L524.5,424.1 L525.8,416.4 L527.1,415.0 L528.4,410.6 L529.7,412.2 L531.0,404.7 L532.3,405.5 L533.6,402.0 L534.9,415.8 L536.2,414.7 L537.5,418.0 L538.8,412.9 L540.1,415.0 L541.4,419.1 L542.7,420.1 L544.0,414.6 L545.3,414.6 L546.6,414.2 L547.9,427.1 L549.2,421.4 L550.5,416.3 L551.8,412.0 L553.1,419.8 L554.4,420.1 L555.7,420.1 L557.0,419.0 L558.3,414.8 L559.6,419.2 L560.9,418.0 L562.2,415.1 L563.5,416.5 L564.8,420.7 L566.1,409.8 L567.4,410.1 L568.7,397.4 L570.0,413.6 L571.3,415.7 L572.6,419.5 L573.9,413.3 L575.2,420.1 L576.5,415.0 L577.8,418.7 L579.1,421.9 L580.4,420.1 L581.7,415.1 L583.0,415.9 L584.3,417.9 L585.6,419.1 L586.9,419.3 L588.2,412.3 L589.5,420.3 L590.8,420.0 L592.1,416.9 L593.4,425.1 L594.7,411.2 L596.0,411.4 L597.3,418.3 L598.6,430.1 L599.9,419.6 L601.2,426.6 L602.5,416.8 L603.8,418.6 L605.1,418.2 L606.4,416.2 L607.7,423.8 L609.0,416.0 L610.3,417.8 L611.6,415.1 L612.9,419.9 L614.2,420.6 L615.5,420.5 L616.8,417.3 L618.1,419.7 L619.4,412.8 L620.7,437.0 L622.0,418.7 L623.3,408.6 L624.6,410.7 L625.9,418.8 L627.2,417.0 L628.5,415.4 L629.8,437.6 L631.1,421.6 L632.4,418.0 L633.7,415.1 L635.0,411.2 L636.3,410.6 L637.6,412.4 L638.9,415.7 L640.2,413.8 L641.5,439.1 L642.8,413.9 L644.1,416.3 L645.4,431.9 L646.7,408.6 L648.0,414.6 L649.3,410.8 L650.6,422.0 L651.9,398.5 L653.2,411.8 L654.5,417.1 L655.8,419.2 L657.1,418.6 L658.4,417.0 L659.7,433.1 L661.0,404.3 L662.3,423.5 L663.6,418.2 L664.9,437.5 L666.2,422.8 L667.5,414.8 L668.8,414.9 L670.1,421.3 L671.4,420.0 L672.7,433.6 L674.0,415.8 L675.3,419.2 L676.6,416.4 L677.9,410.1 L679.2,419.5 L680.5,397.7 L681.8,413.7 L683.1,422.9 L684.4,413.4 L685.7,403.8 L687.0,422.1 L688.3,422.1 L689.6,416.2 L690.9,429.0 L692.2,420.7 L693.5,418.8 L694.8,416.8 L696.1,414.2 L697.4,411.8 L698.7,414.6 L700.0,415.8 L701.3,410.5 L702.6,421.7 L703.9,415.8 L705.2,422.5 L706.5,424.8 L707.8,414.8 L709.1,416.6 L710.4,415.2 L711.7,416.7 L713.0,417.1 L714.3,423.0 L715.6,418.3 L716.9,419.4 L718.2,414.6 L719.5,411.3 L720.8,417.6 L722.1,402.3 L723.4,413.1 L724.7,414.7 L726.0,417.7 L727.3,413.5 L728.6,418.2 L729.9,415.9 L731.2,418.3 L732.5,422.9 L733.8,419.7 L735.1,416.5 L736.4,417.9 L737.7,416.2 L739.0,416.8 L740.3,417.2 L741.6,417.0 L742.9,416.9 L744.2,420.4 L745.5,420.3 L746.8,423.0 L748.1,412.7 L749.4,418.5 L750.7,425.3 L752.0,406.8 L753.3,417.7 L754.6,418.7 L755.9,414.5 L757.2,414.8 L758.5,415.7 L759.8,412.0 L761.1,415.2 L762.4,410.4 L763.7,421.2 L765.0,416.4 L766.3,413.5 L767.6,422.4 L768.9,417.0 L770.2,411.0 L771.5,417.5 L772.8,415.3 L774.1,410.4 L775.4,417.3 L776.7,422.3 L778.0,411.1 L779.3,406.6 L780.6,394.8 L781.9,418.1 L783.2,420.2 L784.5,416.2 L785.8,421.6 L787.1,417.1 L788.4,416.8 L789.7,418.5 L791.0,416.1 L792.3,416.0 L793.6,415.5 L794.9,414.3 L796.2,414.6 L797.5,415.7 L798.8,428.7 L800.1,418.2 L801.4,410.4 L802.7,415.6 L804.0,414.4 L805.3,411.0 L806.6,418.6 L807.9,415.1 L809.2,392.2 L810.5,421.3 L811.8,405.9 L813.1,417.7 L814.4,425.0 L815.7,414.5 L817.0,417.7 L818.3,417.4 L819.6,417.4 L820.9,418.1 L822.2,409.8 L823.5,421.1 L824.8,419.3 L826.1,412.9 L827.4,413.1 L828.7,412.0 L830.0,420.0 L831.3,433.3 L832.6,419.7 L833.9,421.8 L835.2,416.2 L836.5,414.7 L837.8,411.8 L839.1,418.5 L840.4,412.3 L841.7,414.5 L843.0,421.3 L844.3,422.3 L845.6,416.4 L846.9,414.3 L848.2,417.8 L849.5,413.6 L850.8,412.8 L852.1,418.3 L853.4,418.2 L854.7,420.2 L856.0,418.7 L857.3,402.5 L858.6,419.2 L859.9,414.8 L861.2,418.6 L862.5,414.3 L863.8,417.8 L865.1,415.9 L866.4,420.5 L867.7,409.3 L869.0,415.5 L870.3,429.2 L871.6,400.3 L872.9,418.7 L874.2,419.3 L875.5,425.0 L876.8,420.8 L878.1,414.3 L879.4,408.4 L880.7,417.8 L882.0,419.2 L883.3,415.3 L884.6,420.8 L885.9,411.0 L887.2,410.5 L888.5,415.0 L889.8,419.6 L891.1,420.7 L892.4,417.9 L893.7,423.4 L895.0,408.0 L896.3,417.1 L897.6,409.7 L898.9,418.8 L900.2,414.9 L901.5,408.3 L902.8,412.6 L904.1,421.4 L905.4,416.9 L906.7,417.1 L908.0,422.1 L909.3,425.7 L910.6,398.7 L911.9,418.3 L913.2,422.2 L914.5,417.6 L915.8,418.5 L917.1,421.4 L918.4,416.3 L919.7,417.7 L921.0,430.3 L922.3,416.8 L923.6,415.4 L924.9,409.2 L926.2,421.1 L927.5,420.5 L928.8,417.0 L930.1,417.3 L931.4,423.8 L932.7,422.1 L934.0,419.0 L935.3,421.7 L936.6,413.1 L937.9,415.2 L939.2,418.8 L940.5,410.7 L941.8,412.8 L943.1,419.0 L944.4,416.9 L945.7,416.9 L947.0,418.3 L948.3,414.1 L949.6,427.0 L950.9,416.0 L952.2,419.1 L953.5,417.9 L954.8,415.5 L956.1,411.9 L957.4,422.9 L958.7,427.0 L960.0,409.4 L961.3,412.9 L962.6,434.4 L963.9,436.4 L965.2,437.2 L966.5,415.6 L967.8,420.9 L969.1,419.5 L970.4,421.7 L971.7,420.8 L973.0,414.4 L974.3,416.0 L975.6,422.3 L976.9,405.5 L978.2,417.7 L979.5,420.2 L980.8,426.9 L982.1,416.7 L983.4,418.7 L984.7,416.7 L986.0,424.0 L987.3,428.2 L988.6,424.5 L989.9,417.6 L991.2,424.1 L992.5,423.7 L993.8,416.2 L995.1,417.1 L996.4,416.4 L997.7,424.5 L999.0,422.8 L1000.3,416.5 L1001.6,434.8 L1002.9,418.5 L1004.2,422.6 L1005.5,419.6 L1006.8,418.3 L1008.1,412.6 L1009.4,420.4 L1010.7,417.2 L1012.0,418.4 L1013.3,418.7 L1014.6,407.2 L1015.9,416.8 L1017.2,418.6 L1018.5,420.1 L1019.8,418.7 L1021.1,417.3 L1022.4,414.7 L1023.7,424.6 L1025.0,421.9 L1026.3,415.7 L1027.6,415.5 L1028.9,418.5 L1030.2,423.2 L1031.5,418.2 L1032.8,400.4 L1034.1,419.1 L1035.4,415.8 L1036.7,419.0 L1038.0,412.5 L1039.3,416.1 L1040.6,416.4 L1041.9,401.2 L1043.2,438.5 L1044.5,413.9 L1045.8,418.3 L1047.1,412.4 L1048.4,417.0 L1049.7,420.8 L1051.0,433.5 L1052.3,421.3 L1053.6,419.6 L1054.9,420.4 L1056.2,437.8 L1057.5,422.0 L1058.8,416.0 L1060.1,415.7 L1061.4,416.5 L1062.7,420.1 L1064.0,423.6 L1065.3,413.6 L1066.6,423.3 L1067.9,410.3 L1069.2,411.2 L1070.5,413.1 L1071.8,422.4 L1073.1,418.9 L1074.4,415.7 L1075.7,418.4 L1077.0,420.3 L1078.3,420.6 L1079.6,405.3 L1080.9,409.9 L1082.2,425.2 L1083.5,420.7 L1084.8,422.8 L1086.1,428.1 L1087.4,417.3 L1088.7,436.2 L1090.0,418.1 L1091.3,412.7 L1092.6,415.6 L1093.9,420.3 L1095.2,402.0 L1096.5,416.7 L1097.8,413.0" class="bk"/>
<path d="M131.0,414.3 L131.6,397.7 L132.2,406.9 L132.8,403.8 L133.4,396.3 L134.0,406.6 L134.6,408.6 L135.2,390.3 L135.8,414.3 L136.4,398.7 L137.0,399.6 L137.6,407.3 L138.2,411.5 L138.8,413.7 L139.4,393.6 L140.0,405.2 L140.6,412.5 L141.2,400.3 L141.8,399.8 L142.4,404.7 L143.0,412.8 L143.6,411.6 L144.2,407.9 L144.8,403.7 L145.4,396.2 L146.0,398.5 L146.6,390.8 L147.2,414.9 L147.8,407.8 L148.4,403.9 L149.0,402.3 L149.6,407.0 L150.2,388.7 L150.8,414.9 L151.4,409.2 L152.0,397.5 L152.6,402.3 L153.2,420.2 L153.8,409.8 L154.4,415.1 L155.0,404.2 L155.6,396.5 L156.2,400.1 L156.8,411.3 L157.4,404.8 L158.0,398.3 L158.6,383.7 L159.2,408.9 L159.8,410.3 L160.4,402.2 L161.0,402.8 L161.6,401.5 L162.2,392.1 L162.8,404.4 L163.4,392.1 L164.0,401.3 L164.6,403.4 L165.2,401.7 L165.8,392.8 L166.4,394.0 L167.0,404.0 L167.6,390.5 L168.2,393.2 L168.8,404.9 L169.4,396.7 L170.0,404.2 L170.6,400.2 L171.2,401.9 L171.8,397.9 L172.4,391.7 L173.0,388.8 L173.6,405.5 L174.2,403.9 L174.8,393.9 L175.4,414.0 L176.0,402.4 L176.6,400.8 L177.2,404.5 L177.8,393.5 L178.4,394.5 L179.0,394.9 L179.6,398.6 L180.2,406.9 L180.8,404.8 L181.4,392.4 L182.0,407.5 L182.6,417.3 L183.2,392.8 L183.8,411.2 L184.4,388.9 L185.0,395.0 L185.6,400.1 L186.2,380.6 L186.8,396.9 L187.4,401.8 L188.0,407.9 L188.6,401.8 L189.2,402.2 L189.8,381.1 L190.4,398.0 L191.0,396.2 L191.6,416.4 L192.2,408.7 L192.8,392.1 L193.4,408.3 L194.0,389.2 L194.6,402.7 L195.2,390.1 L195.8,408.7 L196.4,402.3 L197.0,408.5 L197.6,404.1 L198.2,397.5 L198.8,392.4 L199.4,395.9 L200.0,398.4 L200.6,401.8 L201.2,402.2 L201.8,397.7 L202.4,403.2 L203.0,390.7 L203.6,399.3 L204.2,385.9 L204.8,399.9 L205.4,396.0 L206.0,409.2 L206.6,393.4 L207.2,392.9 L207.8,384.3 L208.4,403.4 L209.0,386.4 L209.6,408.5 L210.2,386.8 L210.8,391.0 L211.4,380.4 L212.0,397.4 L212.6,401.5 L213.2,411.1 L213.8,403.5 L214.4,398.1 L215.0,392.3 L215.6,395.5 L216.2,415.5 L216.8,412.9 L217.4,404.1 L218.0,387.6 L218.6,399.7 L219.2,403.7 L219.8,389.0 L220.4,401.8 L221.0,402.4 L221.6,397.6 L222.2,392.1 L222.8,408.4 L223.4,393.4 L224.0,402.4 L224.6,405.1 L225.2,392.5 L225.8,402.6 L226.4,408.8 L227.0,403.3 L227.6,395.9 L228.2,400.5 L228.8,396.6 L229.4,393.4 L230.0,398.2 L230.6,396.3 L231.2,393.4 L231.8,391.9 L232.4,387.1 L233.0,401.6 L233.6,393.6 L234.2,406.4 L234.8,398.1 L235.4,399.8 L236.0,396.0 L236.6,407.3 L237.2,387.0 L237.8,398.3 L238.4,401.8 L239.0,391.3 L239.6,395.2 L240.2,396.2 L240.8,416.8 L241.4,410.4 L242.0,405.2 L242.6,417.0 L243.2,415.6 L243.8,405.9 L244.4,400.4 L245.0,388.3 L245.6,390.2 L246.2,396.5 L246.8,396.7 L247.4,404.4 L248.0,391.6 L248.6,407.1 L249.2,393.8 L249.8,399.6 L250.4,390.4 L251.0,401.1 L251.6,384.8 L252.2,399.1 L252.8,406.0 L253.4,385.5 L254.0,397.7 L254.6,392.0 L255.2,396.7 L255.8,394.4 L256.4,405.6 L257.0,415.4 L257.6,404.1 L258.2,399.4 L258.8,381.7 L259.4,392.5 L260.0,402.6 L260.6,394.5 L261.2,406.4 L261.8,403.8 L262.4,401.6 L263.0,400.9 L263.6,405.5 L264.2,407.0 L264.8,396.1 L265.4,403.8 L266.0,388.8 L266.6,406.2 L267.2,411.9 L267.8,408.1 L268.4,402.7 L269.0,405.2 L269.6,407.3 L270.2,400.8 L270.8,420.3 L271.4,404.7 L272.0,404.4 L272.6,398.4 L273.2,408.8 L273.8,402.2 L274.4,409.7 L275.0,407.2 L275.6,391.9 L276.2,403.7 L276.8,410.0 L277.4,410.9 L278.0,404.7 L278.6,390.7 L279.2,396.4 L279.8,419.4 L280.4,409.1 L281.0,413.1 L281.6,384.7 L282.2,404.4 L282.8,407.8 L283.4,404.8 L284.0,410.8 L284.6,413.9 L285.2,410.1 L285.8,396.3 L286.4,391.6 L287.0,402.9 L287.6,391.3 L288.2,404.5 L288.8,417.9 L289.4,398.5 L290.0,412.0 L290.6,409.8 L291.2,401.6 L291.8,404.9 L292.4,396.8 L293.0,405.1 L293.6,410.8 L294.2,399.9 L294.8,405.1 L295.4,403.0 L296.0,413.1 L296.6,417.1 L297.2,400.9 L297.8,397.4 L298.4,409.4 L299.0,404.6 L299.6,408.2 L300.2,413.9 L300.8,407.6 L301.4,411.4 L302.0,394.7 L302.6,404.1 L303.2,404.7 L303.8,408.9 L304.4,407.8 L305.0,405.3 L305.6,395.1 L306.2,409.8 L306.8,412.2 L307.4,404.7 L308.0,408.6 L308.6,403.4 L309.2,400.2 L309.8,402.9 L310.4,397.0 L311.0,402.8 L311.6,391.7 L312.2,408.9 L312.8,417.7 L313.4,412.7 L314.0,406.7 L314.6,404.2 L315.2,395.5 L315.8,406.1 L316.4,418.0 L317.0,412.3 L317.6,394.4 L318.2,395.1 L318.8,409.9 L319.4,396.5 L320.0,395.2 L320.6,416.4 L321.2,394.3 L321.8,407.4 L322.4,412.2 L323.0,416.9 L323.6,397.2 L324.2,408.1 L324.8,418.8 L325.4,393.7 L326.0,401.0 L326.6,407.2 L327.2,406.3 L327.8,405.4 L328.4,415.8 L329.0,408.1 L329.6,405.8 L330.2,398.1 L330.8,413.6 L331.4,415.5 L332.0,403.8 L332.6,421.0 L333.2,407.3 L333.8,410.8 L334.4,408.4 L335.0,411.2 L335.6,411.1 L336.2,426.9 L336.8,410.1 L337.4,411.8 L338.0,425.3 L338.6,427.2 L339.2,403.5 L339.8,415.1 L340.4,413.0 L341.0,411.4 L341.6,407.0 L342.2,411.1 L342.8,412.6 L343.4,409.4 L344.0,414.5 L344.6,421.9 L345.2,407.4 L345.8,407.1 L346.4,410.1 L347.0,425.3 L347.6,414.6 L348.2,394.5 L348.8,405.4 L349.4,402.4 L350.0,411.2 L350.6,412.9 L351.2,405.3 L351.8,407.3 L352.4,404.9 L353.0,421.6 L353.6,409.9 L354.2,407.2 L354.8,412.3 L355.4,408.6 L356.0,415.6 L356.6,407.2 L357.2,406.3 L357.8,417.0 L358.4,410.2 L359.0,408.9 L359.6,404.3 L360.2,409.2 L360.8,412.2 L361.4,412.4 L362.0,414.1 L362.6,408.1 L363.2,401.9 L363.8,411.5 L364.4,413.4 L365.0,414.7 L365.6,416.0 L366.2,405.5 L366.8,414.6 L367.4,400.9 L368.0,417.4 L368.6,410.9 L369.2,425.5 L369.8,412.7 L370.4,410.6 L371.0,413.8 L371.6,414.7 L372.2,411.1 L372.8,406.2 L373.4,420.4 L374.0,414.7 L374.6,407.4 L375.2,406.3 L375.8,419.3 L376.4,419.7 L377.0,408.7 L377.6,417.5 L378.2,403.8 L378.8,416.9 L379.4,405.6 L380.0,413.9 L380.6,426.9 L381.2,406.9 L381.8,414.3 L382.4,431.4 L383.0,416.1 L383.6,411.7 L384.2,412.8 L384.8,427.0 L385.4,411.7 L386.0,413.7 L386.6,416.2 L387.2,416.6 L387.8,406.5 L388.4,409.4 L389.0,406.6 L389.6,413.6 L390.2,410.6 L390.8,413.1 L391.4,417.5 L392.0,411.8 L392.6,415.6 L393.2,415.3 L393.8,430.0 L394.4,414.3 L395.0,410.8 L395.6,416.3 L396.2,413.9 L396.8,404.9 L397.4,413.2 L398.0,411.9 L398.6,408.2 L399.2,410.6 L399.8,423.6 L400.4,415.4 L401.0,416.8 L401.6,406.6 L402.2,409.7 L402.8,412.6 L403.4,415.5 L404.0,412.9 L404.6,415.5 L405.2,410.5 L405.8,412.2 L406.4,419.2 L407.0,413.4 L407.6,410.4 L408.2,419.5 L408.8,409.4 L409.4,410.1 L410.0,413.0 L410.6,416.4 L411.2,430.0 L411.8,414.9 L412.4,428.5 L413.0,415.7 L413.6,413.1 L414.2,407.1 L414.8,412.1 L415.4,421.3 L416.0,418.0 L416.6,414.7 L417.2,418.1 L417.8,415.3 L418.4,400.9 L419.0,415.6 L419.6,415.7" class="bk2"/>
<path d="M419.6,411.1 L420.9,431.6 L422.2,414.5 L423.5,413.0 L424.8,410.6 L426.1,396.0 L427.4,412.7 L428.7,412.6 L430.0,409.9 L431.3,415.5 L432.6,416.5 L433.9,414.6 L435.2,412.8 L436.5,413.3 L437.8,411.8 L439.1,416.7 L440.4,410.8 L441.7,418.2 L443.0,414.8 L444.3,404.6 L445.6,421.4 L446.9,411.6 L448.2,415.2 L449.5,412.3 L450.8,410.9 L452.1,417.3 L453.4,416.7 L454.7,415.6 L456.0,414.8 L457.3,414.4 L458.6,407.5 L459.9,412.2 L461.2,412.2 L462.5,415.3 L463.8,414.6 L465.1,416.2 L466.4,386.9 L467.7,417.4 L469.0,415.8 L470.3,403.2 L471.6,414.4 L472.9,421.6 L474.2,414.3 L475.5,413.5 L476.8,412.6 L478.1,415.8 L479.4,415.0 L480.7,415.7 L482.0,415.7 L483.3,411.1 L484.6,418.4 L485.9,416.7 L487.2,411.6 L488.5,422.6 L489.8,412.6 L491.1,413.5 L492.4,422.9 L493.7,411.4 L495.0,420.1 L496.3,410.3 L497.6,409.7 L498.9,427.0 L500.2,416.6 L501.5,411.8 L502.8,417.7 L504.1,413.5 L505.4,416.2 L506.7,416.8 L508.0,414.4 L509.3,417.9 L510.6,415.3 L511.9,411.8 L513.2,405.1 L514.5,434.5 L515.8,423.9 L517.1,412.6 L518.4,415.0 L519.7,411.5 L521.0,417.2 L522.3,428.8 L523.6,418.7 L524.9,417.5 L526.2,409.8 L527.5,415.1 L528.8,423.5 L530.1,414.6 L531.4,417.9 L532.7,414.5 L534.0,418.6 L535.3,401.3 L536.6,416.1 L537.9,415.3 L539.2,414.4 L540.5,417.2 L541.8,416.1 L543.1,417.9 L544.4,415.6 L545.7,408.9 L547.0,414.9 L548.3,413.6 L549.6,412.6 L550.9,418.0 L552.2,409.4 L553.5,417.4 L554.8,417.1 L556.1,417.7 L557.4,418.9 L558.7,415.9 L560.0,413.2 L561.3,420.0 L562.6,417.4 L563.9,417.0 L565.2,414.0 L566.5,416.1 L567.8,423.6 L569.1,417.1 L570.4,420.0 L571.7,424.3 L573.0,418.3 L574.3,420.1 L575.6,421.0 L576.9,419.1 L578.2,423.3 L579.5,416.4 L580.8,420.2 L582.1,417.5 L583.4,415.2 L584.7,414.6 L586.0,419.7 L587.3,417.0 L588.6,418.7 L589.9,411.7 L591.2,416.2 L592.5,419.4 L593.8,419.4 L595.1,404.2 L596.4,408.9 L597.7,411.9 L599.0,414.2 L600.3,412.9 L601.6,419.7 L602.9,424.6 L604.2,412.7 L605.5,417.7 L606.8,420.6 L608.1,418.2 L609.4,404.8 L610.7,414.5 L612.0,417.8 L613.3,419.2 L614.6,407.9 L615.9,417.8 L617.2,416.6 L618.5,418.9 L619.8,414.7 L621.1,417.9 L622.4,415.1 L623.7,417.9 L625.0,408.6 L626.3,417.7 L627.6,414.0 L628.9,418.4 L630.2,410.1 L631.5,417.3 L632.8,411.2 L634.1,417.3 L635.4,421.1 L636.7,409.6 L638.0,439.0 L639.3,417.1 L640.6,414.6 L641.9,418.5 L643.2,415.0 L644.5,415.2 L645.8,430.6 L647.1,409.8 L648.4,411.1 L649.7,420.2 L651.0,416.1 L652.3,416.4 L653.6,416.2 L654.9,417.4 L656.2,417.7 L657.5,433.3 L658.8,421.8 L660.1,409.5 L661.4,413.7 L662.7,415.2 L664.0,419.2 L665.3,418.8 L666.6,418.0 L667.9,407.9 L669.2,417.1 L670.5,416.5 L671.8,411.3 L673.1,413.9 L674.4,419.5 L675.7,420.9 L677.0,413.0 L678.3,415.1 L679.6,416.1 L680.9,405.5 L682.2,414.3 L683.5,412.9 L684.8,400.8 L686.1,399.0 L687.4,414.8 L688.7,409.8 L690.0,413.7 L691.3,411.3 L692.6,422.8 L693.9,421.8 L695.2,409.9 L696.5,415.7 L697.8,420.3 L699.1,418.2 L700.4,419.4 L701.7,416.4 L703.0,418.7 L704.3,419.3 L705.6,404.3 L706.9,416.0 L708.2,425.0 L709.5,415.8 L710.8,416.3 L712.1,416.8 L713.4,409.3 L714.7,417.7 L716.0,410.6 L717.3,422.3 L718.6,434.6 L719.9,421.3 L721.2,414.1 L722.5,416.8 L723.8,418.2 L725.1,413.4 L726.4,416.0 L727.7,413.2 L729.0,419.8 L730.3,425.0 L731.6,425.3 L732.9,416.0 L734.2,414.5 L735.5,423.3 L736.8,418.2 L738.1,419.2 L739.4,412.3 L740.7,419.1 L742.0,413.0 L743.3,417.7 L744.6,412.7 L745.9,414.0 L747.2,418.2 L748.5,410.9 L749.8,421.9 L751.1,417.4 L752.4,411.3 L753.7,427.6 L755.0,415.3 L756.3,412.6 L757.6,416.5 L758.9,418.8 L760.2,419.7 L761.5,433.4 L762.8,417.8 L764.1,414.1 L765.4,417.7 L766.7,413.0 L768.0,422.8 L769.3,416.2 L770.6,413.1 L771.9,422.0 L773.2,398.7 L774.5,414.5 L775.8,418.3 L777.1,420.0 L778.4,418.9 L779.7,417.1 L781.0,417.8 L782.3,416.6 L783.6,415.7 L784.9,422.9 L786.2,412.9 L787.5,438.4 L788.8,418.2 L790.1,414.1 L791.4,408.0 L792.7,415.7 L794.0,432.2 L795.3,411.6 L796.6,427.4 L797.9,420.6 L799.2,422.5 L800.5,419.0 L801.8,419.1 L803.1,415.1 L804.4,413.4 L805.7,410.6 L807.0,418.7 L808.3,414.9 L809.6,417.2 L810.9,421.6 L812.2,412.6 L813.5,419.2 L814.8,413.0 L816.1,415.5 L817.4,405.2 L818.7,417.2 L820.0,413.4 L821.3,398.3 L822.6,425.1 L823.9,392.1 L825.2,417.1 L826.5,417.0 L827.8,416.2 L829.1,417.8 L830.4,415.6 L831.7,414.9 L833.0,420.7 L834.3,413.1 L835.6,415.1 L836.9,417.6 L838.2,402.8 L839.5,417.9 L840.8,413.0 L842.1,414.2 L843.4,411.2 L844.7,419.2 L846.0,412.4 L847.3,401.5 L848.6,399.6 L849.9,398.9 L851.2,438.6 L852.5,416.7 L853.8,404.8 L855.1,419.6 L856.4,419.0 L857.7,423.6 L859.0,419.8 L860.3,414.1 L861.6,413.4 L862.9,422.7 L864.2,424.3 L865.5,424.2 L866.8,423.2 L868.1,425.5 L869.4,424.3 L870.7,420.7 L872.0,417.1 L873.3,404.1 L874.6,416.3 L875.9,415.4 L877.2,416.5 L878.5,424.9 L879.8,425.7 L881.1,420.2 L882.4,413.9 L883.7,403.7 L885.0,411.3 L886.3,415.7 L887.6,419.2 L888.9,418.6 L890.2,423.7 L891.5,403.9 L892.8,416.3 L894.1,419.4 L895.4,430.7 L896.7,416.2 L898.0,417.0 L899.3,422.4 L900.6,412.6 L901.9,414.0 L903.2,435.4 L904.5,420.4 L905.8,410.0 L907.1,414.6 L908.4,422.9 L909.7,417.0 L911.0,422.8 L912.3,430.7 L913.6,419.3 L914.9,432.9 L916.2,413.9 L917.5,415.1 L918.8,407.6 L920.1,423.8 L921.4,438.6 L922.7,422.5 L924.0,416.2 L925.3,416.9 L926.6,411.9 L927.9,416.8 L929.2,417.1 L930.5,411.1 L931.8,416.7 L933.1,434.1 L934.4,407.6 L935.7,440.3 L937.0,417.1 L938.3,416.4 L939.6,424.7 L940.9,430.0 L942.2,421.9 L943.5,415.0 L944.8,419.6 L946.1,417.2 L947.4,412.7 L948.7,410.4 L950.0,420.2 L951.3,422.6 L952.6,434.9 L953.9,415.5 L955.2,418.0 L956.5,408.8 L957.8,416.3 L959.1,415.2 L960.4,424.2 L961.7,419.1 L963.0,407.4 L964.3,424.0 L965.6,420.8 L966.9,411.2 L968.2,419.0 L969.5,424.1 L970.8,419.4 L972.1,432.5 L973.4,414.8 L974.7,404.8 L976.0,424.5 L977.3,417.7 L978.6,420.8 L979.9,408.7 L981.2,420.9 L982.5,426.7 L983.8,414.0 L985.1,412.7 L986.4,409.0 L987.7,412.7 L989.0,422.0 L990.3,426.6 L991.6,434.3 L992.9,427.5 L994.2,421.2 L995.5,416.6 L996.8,417.6 L998.1,414.1 L999.4,421.5 L1000.7,424.4 L1002.0,417.3 L1003.3,417.4 L1004.6,420.8 L1005.9,414.5 L1007.2,397.0 L1008.5,405.3 L1009.8,417.5 L1011.1,422.9 L1012.4,421.0 L1013.7,414.3 L1015.0,418.7 L1016.3,424.8 L1017.6,424.4 L1018.9,402.5 L1020.2,412.4 L1021.5,403.0 L1022.8,419.9 L1024.1,415.9 L1025.4,411.6 L1026.7,419.4 L1028.0,419.3 L1029.3,415.1 L1030.6,420.6 L1031.9,419.0 L1033.2,416.3 L1034.5,419.4 L1035.8,416.0 L1037.1,419.3 L1038.4,412.9 L1039.7,417.1 L1041.0,413.0 L1042.3,419.8 L1043.6,422.8 L1044.9,434.3 L1046.2,417.3 L1047.5,413.4 L1048.8,423.8 L1050.1,420.3 L1051.4,429.0 L1052.7,421.1 L1054.0,415.6 L1055.3,432.7 L1056.6,415.7 L1057.9,407.8 L1059.2,417.0 L1060.5,417.2 L1061.8,419.1 L1063.1,419.8 L1064.4,418.5 L1065.7,425.6 L1067.0,416.5 L1068.3,417.6 L1069.6,422.7 L1070.9,415.0 L1072.2,415.3 L1073.5,401.7 L1074.8,416.6 L1076.1,422.7 L1077.4,412.0 L1078.7,419.9 L1080.0,419.3 L1081.3,415.2 L1082.6,419.2 L1083.9,420.2 L1085.2,417.2 L1086.5,419.1 L1087.8,415.3 L1089.1,423.8 L1090.4,418.6 L1091.7,442.7 L1093.0,418.8 L1094.3,418.9 L1095.6,419.2 L1096.9,416.1 L1098.2,421.4" class="bk"/>
<path d="M1084,412 L1086,399 L1089,360 L1091.5,330 L1093.5,319 L1095.5,325 L1098.5,345" class="bk"/>
<path d="M1085,415 L1088,402 L1092,394 L1094,389 L1096,388 L1098.5,384" class="bk"/>
</g>
<rect x="130.7" y="11.5" width="967.7" height="811.7" fill="none" stroke="#000" stroke-width="2.3"/>
<line x1="119.5" y1="11.5" x2="130.7" y2="11.5" stroke="#000" stroke-width="2.2"/>
<text x="114.5" y="23.0" text-anchor="end" class="tk">3</text>
<line x1="119.5" y1="146.7" x2="130.7" y2="146.7" stroke="#000" stroke-width="2.2"/>
<text x="114.5" y="158.2" text-anchor="end" class="tk">2</text>
<line x1="119.5" y1="282.0" x2="130.7" y2="282.0" stroke="#000" stroke-width="2.2"/>
<polygon points="112.8,270.8 110.2,270.8 108.2,273.0 105.8,274.6 103.8,275.8 103.8,279.0 106.6,277.6 109.3,275.8 109.3,293.2 112.8,293.2" fill="#000"/>
<line x1="119.5" y1="417.3" x2="130.7" y2="417.3" stroke="#000" stroke-width="2.2"/>
<text x="114.5" y="428.8" text-anchor="end" class="tk">0</text>
<line x1="119.5" y1="552.6" x2="130.7" y2="552.6" stroke="#000" stroke-width="2.2"/>
<polygon points="112.8,541.4 110.2,541.4 108.2,543.6 105.8,545.2 103.8,546.4 103.8,549.6 106.6,548.2 109.3,546.4 109.3,563.8 112.8,563.8" fill="#000"/>
<text x="101.5" y="564.9" text-anchor="end" class="tk">-</text>
<line x1="119.5" y1="687.9" x2="130.7" y2="687.9" stroke="#000" stroke-width="2.2"/>
<text x="118.3" y="699.4" text-anchor="end" class="tk">2</text>
<text x="101.5" y="700.2" text-anchor="end" class="tk">-</text>
<line x1="119.5" y1="823.1" x2="130.7" y2="823.1" stroke="#000" stroke-width="2.2"/>
<text x="118.3" y="834.6" text-anchor="end" class="tk">3</text>
<text x="101.5" y="835.4" text-anchor="end" class="tk">-</text>
<line x1="130.7" y1="823.2" x2="130.7" y2="834" stroke="#000" stroke-width="2.2"/>
<text x="130.7" y="859.2" text-anchor="middle" class="tk">0</text>
<line x1="303.5" y1="823.2" x2="303.5" y2="834" stroke="#000" stroke-width="2.2"/>
<text x="303.5" y="859.2" text-anchor="middle" class="tk">5</text>
<line x1="476.3" y1="823.2" x2="476.3" y2="834" stroke="#000" stroke-width="2.2"/>
<polygon points="472.7,836.5 470.1,836.5 468.1,838.7 465.7,840.3 463.7,841.5 463.7,844.7 466.5,843.3 469.2,841.5 469.2,858.9 472.7,858.9" fill="#000"/>
<text x="477.3" y="859.2" class="tk">0</text>
<line x1="649.0" y1="823.2" x2="649.0" y2="834" stroke="#000" stroke-width="2.2"/>
<polygon points="645.4,836.5 642.8,836.5 640.8,838.7 638.4,840.3 636.4,841.5 636.4,844.7 639.2,843.3 641.9,841.5 641.9,858.9 645.4,858.9" fill="#000"/>
<text x="650.0" y="859.2" class="tk">5</text>
<line x1="821.8" y1="823.2" x2="821.8" y2="834" stroke="#000" stroke-width="2.2"/>
<text x="821.8" y="859.2" text-anchor="middle" class="tk">20</text>
<line x1="994.6" y1="823.2" x2="994.6" y2="834" stroke="#000" stroke-width="2.2"/>
<text x="994.6" y="859.2" text-anchor="middle" class="tk">25</text>
<text x="627" y="895" text-anchor="middle" class="ttl">Time [ns]</text>
<rect x="507" y="11.6" width="373" height="80.8" fill="#fff" stroke="#000" stroke-width="2.6"/>
<text x="698" y="66.3" text-anchor="middle" class="bt">SPAD type B 100µm</text>
<text x="1081" y="181" text-anchor="end" class="bd">Breakdown level for V<tspan class="sb" dy="6.6">AN</tspan><tspan dy="-6.6">=-63V</tspan></text>
<text x="1082.5" y="300.8" text-anchor="end" class="bd">Breakdown level for V<tspan class="sb" dy="6.6">AN</tspan><tspan dy="-6.6">=-64V</tspan></text>
<text x="1081" y="476.3" text-anchor="end" class="bd">Breakdown level for V<tspan class="sb" dy="6.6">AN</tspan><tspan dy="-6.6">=-65V</tspan></text>
<text x="1081" y="541.6" text-anchor="end" class="bd">Breakdown level for V<tspan class="sb" dy="6.6">AN</tspan><tspan dy="-6.6">=-66V</tspan></text>
<text x="1081" y="674.2" text-anchor="end" class="bd">Breakdown level for V<tspan class="sb" dy="6.6">AN</tspan><tspan dy="-6.6">=-67V</tspan></text>
<text x="1081" y="806.3" text-anchor="end" class="bd">Breakdown level for V<tspan class="sb" dy="6.6">AN</tspan><tspan dy="-6.6">=-68V</tspan></text>
<text x="262" y="111" class="an">V<tspan class="sb2" dy="6.6">AN</tspan><tspan dy="-6.6">=-68V</tspan></text>
<text x="268" y="186" class="an">V<tspan class="sb2" dy="6.6">AN</tspan><tspan dy="-6.6">=-67V</tspan></text>
<text x="303" y="247" class="an">V<tspan class="sb2" dy="6.6">AN</tspan><tspan dy="-6.6">=-66V</tspan></text>
<text x="308" y="311" class="an">V<tspan class="sb2" dy="6.6">AN</tspan><tspan dy="-6.6">=-65V</tspan></text>
<text x="312.8" y="363.8" class="an">V<tspan class="sb2" dy="6.6">AN</tspan><tspan dy="-6.6">=-64V</tspan></text>
<text x="308.5" y="458.7" class="an">V<tspan class="sb2" dy="6.6">AN</tspan><tspan dy="-6.6">=-63V</tspan></text>
<line x1="259" y1="105.4" x2="239.3" y2="111.5" stroke="#000" stroke-width="2"/>
<polygon points="225,116 237.1,104.6 241.5,118.5" fill="#000"/>
<line x1="269" y1="179" x2="238.3" y2="188.5" stroke="#000" stroke-width="2"/>
<polygon points="224,193 236.2,181.6 240.5,195.5" fill="#000"/>
<line x1="305" y1="239.6" x2="241.5" y2="257.0" stroke="#000" stroke-width="2"/>
<polygon points="227,261 239.5,250.0 243.4,264.1" fill="#000"/>
<line x1="303" y1="302.4" x2="251.5" y2="316.1" stroke="#000" stroke-width="2"/>
<polygon points="237,320 249.6,309.1 253.4,323.2" fill="#000"/>
<line x1="311.6" y1="355" x2="265.2" y2="364.9" stroke="#000" stroke-width="2"/>
<polygon points="250.5,368 263.7,357.7 266.7,372.0" fill="#000"/>
<line x1="307.3" y1="441.3" x2="293.9" y2="427.9" stroke="#000" stroke-width="2"/>
<polygon points="283.3,417.3 299.1,422.7 288.7,433.1" fill="#000"/>
<text transform="translate(29.8,641) rotate(-90)" class="ttl" style="fill:#7a7a7a">Cathode voltage V<tspan class="sb3" dy="8">Cat</tspan><tspan dy="-8"> [V]</tspan></text>
<text transform="translate(78.5,643.5) rotate(-90)" class="ttl" textLength="420.5" lengthAdjust="spacingAndGlyphs">Avalanche current [mA]</text>
<line x1="14.4" y1="650" x2="14.4" y2="746" stroke="#7a7a7a" stroke-width="2.2" stroke-dasharray="4 3"/>
<line x1="65.4" y1="650" x2="65.4" y2="746" stroke="#000" stroke-width="3"/>
</svg></body></html>
